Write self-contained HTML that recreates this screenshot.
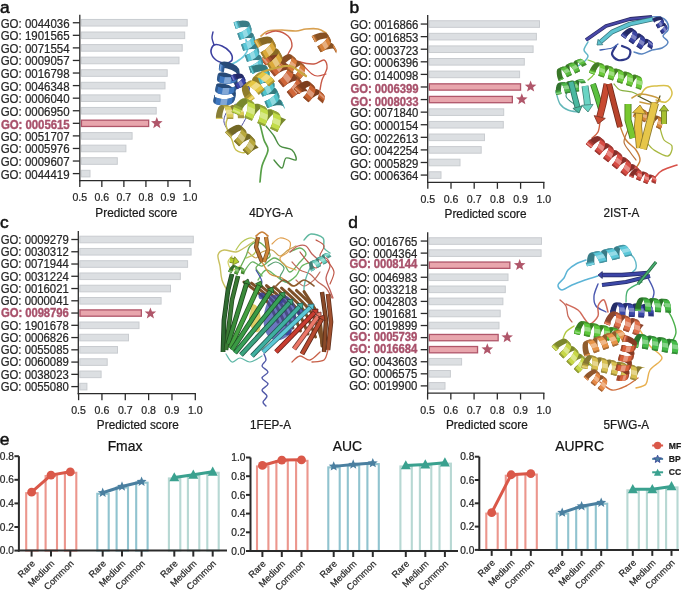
<!DOCTYPE html><html><head><meta charset="utf-8"><style>
html,body{margin:0;padding:0;background:#fff;}
svg{display:block;font-family:'Liberation Sans', Arial, Helvetica, sans-serif;}
text{paint-order:stroke;}
</style></head><body>
<svg width="685" height="590" viewBox="0 0 685 590">
<rect width="685" height="590" fill="#fff"/>
<text transform="translate(0.00,12.80) scale(1,1.0)" font-size="17.4" fill="#111" stroke="#111" stroke-width="0.5">a</text>
<rect x="81.30" y="19.45" width="105.90" height="6.60" fill="#dcdfe2" stroke="#c9ccd0" stroke-width="1.0"/>
<line x1="72.8" y1="22.75" x2="79.8" y2="22.75" stroke="#2b2b2b" stroke-width="1.3"/>
<text transform="translate(69.60,27.75) scale(1,1.11)" font-size="11.5" fill="#262626" text-anchor="end" stroke="#262626" stroke-width="0.22">GO: 0044036</text>
<rect x="81.30" y="32.02" width="103.40" height="6.60" fill="#dcdfe2" stroke="#c9ccd0" stroke-width="1.0"/>
<line x1="72.8" y1="35.32" x2="79.8" y2="35.32" stroke="#2b2b2b" stroke-width="1.3"/>
<text transform="translate(69.60,40.32) scale(1,1.11)" font-size="11.5" fill="#262626" text-anchor="end" stroke="#262626" stroke-width="0.22">GO: 1901565</text>
<rect x="81.30" y="44.59" width="100.90" height="6.60" fill="#dcdfe2" stroke="#c9ccd0" stroke-width="1.0"/>
<line x1="72.8" y1="47.89" x2="79.8" y2="47.89" stroke="#2b2b2b" stroke-width="1.3"/>
<text transform="translate(69.60,52.89) scale(1,1.11)" font-size="11.5" fill="#262626" text-anchor="end" stroke="#262626" stroke-width="0.22">GO: 0071554</text>
<rect x="81.30" y="57.16" width="97.70" height="6.60" fill="#dcdfe2" stroke="#c9ccd0" stroke-width="1.0"/>
<line x1="72.8" y1="60.46" x2="79.8" y2="60.46" stroke="#2b2b2b" stroke-width="1.3"/>
<text transform="translate(69.60,65.46) scale(1,1.11)" font-size="11.5" fill="#262626" text-anchor="end" stroke="#262626" stroke-width="0.22">GO: 0009057</text>
<rect x="81.30" y="69.73" width="85.90" height="6.60" fill="#dcdfe2" stroke="#c9ccd0" stroke-width="1.0"/>
<line x1="72.8" y1="73.03" x2="79.8" y2="73.03" stroke="#2b2b2b" stroke-width="1.3"/>
<text transform="translate(69.60,78.03) scale(1,1.11)" font-size="11.5" fill="#262626" text-anchor="end" stroke="#262626" stroke-width="0.22">GO: 0016798</text>
<rect x="81.30" y="82.30" width="83.70" height="6.60" fill="#dcdfe2" stroke="#c9ccd0" stroke-width="1.0"/>
<line x1="72.8" y1="85.60" x2="79.8" y2="85.60" stroke="#2b2b2b" stroke-width="1.3"/>
<text transform="translate(69.60,90.60) scale(1,1.11)" font-size="11.5" fill="#262626" text-anchor="end" stroke="#262626" stroke-width="0.22">GO: 0046348</text>
<rect x="81.30" y="94.88" width="78.70" height="6.60" fill="#dcdfe2" stroke="#c9ccd0" stroke-width="1.0"/>
<line x1="72.8" y1="98.18" x2="79.8" y2="98.18" stroke="#2b2b2b" stroke-width="1.3"/>
<text transform="translate(69.60,103.18) scale(1,1.11)" font-size="11.5" fill="#262626" text-anchor="end" stroke="#262626" stroke-width="0.22">GO: 0006040</text>
<rect x="81.30" y="107.45" width="74.90" height="6.60" fill="#dcdfe2" stroke="#c9ccd0" stroke-width="1.0"/>
<line x1="72.8" y1="110.75" x2="79.8" y2="110.75" stroke="#2b2b2b" stroke-width="1.3"/>
<text transform="translate(69.60,115.75) scale(1,1.11)" font-size="11.5" fill="#262626" text-anchor="end" stroke="#262626" stroke-width="0.22">GO: 0006950</text>
<rect x="81.45" y="120.17" width="67.20" height="6.30" fill="#e8a6ad" stroke="#b0566a" stroke-width="1.3"/>
<line x1="72.8" y1="123.32" x2="79.8" y2="123.32" stroke="#2b2b2b" stroke-width="1.3"/>
<text transform="translate(69.60,129.42) scale(1,1.11)" font-size="11.5" fill="#a8506a" text-anchor="end" font-weight="bold" letter-spacing="-0.08" stroke-width="0.32" stroke="#a8506a">GO: 0005615</text>
<rect x="81.30" y="132.59" width="50.80" height="6.60" fill="#dcdfe2" stroke="#c9ccd0" stroke-width="1.0"/>
<line x1="72.8" y1="135.89" x2="79.8" y2="135.89" stroke="#2b2b2b" stroke-width="1.3"/>
<text transform="translate(69.60,140.89) scale(1,1.11)" font-size="11.5" fill="#262626" text-anchor="end" stroke="#262626" stroke-width="0.22">GO: 0051707</text>
<rect x="81.30" y="145.16" width="44.60" height="6.60" fill="#dcdfe2" stroke="#c9ccd0" stroke-width="1.0"/>
<line x1="72.8" y1="148.46" x2="79.8" y2="148.46" stroke="#2b2b2b" stroke-width="1.3"/>
<text transform="translate(69.60,153.46) scale(1,1.11)" font-size="11.5" fill="#262626" text-anchor="end" stroke="#262626" stroke-width="0.22">GO: 0005976</text>
<rect x="81.30" y="157.73" width="36.00" height="6.60" fill="#dcdfe2" stroke="#c9ccd0" stroke-width="1.0"/>
<line x1="72.8" y1="161.03" x2="79.8" y2="161.03" stroke="#2b2b2b" stroke-width="1.3"/>
<text transform="translate(69.60,166.03) scale(1,1.11)" font-size="11.5" fill="#262626" text-anchor="end" stroke="#262626" stroke-width="0.22">GO: 0009607</text>
<rect x="81.30" y="170.30" width="8.70" height="6.60" fill="#dcdfe2" stroke="#c9ccd0" stroke-width="1.0"/>
<line x1="72.8" y1="173.60" x2="79.8" y2="173.60" stroke="#2b2b2b" stroke-width="1.3"/>
<text transform="translate(69.60,178.60) scale(1,1.11)" font-size="11.5" fill="#262626" text-anchor="end" stroke="#262626" stroke-width="0.22">GO: 0044419</text>
<path d="M156.80,117.10 L158.33,121.10 L162.60,121.31 L159.27,124.00 L160.39,128.14 L156.80,125.80 L153.21,128.14 L154.33,124.00 L151.00,121.31 L155.27,121.10 Z" fill="#b0566a"/>
<line x1="79.8" y1="14.7" x2="79.8" y2="181.25" stroke="#2b2b2b" stroke-width="1.3"/>
<line x1="79.14999999999999" y1="180.6" x2="190.65" y2="180.6" stroke="#2b2b2b" stroke-width="1.3"/>
<line x1="79.80" y1="180.6" x2="79.80" y2="187.1" stroke="#2b2b2b" stroke-width="1.3"/>
<text transform="translate(79.80,201.10) scale(1,1.11)" font-size="10.6" fill="#262626" text-anchor="middle" stroke="#262626" stroke-width="0.22">0.5</text>
<line x1="101.84" y1="180.6" x2="101.84" y2="187.1" stroke="#2b2b2b" stroke-width="1.3"/>
<text transform="translate(101.84,201.10) scale(1,1.11)" font-size="10.6" fill="#262626" text-anchor="middle" stroke="#262626" stroke-width="0.22">0.6</text>
<line x1="123.88" y1="180.6" x2="123.88" y2="187.1" stroke="#2b2b2b" stroke-width="1.3"/>
<text transform="translate(123.88,201.10) scale(1,1.11)" font-size="10.6" fill="#262626" text-anchor="middle" stroke="#262626" stroke-width="0.22">0.7</text>
<line x1="145.92" y1="180.6" x2="145.92" y2="187.1" stroke="#2b2b2b" stroke-width="1.3"/>
<text transform="translate(145.92,201.10) scale(1,1.11)" font-size="10.6" fill="#262626" text-anchor="middle" stroke="#262626" stroke-width="0.22">0.8</text>
<line x1="167.96" y1="180.6" x2="167.96" y2="187.1" stroke="#2b2b2b" stroke-width="1.3"/>
<text transform="translate(167.96,201.10) scale(1,1.11)" font-size="10.6" fill="#262626" text-anchor="middle" stroke="#262626" stroke-width="0.22">0.9</text>
<line x1="190.00" y1="180.6" x2="190.00" y2="187.1" stroke="#2b2b2b" stroke-width="1.3"/>
<text transform="translate(190.00,201.10) scale(1,1.11)" font-size="10.6" fill="#262626" text-anchor="middle" stroke="#262626" stroke-width="0.22">1.0</text>
<text transform="translate(136.30,216.60) scale(1,1.11)" font-size="11.8" fill="#1a1a1a" text-anchor="middle" stroke="#1a1a1a" stroke-width="0.22">Predicted score</text>
<text transform="translate(349.50,12.50) scale(1,1.0)" font-size="17.4" fill="#111" stroke="#111" stroke-width="0.5">b</text>
<rect x="429.20" y="20.75" width="110.30" height="6.60" fill="#dcdfe2" stroke="#c9ccd0" stroke-width="1.0"/>
<line x1="420.7" y1="24.05" x2="427.7" y2="24.05" stroke="#2b2b2b" stroke-width="1.3"/>
<text transform="translate(418.40,29.35) scale(1,1.11)" font-size="11.35" fill="#262626" text-anchor="end" stroke="#262626" stroke-width="0.22">GO: 0016866</text>
<rect x="429.20" y="33.34" width="107.20" height="6.60" fill="#dcdfe2" stroke="#c9ccd0" stroke-width="1.0"/>
<line x1="420.7" y1="36.64" x2="427.7" y2="36.64" stroke="#2b2b2b" stroke-width="1.3"/>
<text transform="translate(418.40,41.94) scale(1,1.11)" font-size="11.35" fill="#262626" text-anchor="end" stroke="#262626" stroke-width="0.22">GO: 0016853</text>
<rect x="429.20" y="45.92" width="103.90" height="6.60" fill="#dcdfe2" stroke="#c9ccd0" stroke-width="1.0"/>
<line x1="420.7" y1="49.22" x2="427.7" y2="49.22" stroke="#2b2b2b" stroke-width="1.3"/>
<text transform="translate(418.40,54.52) scale(1,1.11)" font-size="11.35" fill="#262626" text-anchor="end" stroke="#262626" stroke-width="0.22">GO: 0003723</text>
<rect x="429.20" y="58.51" width="95.10" height="6.60" fill="#dcdfe2" stroke="#c9ccd0" stroke-width="1.0"/>
<line x1="420.7" y1="61.81" x2="427.7" y2="61.81" stroke="#2b2b2b" stroke-width="1.3"/>
<text transform="translate(418.40,67.11) scale(1,1.11)" font-size="11.35" fill="#262626" text-anchor="end" stroke="#262626" stroke-width="0.22">GO: 0006396</text>
<rect x="429.20" y="71.09" width="90.40" height="6.60" fill="#dcdfe2" stroke="#c9ccd0" stroke-width="1.0"/>
<line x1="420.7" y1="74.39" x2="427.7" y2="74.39" stroke="#2b2b2b" stroke-width="1.3"/>
<text transform="translate(418.40,79.69) scale(1,1.11)" font-size="11.35" fill="#262626" text-anchor="end" stroke="#262626" stroke-width="0.22">GO: 0140098</text>
<rect x="429.35" y="83.83" width="91.20" height="6.30" fill="#e8a6ad" stroke="#b0566a" stroke-width="1.3"/>
<line x1="420.7" y1="86.98" x2="427.7" y2="86.98" stroke="#2b2b2b" stroke-width="1.3"/>
<text transform="translate(418.40,93.38) scale(1,1.11)" font-size="11.35" fill="#a8506a" text-anchor="end" font-weight="bold" letter-spacing="-0.08" stroke-width="0.32" stroke="#a8506a">GO: 0006399</text>
<rect x="429.35" y="96.41" width="83.00" height="6.30" fill="#e8a6ad" stroke="#b0566a" stroke-width="1.3"/>
<line x1="420.7" y1="99.56" x2="427.7" y2="99.56" stroke="#2b2b2b" stroke-width="1.3"/>
<text transform="translate(418.40,105.96) scale(1,1.11)" font-size="11.35" fill="#a8506a" text-anchor="end" font-weight="bold" letter-spacing="-0.08" stroke-width="0.32" stroke="#a8506a">GO: 0008033</text>
<rect x="429.20" y="108.84" width="74.50" height="6.60" fill="#dcdfe2" stroke="#c9ccd0" stroke-width="1.0"/>
<line x1="420.7" y1="112.14" x2="427.7" y2="112.14" stroke="#2b2b2b" stroke-width="1.3"/>
<text transform="translate(418.40,117.44) scale(1,1.11)" font-size="11.35" fill="#262626" text-anchor="end" stroke="#262626" stroke-width="0.22">GO: 0071840</text>
<rect x="429.20" y="121.43" width="74.10" height="6.60" fill="#dcdfe2" stroke="#c9ccd0" stroke-width="1.0"/>
<line x1="420.7" y1="124.73" x2="427.7" y2="124.73" stroke="#2b2b2b" stroke-width="1.3"/>
<text transform="translate(418.40,130.03) scale(1,1.11)" font-size="11.35" fill="#262626" text-anchor="end" stroke="#262626" stroke-width="0.22">GO: 0000154</text>
<rect x="429.20" y="134.02" width="55.30" height="6.60" fill="#dcdfe2" stroke="#c9ccd0" stroke-width="1.0"/>
<line x1="420.7" y1="137.32" x2="427.7" y2="137.32" stroke="#2b2b2b" stroke-width="1.3"/>
<text transform="translate(418.40,142.62) scale(1,1.11)" font-size="11.35" fill="#262626" text-anchor="end" stroke="#262626" stroke-width="0.22">GO: 0022613</text>
<rect x="429.20" y="146.60" width="52.00" height="6.60" fill="#dcdfe2" stroke="#c9ccd0" stroke-width="1.0"/>
<line x1="420.7" y1="149.90" x2="427.7" y2="149.90" stroke="#2b2b2b" stroke-width="1.3"/>
<text transform="translate(418.40,155.20) scale(1,1.11)" font-size="11.35" fill="#262626" text-anchor="end" stroke="#262626" stroke-width="0.22">GO: 0042254</text>
<rect x="429.20" y="159.19" width="30.80" height="6.60" fill="#dcdfe2" stroke="#c9ccd0" stroke-width="1.0"/>
<line x1="420.7" y1="162.49" x2="427.7" y2="162.49" stroke="#2b2b2b" stroke-width="1.3"/>
<text transform="translate(418.40,167.78) scale(1,1.11)" font-size="11.35" fill="#262626" text-anchor="end" stroke="#262626" stroke-width="0.22">GO: 0005829</text>
<rect x="429.20" y="171.77" width="11.80" height="6.60" fill="#dcdfe2" stroke="#c9ccd0" stroke-width="1.0"/>
<line x1="420.7" y1="175.07" x2="427.7" y2="175.07" stroke="#2b2b2b" stroke-width="1.3"/>
<text transform="translate(418.40,180.37) scale(1,1.11)" font-size="11.35" fill="#262626" text-anchor="end" stroke="#262626" stroke-width="0.22">GO: 0006364</text>
<path d="M530.60,80.50 L532.13,84.50 L536.40,84.71 L533.07,87.40 L534.19,91.54 L530.60,89.20 L527.01,91.54 L528.13,87.40 L524.80,84.71 L529.07,84.50 Z" fill="#b0566a"/>
<path d="M521.80,93.30 L523.33,97.30 L527.60,97.51 L524.27,100.20 L525.39,104.34 L521.80,102.00 L518.21,104.34 L519.33,100.20 L516.00,97.51 L520.27,97.30 Z" fill="#b0566a"/>
<line x1="427.7" y1="14.9" x2="427.7" y2="182.95000000000002" stroke="#2b2b2b" stroke-width="1.3"/>
<line x1="427.05" y1="182.3" x2="544.4499999999999" y2="182.3" stroke="#2b2b2b" stroke-width="1.3"/>
<line x1="427.80" y1="182.3" x2="427.80" y2="188.8" stroke="#2b2b2b" stroke-width="1.3"/>
<text transform="translate(427.80,202.80) scale(1,1.11)" font-size="10.6" fill="#262626" text-anchor="middle" stroke="#262626" stroke-width="0.22">0.5</text>
<line x1="451.00" y1="182.3" x2="451.00" y2="188.8" stroke="#2b2b2b" stroke-width="1.3"/>
<text transform="translate(451.00,202.80) scale(1,1.11)" font-size="10.6" fill="#262626" text-anchor="middle" stroke="#262626" stroke-width="0.22">0.6</text>
<line x1="474.20" y1="182.3" x2="474.20" y2="188.8" stroke="#2b2b2b" stroke-width="1.3"/>
<text transform="translate(474.20,202.80) scale(1,1.11)" font-size="10.6" fill="#262626" text-anchor="middle" stroke="#262626" stroke-width="0.22">0.7</text>
<line x1="497.40" y1="182.3" x2="497.40" y2="188.8" stroke="#2b2b2b" stroke-width="1.3"/>
<text transform="translate(497.40,202.80) scale(1,1.11)" font-size="10.6" fill="#262626" text-anchor="middle" stroke="#262626" stroke-width="0.22">0.8</text>
<line x1="520.60" y1="182.3" x2="520.60" y2="188.8" stroke="#2b2b2b" stroke-width="1.3"/>
<text transform="translate(520.60,202.80) scale(1,1.11)" font-size="10.6" fill="#262626" text-anchor="middle" stroke="#262626" stroke-width="0.22">0.9</text>
<line x1="543.80" y1="182.3" x2="543.80" y2="188.8" stroke="#2b2b2b" stroke-width="1.3"/>
<text transform="translate(543.80,202.80) scale(1,1.11)" font-size="10.6" fill="#262626" text-anchor="middle" stroke="#262626" stroke-width="0.22">1.0</text>
<text transform="translate(485.50,217.50) scale(1,1.11)" font-size="11.8" fill="#1a1a1a" text-anchor="middle" stroke="#1a1a1a" stroke-width="0.22">Predicted score</text>
<text transform="translate(0.00,227.60) scale(1,1.0)" font-size="17.4" fill="#111" stroke="#111" stroke-width="0.5">c</text>
<rect x="79.80" y="236.20" width="113.50" height="6.60" fill="#dcdfe2" stroke="#c9ccd0" stroke-width="1.0"/>
<line x1="71.3" y1="239.50" x2="78.3" y2="239.50" stroke="#2b2b2b" stroke-width="1.3"/>
<text transform="translate(68.80,243.90) scale(1,1.11)" font-size="11.35" fill="#262626" text-anchor="end" stroke="#262626" stroke-width="0.22">GO: 0009279</text>
<rect x="79.80" y="248.46" width="111.30" height="6.60" fill="#dcdfe2" stroke="#c9ccd0" stroke-width="1.0"/>
<line x1="71.3" y1="251.76" x2="78.3" y2="251.76" stroke="#2b2b2b" stroke-width="1.3"/>
<text transform="translate(68.80,256.16) scale(1,1.11)" font-size="11.35" fill="#262626" text-anchor="end" stroke="#262626" stroke-width="0.22">GO: 0030312</text>
<rect x="79.80" y="260.72" width="107.80" height="6.60" fill="#dcdfe2" stroke="#c9ccd0" stroke-width="1.0"/>
<line x1="71.3" y1="264.02" x2="78.3" y2="264.02" stroke="#2b2b2b" stroke-width="1.3"/>
<text transform="translate(68.80,268.42) scale(1,1.11)" font-size="11.35" fill="#262626" text-anchor="end" stroke="#262626" stroke-width="0.22">GO: 0071944</text>
<rect x="79.80" y="272.97" width="100.50" height="6.60" fill="#dcdfe2" stroke="#c9ccd0" stroke-width="1.0"/>
<line x1="71.3" y1="276.27" x2="78.3" y2="276.27" stroke="#2b2b2b" stroke-width="1.3"/>
<text transform="translate(68.80,280.67) scale(1,1.11)" font-size="11.35" fill="#262626" text-anchor="end" stroke="#262626" stroke-width="0.22">GO: 0031224</text>
<rect x="79.80" y="285.23" width="90.70" height="6.60" fill="#dcdfe2" stroke="#c9ccd0" stroke-width="1.0"/>
<line x1="71.3" y1="288.53" x2="78.3" y2="288.53" stroke="#2b2b2b" stroke-width="1.3"/>
<text transform="translate(68.80,292.93) scale(1,1.11)" font-size="11.35" fill="#262626" text-anchor="end" stroke="#262626" stroke-width="0.22">GO: 0016021</text>
<rect x="79.80" y="297.49" width="81.30" height="6.60" fill="#dcdfe2" stroke="#c9ccd0" stroke-width="1.0"/>
<line x1="71.3" y1="300.79" x2="78.3" y2="300.79" stroke="#2b2b2b" stroke-width="1.3"/>
<text transform="translate(68.80,305.19) scale(1,1.11)" font-size="11.35" fill="#262626" text-anchor="end" stroke="#262626" stroke-width="0.22">GO: 0000041</text>
<rect x="79.95" y="309.90" width="61.40" height="6.30" fill="#e8a6ad" stroke="#b0566a" stroke-width="1.3"/>
<line x1="71.3" y1="313.05" x2="78.3" y2="313.05" stroke="#2b2b2b" stroke-width="1.3"/>
<text transform="translate(68.80,316.65) scale(1,1.11)" font-size="11.35" fill="#a8506a" text-anchor="end" font-weight="bold" letter-spacing="-0.08" stroke-width="0.32" stroke="#a8506a">GO: 0098796</text>
<rect x="79.80" y="322.01" width="59.20" height="6.60" fill="#dcdfe2" stroke="#c9ccd0" stroke-width="1.0"/>
<line x1="71.3" y1="325.31" x2="78.3" y2="325.31" stroke="#2b2b2b" stroke-width="1.3"/>
<text transform="translate(68.80,329.71) scale(1,1.11)" font-size="11.35" fill="#262626" text-anchor="end" stroke="#262626" stroke-width="0.22">GO: 1901678</text>
<rect x="79.80" y="334.26" width="48.70" height="6.60" fill="#dcdfe2" stroke="#c9ccd0" stroke-width="1.0"/>
<line x1="71.3" y1="337.56" x2="78.3" y2="337.56" stroke="#2b2b2b" stroke-width="1.3"/>
<text transform="translate(68.80,341.96) scale(1,1.11)" font-size="11.35" fill="#262626" text-anchor="end" stroke="#262626" stroke-width="0.22">GO: 0006826</text>
<rect x="79.80" y="346.52" width="37.70" height="6.60" fill="#dcdfe2" stroke="#c9ccd0" stroke-width="1.0"/>
<line x1="71.3" y1="349.82" x2="78.3" y2="349.82" stroke="#2b2b2b" stroke-width="1.3"/>
<text transform="translate(68.80,354.22) scale(1,1.11)" font-size="11.35" fill="#262626" text-anchor="end" stroke="#262626" stroke-width="0.22">GO: 0055085</text>
<rect x="79.80" y="358.78" width="27.40" height="6.60" fill="#dcdfe2" stroke="#c9ccd0" stroke-width="1.0"/>
<line x1="71.3" y1="362.08" x2="78.3" y2="362.08" stroke="#2b2b2b" stroke-width="1.3"/>
<text transform="translate(68.80,366.48) scale(1,1.11)" font-size="11.35" fill="#262626" text-anchor="end" stroke="#262626" stroke-width="0.22">GO: 0060089</text>
<rect x="79.80" y="371.04" width="21.30" height="6.60" fill="#dcdfe2" stroke="#c9ccd0" stroke-width="1.0"/>
<line x1="71.3" y1="374.34" x2="78.3" y2="374.34" stroke="#2b2b2b" stroke-width="1.3"/>
<text transform="translate(68.80,378.74) scale(1,1.11)" font-size="11.35" fill="#262626" text-anchor="end" stroke="#262626" stroke-width="0.22">GO: 0038023</text>
<rect x="79.80" y="383.30" width="7.10" height="6.60" fill="#dcdfe2" stroke="#c9ccd0" stroke-width="1.0"/>
<line x1="71.3" y1="386.60" x2="78.3" y2="386.60" stroke="#2b2b2b" stroke-width="1.3"/>
<text transform="translate(68.80,391.00) scale(1,1.11)" font-size="11.35" fill="#262626" text-anchor="end" stroke="#262626" stroke-width="0.22">GO: 0055080</text>
<path d="M150.40,307.40 L151.93,311.40 L156.20,311.61 L152.87,314.30 L153.99,318.44 L150.40,316.10 L146.81,318.44 L147.93,314.30 L144.60,311.61 L148.87,311.40 Z" fill="#b0566a"/>
<line x1="78.3" y1="231.1" x2="78.3" y2="394.34999999999997" stroke="#2b2b2b" stroke-width="1.3"/>
<line x1="77.64999999999999" y1="393.7" x2="195.95000000000002" y2="393.7" stroke="#2b2b2b" stroke-width="1.3"/>
<line x1="78.60" y1="393.7" x2="78.60" y2="400.2" stroke="#2b2b2b" stroke-width="1.3"/>
<text transform="translate(78.60,414.20) scale(1,1.11)" font-size="10.6" fill="#262626" text-anchor="middle" stroke="#262626" stroke-width="0.22">0.5</text>
<line x1="101.94" y1="393.7" x2="101.94" y2="400.2" stroke="#2b2b2b" stroke-width="1.3"/>
<text transform="translate(101.94,414.20) scale(1,1.11)" font-size="10.6" fill="#262626" text-anchor="middle" stroke="#262626" stroke-width="0.22">0.6</text>
<line x1="125.28" y1="393.7" x2="125.28" y2="400.2" stroke="#2b2b2b" stroke-width="1.3"/>
<text transform="translate(125.28,414.20) scale(1,1.11)" font-size="10.6" fill="#262626" text-anchor="middle" stroke="#262626" stroke-width="0.22">0.7</text>
<line x1="148.62" y1="393.7" x2="148.62" y2="400.2" stroke="#2b2b2b" stroke-width="1.3"/>
<text transform="translate(148.62,414.20) scale(1,1.11)" font-size="10.6" fill="#262626" text-anchor="middle" stroke="#262626" stroke-width="0.22">0.8</text>
<line x1="171.96" y1="393.7" x2="171.96" y2="400.2" stroke="#2b2b2b" stroke-width="1.3"/>
<text transform="translate(171.96,414.20) scale(1,1.11)" font-size="10.6" fill="#262626" text-anchor="middle" stroke="#262626" stroke-width="0.22">0.9</text>
<line x1="195.30" y1="393.7" x2="195.30" y2="400.2" stroke="#2b2b2b" stroke-width="1.3"/>
<text transform="translate(195.30,414.20) scale(1,1.11)" font-size="10.6" fill="#262626" text-anchor="middle" stroke="#262626" stroke-width="0.22">1.0</text>
<text transform="translate(137.80,429.10) scale(1,1.11)" font-size="11.8" fill="#1a1a1a" text-anchor="middle" stroke="#1a1a1a" stroke-width="0.22">Predicted score</text>
<text transform="translate(348.20,227.50) scale(1,1.0)" font-size="17.4" fill="#111" stroke="#111" stroke-width="0.5">d</text>
<rect x="429.20" y="237.75" width="112.30" height="6.60" fill="#dcdfe2" stroke="#c9ccd0" stroke-width="1.0"/>
<line x1="420.7" y1="241.05" x2="427.7" y2="241.05" stroke="#2b2b2b" stroke-width="1.3"/>
<text transform="translate(417.30,245.55) scale(1,1.11)" font-size="11.35" fill="#262626" text-anchor="end" stroke="#262626" stroke-width="0.22">GO: 0016765</text>
<rect x="429.20" y="249.82" width="111.90" height="6.60" fill="#dcdfe2" stroke="#c9ccd0" stroke-width="1.0"/>
<line x1="420.7" y1="253.12" x2="427.7" y2="253.12" stroke="#2b2b2b" stroke-width="1.3"/>
<text transform="translate(417.30,257.62) scale(1,1.11)" font-size="11.35" fill="#262626" text-anchor="end" stroke="#262626" stroke-width="0.22">GO: 0004364</text>
<rect x="429.35" y="262.04" width="80.50" height="6.30" fill="#e8a6ad" stroke="#b0566a" stroke-width="1.3"/>
<line x1="420.7" y1="265.19" x2="427.7" y2="265.19" stroke="#2b2b2b" stroke-width="1.3"/>
<text transform="translate(417.30,268.19) scale(1,1.11)" font-size="11.35" fill="#a8506a" text-anchor="end" font-weight="bold" letter-spacing="-0.08" stroke-width="0.32" stroke="#a8506a">GO: 0008144</text>
<rect x="429.20" y="273.96" width="78.80" height="6.60" fill="#dcdfe2" stroke="#c9ccd0" stroke-width="1.0"/>
<line x1="420.7" y1="277.26" x2="427.7" y2="277.26" stroke="#2b2b2b" stroke-width="1.3"/>
<text transform="translate(417.30,281.76) scale(1,1.11)" font-size="11.35" fill="#262626" text-anchor="end" stroke="#262626" stroke-width="0.22">GO: 0046983</text>
<rect x="429.20" y="286.03" width="76.10" height="6.60" fill="#dcdfe2" stroke="#c9ccd0" stroke-width="1.0"/>
<line x1="420.7" y1="289.33" x2="427.7" y2="289.33" stroke="#2b2b2b" stroke-width="1.3"/>
<text transform="translate(417.30,293.83) scale(1,1.11)" font-size="11.35" fill="#262626" text-anchor="end" stroke="#262626" stroke-width="0.22">GO: 0033218</text>
<rect x="429.20" y="298.10" width="73.70" height="6.60" fill="#dcdfe2" stroke="#c9ccd0" stroke-width="1.0"/>
<line x1="420.7" y1="301.40" x2="427.7" y2="301.40" stroke="#2b2b2b" stroke-width="1.3"/>
<text transform="translate(417.30,305.90) scale(1,1.11)" font-size="11.35" fill="#262626" text-anchor="end" stroke="#262626" stroke-width="0.22">GO: 0042803</text>
<rect x="429.20" y="310.16" width="71.00" height="6.60" fill="#dcdfe2" stroke="#c9ccd0" stroke-width="1.0"/>
<line x1="420.7" y1="313.46" x2="427.7" y2="313.46" stroke="#2b2b2b" stroke-width="1.3"/>
<text transform="translate(417.30,317.96) scale(1,1.11)" font-size="11.35" fill="#262626" text-anchor="end" stroke="#262626" stroke-width="0.22">GO: 1901681</text>
<rect x="429.20" y="322.23" width="69.80" height="6.60" fill="#dcdfe2" stroke="#c9ccd0" stroke-width="1.0"/>
<line x1="420.7" y1="325.53" x2="427.7" y2="325.53" stroke="#2b2b2b" stroke-width="1.3"/>
<text transform="translate(417.30,330.03) scale(1,1.11)" font-size="11.35" fill="#262626" text-anchor="end" stroke="#262626" stroke-width="0.22">GO: 0019899</text>
<rect x="429.35" y="334.45" width="68.80" height="6.30" fill="#e8a6ad" stroke="#b0566a" stroke-width="1.3"/>
<line x1="420.7" y1="337.60" x2="427.7" y2="337.60" stroke="#2b2b2b" stroke-width="1.3"/>
<text transform="translate(417.30,340.60) scale(1,1.11)" font-size="11.35" fill="#a8506a" text-anchor="end" font-weight="bold" letter-spacing="-0.08" stroke-width="0.32" stroke="#a8506a">GO: 0005739</text>
<rect x="429.35" y="346.52" width="48.20" height="6.30" fill="#e8a6ad" stroke="#b0566a" stroke-width="1.3"/>
<line x1="420.7" y1="349.67" x2="427.7" y2="349.67" stroke="#2b2b2b" stroke-width="1.3"/>
<text transform="translate(417.30,352.67) scale(1,1.11)" font-size="11.35" fill="#a8506a" text-anchor="end" font-weight="bold" letter-spacing="-0.08" stroke-width="0.32" stroke="#a8506a">GO: 0016684</text>
<rect x="429.20" y="358.44" width="32.40" height="6.60" fill="#dcdfe2" stroke="#c9ccd0" stroke-width="1.0"/>
<line x1="420.7" y1="361.74" x2="427.7" y2="361.74" stroke="#2b2b2b" stroke-width="1.3"/>
<text transform="translate(417.30,366.24) scale(1,1.11)" font-size="11.35" fill="#262626" text-anchor="end" stroke="#262626" stroke-width="0.22">GO: 0043603</text>
<rect x="429.20" y="370.51" width="21.20" height="6.60" fill="#dcdfe2" stroke="#c9ccd0" stroke-width="1.0"/>
<line x1="420.7" y1="373.81" x2="427.7" y2="373.81" stroke="#2b2b2b" stroke-width="1.3"/>
<text transform="translate(417.30,378.31) scale(1,1.11)" font-size="11.35" fill="#262626" text-anchor="end" stroke="#262626" stroke-width="0.22">GO: 0006575</text>
<rect x="429.20" y="382.58" width="15.80" height="6.60" fill="#dcdfe2" stroke="#c9ccd0" stroke-width="1.0"/>
<line x1="420.7" y1="385.88" x2="427.7" y2="385.88" stroke="#2b2b2b" stroke-width="1.3"/>
<text transform="translate(417.30,390.38) scale(1,1.11)" font-size="11.35" fill="#262626" text-anchor="end" stroke="#262626" stroke-width="0.22">GO: 0019900</text>
<path d="M519.70,259.00 L521.23,263.00 L525.50,263.21 L522.17,265.90 L523.29,270.04 L519.70,267.70 L516.11,270.04 L517.23,265.90 L513.90,263.21 L518.17,263.00 Z" fill="#b0566a"/>
<path d="M507.20,331.20 L508.73,335.20 L513.00,335.41 L509.67,338.10 L510.79,342.24 L507.20,339.90 L503.61,342.24 L504.73,338.10 L501.40,335.41 L505.67,335.20 Z" fill="#b0566a"/>
<path d="M487.30,343.30 L488.83,347.30 L493.10,347.51 L489.77,350.20 L490.89,354.34 L487.30,352.00 L483.71,354.34 L484.83,350.20 L481.50,347.51 L485.77,347.30 Z" fill="#b0566a"/>
<line x1="427.7" y1="232.3" x2="427.7" y2="393.75" stroke="#2b2b2b" stroke-width="1.3"/>
<line x1="427.05" y1="393.1" x2="544.4499999999999" y2="393.1" stroke="#2b2b2b" stroke-width="1.3"/>
<line x1="427.60" y1="393.1" x2="427.60" y2="399.6" stroke="#2b2b2b" stroke-width="1.3"/>
<text transform="translate(427.60,413.60) scale(1,1.11)" font-size="10.6" fill="#262626" text-anchor="middle" stroke="#262626" stroke-width="0.22">0.5</text>
<line x1="450.84" y1="393.1" x2="450.84" y2="399.6" stroke="#2b2b2b" stroke-width="1.3"/>
<text transform="translate(450.84,413.60) scale(1,1.11)" font-size="10.6" fill="#262626" text-anchor="middle" stroke="#262626" stroke-width="0.22">0.6</text>
<line x1="474.08" y1="393.1" x2="474.08" y2="399.6" stroke="#2b2b2b" stroke-width="1.3"/>
<text transform="translate(474.08,413.60) scale(1,1.11)" font-size="10.6" fill="#262626" text-anchor="middle" stroke="#262626" stroke-width="0.22">0.7</text>
<line x1="497.32" y1="393.1" x2="497.32" y2="399.6" stroke="#2b2b2b" stroke-width="1.3"/>
<text transform="translate(497.32,413.60) scale(1,1.11)" font-size="10.6" fill="#262626" text-anchor="middle" stroke="#262626" stroke-width="0.22">0.8</text>
<line x1="520.56" y1="393.1" x2="520.56" y2="399.6" stroke="#2b2b2b" stroke-width="1.3"/>
<text transform="translate(520.56,413.60) scale(1,1.11)" font-size="10.6" fill="#262626" text-anchor="middle" stroke="#262626" stroke-width="0.22">0.9</text>
<line x1="543.80" y1="393.1" x2="543.80" y2="399.6" stroke="#2b2b2b" stroke-width="1.3"/>
<text transform="translate(543.80,413.60) scale(1,1.11)" font-size="10.6" fill="#262626" text-anchor="middle" stroke="#262626" stroke-width="0.22">1.0</text>
<text transform="translate(486.85,429.40) scale(1,1.11)" font-size="11.8" fill="#1a1a1a" text-anchor="middle" stroke="#1a1a1a" stroke-width="0.22">Predicted score</text>
<text transform="translate(249.20,216.60) scale(1,1.11)" font-size="11.7" fill="#1a1a1a" stroke="#1a1a1a" stroke-width="0.22">4DYG-A</text>
<text transform="translate(603.50,216.80) scale(1,1.11)" font-size="11.7" fill="#1a1a1a" stroke="#1a1a1a" stroke-width="0.22">2IST-A</text>
<text transform="translate(250.10,428.80) scale(1,1.11)" font-size="11.7" fill="#1a1a1a" stroke="#1a1a1a" stroke-width="0.22">1FEP-A</text>
<text transform="translate(603.60,428.80) scale(1,1.11)" font-size="11.7" fill="#1a1a1a" stroke="#1a1a1a" stroke-width="0.22">5FWG-A</text>
<text transform="translate(-0.30,445.40) scale(1,1.0)" font-size="17.4" fill="#111" stroke="#111" stroke-width="0.5">e</text>
<text transform="translate(125.00,450.70) scale(1,1.11)" font-size="13.9" fill="#111" text-anchor="middle" stroke="#111" stroke-width="0.22">Fmax</text>
<rect x="26.20" y="493.19" width="11.4" height="57.41" fill="none" stroke="#ec968d" stroke-width="2.1"/>
<rect x="45.60" y="476.08" width="11.4" height="74.52" fill="none" stroke="#ec968d" stroke-width="2.1"/>
<rect x="64.90" y="472.78" width="11.4" height="77.82" fill="none" stroke="#ec968d" stroke-width="2.1"/>
<rect x="97.30" y="493.78" width="11.4" height="56.82" fill="none" stroke="#90c3cf" stroke-width="2.1"/>
<rect x="116.60" y="487.53" width="11.4" height="63.07" fill="none" stroke="#90c3cf" stroke-width="2.1"/>
<rect x="136.20" y="482.69" width="11.4" height="67.91" fill="none" stroke="#90c3cf" stroke-width="2.1"/>
<rect x="168.90" y="478.44" width="11.4" height="72.16" fill="none" stroke="#b7d8d3" stroke-width="2.1"/>
<rect x="187.90" y="475.73" width="11.4" height="74.87" fill="none" stroke="#b7d8d3" stroke-width="2.1"/>
<rect x="207.30" y="472.78" width="11.4" height="77.82" fill="none" stroke="#b7d8d3" stroke-width="2.1"/>
<polyline points="31.60,492.19 51.00,475.08 70.30,471.78" fill="none" stroke="#da5849" stroke-width="3"/>
<circle cx="31.60" cy="492.19" r="4.4" fill="#da5849"/>
<circle cx="51.00" cy="475.08" r="4.4" fill="#da5849"/>
<circle cx="70.30" cy="471.78" r="4.4" fill="#da5849"/>
<polyline points="102.70,492.78 122.00,486.53 141.60,481.69" fill="none" stroke="#4a7fa0" stroke-width="3"/>
<path d="M102.70,487.58 L104.05,490.92 L107.65,491.17 L104.89,493.49 L105.76,496.99 L102.70,495.08 L99.64,496.99 L100.51,493.49 L97.75,491.17 L101.35,490.92 Z" fill="#4a7fa0"/>
<path d="M122.00,481.33 L123.35,484.67 L126.95,484.92 L124.19,487.24 L125.06,490.73 L122.00,488.83 L118.94,490.73 L119.81,487.24 L117.05,484.92 L120.65,484.67 Z" fill="#4a7fa0"/>
<path d="M141.60,476.49 L142.95,479.83 L146.55,480.08 L143.79,482.40 L144.66,485.89 L141.60,483.99 L138.54,485.89 L139.41,482.40 L136.65,480.08 L140.25,479.83 Z" fill="#4a7fa0"/>
<polyline points="174.30,477.44 193.30,474.73 212.70,471.78" fill="none" stroke="#3aa18f" stroke-width="3"/>
<path d="M174.30,472.14 L179.30,481.34 L169.30,481.34 Z" fill="#3aa18f"/>
<path d="M193.30,469.43 L198.30,478.63 L188.30,478.63 Z" fill="#3aa18f"/>
<path d="M212.70,466.48 L217.70,475.68 L207.70,475.68 Z" fill="#3aa18f"/>
<line x1="18.9" y1="456.2" x2="18.9" y2="551.6" stroke="#2b2b2b" stroke-width="2"/>
<line x1="17.9" y1="550.6" x2="227" y2="550.6" stroke="#2b2b2b" stroke-width="2"/>
<line x1="14.399999999999999" y1="550.60" x2="18.9" y2="550.60" stroke="#2b2b2b" stroke-width="2"/>
<text transform="translate(13.90,554.20) scale(1,1.11)" font-size="10.2" fill="#262626" text-anchor="end" stroke="#262626" stroke-width="0.22">0.0</text>
<line x1="14.399999999999999" y1="527.00" x2="18.9" y2="527.00" stroke="#2b2b2b" stroke-width="2"/>
<text transform="translate(13.90,530.60) scale(1,1.11)" font-size="10.2" fill="#262626" text-anchor="end" stroke="#262626" stroke-width="0.22">0.2</text>
<line x1="14.399999999999999" y1="503.40" x2="18.9" y2="503.40" stroke="#2b2b2b" stroke-width="2"/>
<text transform="translate(13.90,507.00) scale(1,1.11)" font-size="10.2" fill="#262626" text-anchor="end" stroke="#262626" stroke-width="0.22">0.4</text>
<line x1="14.399999999999999" y1="479.80" x2="18.9" y2="479.80" stroke="#2b2b2b" stroke-width="2"/>
<text transform="translate(13.90,483.40) scale(1,1.11)" font-size="10.2" fill="#262626" text-anchor="end" stroke="#262626" stroke-width="0.22">0.6</text>
<line x1="14.399999999999999" y1="456.20" x2="18.9" y2="456.20" stroke="#2b2b2b" stroke-width="2"/>
<text transform="translate(13.90,459.80) scale(1,1.11)" font-size="10.2" fill="#262626" text-anchor="end" stroke="#262626" stroke-width="0.22">0.8</text>
<line x1="31.60" y1="550.6" x2="31.60" y2="556.6" stroke="#2b2b2b" stroke-width="2"/>
<text transform="translate(35.60,564.0) rotate(-45)" font-size="9.25" text-anchor="end" fill="#262626" stroke="#262626" stroke-width="0.22">Rare</text>
<line x1="51.00" y1="550.6" x2="51.00" y2="556.6" stroke="#2b2b2b" stroke-width="2"/>
<text transform="translate(55.00,564.0) rotate(-45)" font-size="9.25" text-anchor="end" fill="#262626" stroke="#262626" stroke-width="0.22">Medium</text>
<line x1="70.30" y1="550.6" x2="70.30" y2="556.6" stroke="#2b2b2b" stroke-width="2"/>
<text transform="translate(74.30,564.0) rotate(-45)" font-size="9.25" text-anchor="end" fill="#262626" stroke="#262626" stroke-width="0.22">Common</text>
<line x1="102.70" y1="550.6" x2="102.70" y2="556.6" stroke="#2b2b2b" stroke-width="2"/>
<text transform="translate(106.70,564.0) rotate(-45)" font-size="9.25" text-anchor="end" fill="#262626" stroke="#262626" stroke-width="0.22">Rare</text>
<line x1="122.00" y1="550.6" x2="122.00" y2="556.6" stroke="#2b2b2b" stroke-width="2"/>
<text transform="translate(126.00,564.0) rotate(-45)" font-size="9.25" text-anchor="end" fill="#262626" stroke="#262626" stroke-width="0.22">Medium</text>
<line x1="141.60" y1="550.6" x2="141.60" y2="556.6" stroke="#2b2b2b" stroke-width="2"/>
<text transform="translate(145.60,564.0) rotate(-45)" font-size="9.25" text-anchor="end" fill="#262626" stroke="#262626" stroke-width="0.22">Common</text>
<line x1="174.30" y1="550.6" x2="174.30" y2="556.6" stroke="#2b2b2b" stroke-width="2"/>
<text transform="translate(178.30,564.0) rotate(-45)" font-size="9.25" text-anchor="end" fill="#262626" stroke="#262626" stroke-width="0.22">Rare</text>
<line x1="193.30" y1="550.6" x2="193.30" y2="556.6" stroke="#2b2b2b" stroke-width="2"/>
<text transform="translate(197.30,564.0) rotate(-45)" font-size="9.25" text-anchor="end" fill="#262626" stroke="#262626" stroke-width="0.22">Medium</text>
<line x1="212.70" y1="550.6" x2="212.70" y2="556.6" stroke="#2b2b2b" stroke-width="2"/>
<text transform="translate(216.70,564.0) rotate(-45)" font-size="9.25" text-anchor="end" fill="#262626" stroke="#262626" stroke-width="0.22">Common</text>
<text transform="translate(347.30,450.70) scale(1,1.11)" font-size="13.9" fill="#111" text-anchor="middle" stroke="#111" stroke-width="0.22">AUC</text>
<rect x="257.00" y="466.45" width="11.4" height="84.55" fill="none" stroke="#ec968d" stroke-width="2.1"/>
<rect x="276.40" y="461.12" width="11.4" height="89.88" fill="none" stroke="#ec968d" stroke-width="2.1"/>
<rect x="296.10" y="460.84" width="11.4" height="90.16" fill="none" stroke="#ec968d" stroke-width="2.1"/>
<rect x="328.30" y="467.38" width="11.4" height="83.62" fill="none" stroke="#90c3cf" stroke-width="2.1"/>
<rect x="347.80" y="465.51" width="11.4" height="85.49" fill="none" stroke="#90c3cf" stroke-width="2.1"/>
<rect x="367.40" y="464.11" width="11.4" height="86.89" fill="none" stroke="#90c3cf" stroke-width="2.1"/>
<rect x="400.40" y="466.45" width="11.4" height="84.55" fill="none" stroke="#b7d8d3" stroke-width="2.1"/>
<rect x="419.90" y="465.51" width="11.4" height="85.49" fill="none" stroke="#b7d8d3" stroke-width="2.1"/>
<rect x="439.50" y="463.64" width="11.4" height="87.36" fill="none" stroke="#b7d8d3" stroke-width="2.1"/>
<polyline points="262.40,465.45 281.80,460.12 301.50,459.84" fill="none" stroke="#da5849" stroke-width="3"/>
<circle cx="262.40" cy="465.45" r="4.4" fill="#da5849"/>
<circle cx="281.80" cy="460.12" r="4.4" fill="#da5849"/>
<circle cx="301.50" cy="459.84" r="4.4" fill="#da5849"/>
<polyline points="333.70,466.38 353.20,464.51 372.80,463.11" fill="none" stroke="#4a7fa0" stroke-width="3"/>
<path d="M333.70,461.18 L335.05,464.52 L338.65,464.78 L335.89,467.09 L336.76,470.59 L333.70,468.68 L330.64,470.59 L331.51,467.09 L328.75,464.78 L332.35,464.52 Z" fill="#4a7fa0"/>
<path d="M353.20,459.31 L354.55,462.65 L358.15,462.91 L355.39,465.22 L356.26,468.72 L353.20,466.81 L350.14,468.72 L351.01,465.22 L348.25,462.91 L351.85,462.65 Z" fill="#4a7fa0"/>
<path d="M372.80,457.91 L374.15,461.25 L377.75,461.50 L374.99,463.82 L375.86,467.32 L372.80,465.41 L369.74,467.32 L370.61,463.82 L367.85,461.50 L371.45,461.25 Z" fill="#4a7fa0"/>
<polyline points="405.80,465.45 425.30,464.51 444.90,462.64" fill="none" stroke="#3aa18f" stroke-width="3"/>
<path d="M405.80,460.15 L410.80,469.35 L400.80,469.35 Z" fill="#3aa18f"/>
<path d="M425.30,459.21 L430.30,468.41 L420.30,468.41 Z" fill="#3aa18f"/>
<path d="M444.90,457.34 L449.90,466.54 L439.90,466.54 Z" fill="#3aa18f"/>
<line x1="250.5" y1="457.5" x2="250.5" y2="552" stroke="#2b2b2b" stroke-width="2"/>
<line x1="249.5" y1="551" x2="458" y2="551" stroke="#2b2b2b" stroke-width="2"/>
<line x1="246.0" y1="551.00" x2="250.5" y2="551.00" stroke="#2b2b2b" stroke-width="2"/>
<text transform="translate(245.50,554.60) scale(1,1.11)" font-size="10.2" fill="#262626" text-anchor="end" stroke="#262626" stroke-width="0.22">0.0</text>
<line x1="246.0" y1="532.30" x2="250.5" y2="532.30" stroke="#2b2b2b" stroke-width="2"/>
<text transform="translate(245.50,535.90) scale(1,1.11)" font-size="10.2" fill="#262626" text-anchor="end" stroke="#262626" stroke-width="0.22">0.2</text>
<line x1="246.0" y1="513.60" x2="250.5" y2="513.60" stroke="#2b2b2b" stroke-width="2"/>
<text transform="translate(245.50,517.20) scale(1,1.11)" font-size="10.2" fill="#262626" text-anchor="end" stroke="#262626" stroke-width="0.22">0.4</text>
<line x1="246.0" y1="494.90" x2="250.5" y2="494.90" stroke="#2b2b2b" stroke-width="2"/>
<text transform="translate(245.50,498.50) scale(1,1.11)" font-size="10.2" fill="#262626" text-anchor="end" stroke="#262626" stroke-width="0.22">0.6</text>
<line x1="246.0" y1="476.20" x2="250.5" y2="476.20" stroke="#2b2b2b" stroke-width="2"/>
<text transform="translate(245.50,479.80) scale(1,1.11)" font-size="10.2" fill="#262626" text-anchor="end" stroke="#262626" stroke-width="0.22">0.8</text>
<line x1="246.0" y1="457.50" x2="250.5" y2="457.50" stroke="#2b2b2b" stroke-width="2"/>
<text transform="translate(245.50,461.10) scale(1,1.11)" font-size="10.2" fill="#262626" text-anchor="end" stroke="#262626" stroke-width="0.22">1.0</text>
<line x1="262.40" y1="551" x2="262.40" y2="557" stroke="#2b2b2b" stroke-width="2"/>
<text transform="translate(266.40,564.4) rotate(-45)" font-size="9.25" text-anchor="end" fill="#262626" stroke="#262626" stroke-width="0.22">Rare</text>
<line x1="281.80" y1="551" x2="281.80" y2="557" stroke="#2b2b2b" stroke-width="2"/>
<text transform="translate(285.80,564.4) rotate(-45)" font-size="9.25" text-anchor="end" fill="#262626" stroke="#262626" stroke-width="0.22">Medium</text>
<line x1="301.50" y1="551" x2="301.50" y2="557" stroke="#2b2b2b" stroke-width="2"/>
<text transform="translate(305.50,564.4) rotate(-45)" font-size="9.25" text-anchor="end" fill="#262626" stroke="#262626" stroke-width="0.22">Common</text>
<line x1="333.70" y1="551" x2="333.70" y2="557" stroke="#2b2b2b" stroke-width="2"/>
<text transform="translate(337.70,564.4) rotate(-45)" font-size="9.25" text-anchor="end" fill="#262626" stroke="#262626" stroke-width="0.22">Rare</text>
<line x1="353.20" y1="551" x2="353.20" y2="557" stroke="#2b2b2b" stroke-width="2"/>
<text transform="translate(357.20,564.4) rotate(-45)" font-size="9.25" text-anchor="end" fill="#262626" stroke="#262626" stroke-width="0.22">Medium</text>
<line x1="372.80" y1="551" x2="372.80" y2="557" stroke="#2b2b2b" stroke-width="2"/>
<text transform="translate(376.80,564.4) rotate(-45)" font-size="9.25" text-anchor="end" fill="#262626" stroke="#262626" stroke-width="0.22">Common</text>
<line x1="405.80" y1="551" x2="405.80" y2="557" stroke="#2b2b2b" stroke-width="2"/>
<text transform="translate(409.80,564.4) rotate(-45)" font-size="9.25" text-anchor="end" fill="#262626" stroke="#262626" stroke-width="0.22">Rare</text>
<line x1="425.30" y1="551" x2="425.30" y2="557" stroke="#2b2b2b" stroke-width="2"/>
<text transform="translate(429.30,564.4) rotate(-45)" font-size="9.25" text-anchor="end" fill="#262626" stroke="#262626" stroke-width="0.22">Medium</text>
<line x1="444.90" y1="551" x2="444.90" y2="557" stroke="#2b2b2b" stroke-width="2"/>
<text transform="translate(448.90,564.4) rotate(-45)" font-size="9.25" text-anchor="end" fill="#262626" stroke="#262626" stroke-width="0.22">Common</text>
<text transform="translate(579.60,450.70) scale(1,1.11)" font-size="13.9" fill="#111" text-anchor="middle" stroke="#111" stroke-width="0.22">AUPRC</text>
<rect x="486.30" y="513.62" width="11.4" height="36.28" fill="none" stroke="#ec968d" stroke-width="2.1"/>
<rect x="505.80" y="475.76" width="11.4" height="74.14" fill="none" stroke="#ec968d" stroke-width="2.1"/>
<rect x="525.40" y="474.59" width="11.4" height="75.31" fill="none" stroke="#ec968d" stroke-width="2.1"/>
<rect x="556.80" y="513.62" width="11.4" height="36.28" fill="none" stroke="#90c3cf" stroke-width="2.1"/>
<rect x="576.20" y="507.21" width="11.4" height="42.69" fill="none" stroke="#90c3cf" stroke-width="2.1"/>
<rect x="595.80" y="503.72" width="11.4" height="46.18" fill="none" stroke="#90c3cf" stroke-width="2.1"/>
<rect x="627.40" y="490.32" width="11.4" height="59.58" fill="none" stroke="#b7d8d3" stroke-width="2.1"/>
<rect x="646.90" y="490.32" width="11.4" height="59.58" fill="none" stroke="#b7d8d3" stroke-width="2.1"/>
<rect x="666.10" y="487.41" width="11.4" height="62.49" fill="none" stroke="#b7d8d3" stroke-width="2.1"/>
<polyline points="491.70,512.62 511.20,474.76 530.80,473.59" fill="none" stroke="#da5849" stroke-width="3"/>
<circle cx="491.70" cy="512.62" r="4.4" fill="#da5849"/>
<circle cx="511.20" cy="474.76" r="4.4" fill="#da5849"/>
<circle cx="530.80" cy="473.59" r="4.4" fill="#da5849"/>
<polyline points="562.20,512.62 581.60,506.21 601.20,502.72" fill="none" stroke="#4a7fa0" stroke-width="3"/>
<path d="M562.20,507.42 L563.55,510.76 L567.15,511.01 L564.39,513.33 L565.26,516.83 L562.20,514.92 L559.14,516.83 L560.01,513.33 L557.25,511.01 L560.85,510.76 Z" fill="#4a7fa0"/>
<path d="M581.60,501.01 L582.95,504.35 L586.55,504.61 L583.79,506.92 L584.66,510.42 L581.60,508.51 L578.54,510.42 L579.41,506.92 L576.65,504.61 L580.25,504.35 Z" fill="#4a7fa0"/>
<path d="M601.20,497.52 L602.55,500.86 L606.15,501.11 L603.39,503.43 L604.26,506.92 L601.20,505.02 L598.14,506.92 L599.01,503.43 L596.25,501.11 L599.85,500.86 Z" fill="#4a7fa0"/>
<polyline points="632.80,489.32 652.30,489.32 671.50,486.41" fill="none" stroke="#3aa18f" stroke-width="3"/>
<path d="M632.80,484.02 L637.80,493.22 L627.80,493.22 Z" fill="#3aa18f"/>
<path d="M652.30,484.02 L657.30,493.22 L647.30,493.22 Z" fill="#3aa18f"/>
<path d="M671.50,481.11 L676.50,490.31 L666.50,490.31 Z" fill="#3aa18f"/>
<line x1="479.3" y1="456.7" x2="479.3" y2="550.9" stroke="#2b2b2b" stroke-width="2"/>
<line x1="478.3" y1="549.9" x2="679" y2="549.9" stroke="#2b2b2b" stroke-width="2"/>
<line x1="474.8" y1="549.90" x2="479.3" y2="549.90" stroke="#2b2b2b" stroke-width="2"/>
<text transform="translate(474.30,553.50) scale(1,1.11)" font-size="10.2" fill="#262626" text-anchor="end" stroke="#262626" stroke-width="0.22">0.0</text>
<line x1="474.8" y1="526.60" x2="479.3" y2="526.60" stroke="#2b2b2b" stroke-width="2"/>
<text transform="translate(474.30,530.20) scale(1,1.11)" font-size="10.2" fill="#262626" text-anchor="end" stroke="#262626" stroke-width="0.22">0.2</text>
<line x1="474.8" y1="503.30" x2="479.3" y2="503.30" stroke="#2b2b2b" stroke-width="2"/>
<text transform="translate(474.30,506.90) scale(1,1.11)" font-size="10.2" fill="#262626" text-anchor="end" stroke="#262626" stroke-width="0.22">0.4</text>
<line x1="474.8" y1="480.00" x2="479.3" y2="480.00" stroke="#2b2b2b" stroke-width="2"/>
<text transform="translate(474.30,483.60) scale(1,1.11)" font-size="10.2" fill="#262626" text-anchor="end" stroke="#262626" stroke-width="0.22">0.6</text>
<line x1="474.8" y1="456.70" x2="479.3" y2="456.70" stroke="#2b2b2b" stroke-width="2"/>
<text transform="translate(474.30,460.30) scale(1,1.11)" font-size="10.2" fill="#262626" text-anchor="end" stroke="#262626" stroke-width="0.22">0.8</text>
<line x1="491.70" y1="549.9" x2="491.70" y2="555.9" stroke="#2b2b2b" stroke-width="2"/>
<text transform="translate(495.70,563.3) rotate(-45)" font-size="9.25" text-anchor="end" fill="#262626" stroke="#262626" stroke-width="0.22">Rare</text>
<line x1="511.20" y1="549.9" x2="511.20" y2="555.9" stroke="#2b2b2b" stroke-width="2"/>
<text transform="translate(515.20,563.3) rotate(-45)" font-size="9.25" text-anchor="end" fill="#262626" stroke="#262626" stroke-width="0.22">Medium</text>
<line x1="530.80" y1="549.9" x2="530.80" y2="555.9" stroke="#2b2b2b" stroke-width="2"/>
<text transform="translate(534.80,563.3) rotate(-45)" font-size="9.25" text-anchor="end" fill="#262626" stroke="#262626" stroke-width="0.22">Common</text>
<line x1="562.20" y1="549.9" x2="562.20" y2="555.9" stroke="#2b2b2b" stroke-width="2"/>
<text transform="translate(566.20,563.3) rotate(-45)" font-size="9.25" text-anchor="end" fill="#262626" stroke="#262626" stroke-width="0.22">Rare</text>
<line x1="581.60" y1="549.9" x2="581.60" y2="555.9" stroke="#2b2b2b" stroke-width="2"/>
<text transform="translate(585.60,563.3) rotate(-45)" font-size="9.25" text-anchor="end" fill="#262626" stroke="#262626" stroke-width="0.22">Medium</text>
<line x1="601.20" y1="549.9" x2="601.20" y2="555.9" stroke="#2b2b2b" stroke-width="2"/>
<text transform="translate(605.20,563.3) rotate(-45)" font-size="9.25" text-anchor="end" fill="#262626" stroke="#262626" stroke-width="0.22">Common</text>
<line x1="632.80" y1="549.9" x2="632.80" y2="555.9" stroke="#2b2b2b" stroke-width="2"/>
<text transform="translate(636.80,563.3) rotate(-45)" font-size="9.25" text-anchor="end" fill="#262626" stroke="#262626" stroke-width="0.22">Rare</text>
<line x1="652.30" y1="549.9" x2="652.30" y2="555.9" stroke="#2b2b2b" stroke-width="2"/>
<text transform="translate(656.30,563.3) rotate(-45)" font-size="9.25" text-anchor="end" fill="#262626" stroke="#262626" stroke-width="0.22">Medium</text>
<line x1="671.50" y1="549.9" x2="671.50" y2="555.9" stroke="#2b2b2b" stroke-width="2"/>
<text transform="translate(675.50,563.3) rotate(-45)" font-size="9.25" text-anchor="end" fill="#262626" stroke="#262626" stroke-width="0.22">Common</text>
<line x1="652.2" y1="445.5" x2="663.1" y2="445.5" stroke="#da5849" stroke-width="2"/>
<circle cx="657.6" cy="445.5" r="3.7" fill="#da5849"/>
<text transform="translate(668.80,448.50) scale(1,1.11)" font-size="8.6" fill="#1a1a1a" font-weight="bold" stroke="#1a1a1a" stroke-width="0.22">MF</text>
<line x1="652.2" y1="458.9" x2="663.1" y2="458.9" stroke="#4a7fa0" stroke-width="2"/>
<path d="M657.60,455.20 L658.66,457.74 L661.40,457.96 L659.31,459.76 L659.95,462.44 L657.60,461.00 L655.25,462.44 L655.89,459.76 L653.80,457.96 L656.54,457.74 Z" fill="#4a7fa0" stroke="#3a4a98" stroke-width="0.9" stroke-linejoin="round"/>
<text transform="translate(668.80,461.90) scale(1,1.11)" font-size="8.6" fill="#1a1a1a" font-weight="bold" stroke="#1a1a1a" stroke-width="0.22">BP</text>
<line x1="652.2" y1="472.3" x2="663.1" y2="472.3" stroke="#3aa18f" stroke-width="2"/>
<path d="M657.6,468.7 L661.3,475.7 L653.9,475.7 Z" fill="#3aa18f"/>
<text transform="translate(668.80,475.30) scale(1,1.11)" font-size="8.6" fill="#1a1a1a" font-weight="bold" stroke="#1a1a1a" stroke-width="0.22">CC</text>
<g>
<path d="M261.0,36.0 C262.2,35.2 264.5,32.0 268.0,31.0 C271.5,30.0 277.3,30.0 282.0,30.0 C286.7,30.0 292.0,31.2 296.0,31.0 C300.0,30.8 302.3,29.3 306.0,29.0 C309.7,28.7 314.7,28.3 318.0,29.0 C321.3,29.7 324.7,32.3 326.0,33.0" fill="none" stroke="#d8a050" stroke-width="1.7" stroke-linecap="round" stroke-linejoin="round"/>
<path d="M266.0,34.0 C267.7,33.5 272.3,30.7 276.0,31.0 C279.7,31.3 285.3,33.5 288.0,36.0 C290.7,38.5 292.0,42.7 292.0,46.0 C292.0,49.3 286.7,53.3 288.0,56.0 C289.3,58.7 295.7,60.7 300.0,62.0 C304.3,63.3 310.0,64.3 314.0,64.0 C318.0,63.7 321.8,59.3 324.0,60.0 C326.2,60.7 327.3,64.7 327.0,68.0 C326.7,71.3 323.2,76.3 322.0,80.0 C320.8,83.7 320.3,88.3 320.0,90.0" fill="none" stroke="#c85a48" stroke-width="1.4" stroke-linecap="round" stroke-linejoin="round"/>
<path d="M300.0,62.0 C302.0,64.0 309.0,71.7 312.0,74.0 C315.0,76.3 315.7,76.0 318.0,76.0 C320.3,76.0 324.7,74.3 326.0,74.0" fill="none" stroke="#c85040" stroke-width="1.2" stroke-linecap="round" stroke-linejoin="round"/>
<path d="M226.0,64.0 C224.3,63.3 218.5,62.0 216.0,60.0 C213.5,58.0 211.3,54.5 211.0,52.0 C210.7,49.5 212.2,46.0 214.0,45.0 C215.8,44.0 219.3,44.8 222.0,46.0 C224.7,47.2 228.3,49.7 230.0,52.0 C231.7,54.3 232.7,58.0 232.0,60.0 C231.3,62.0 227.0,63.3 226.0,64.0" fill="none" stroke="#3c40a0" stroke-width="1.6" stroke-linecap="round" stroke-linejoin="round"/>
<path d="M214.0,45.0 C213.7,43.8 212.2,40.2 212.0,38.0 C211.8,35.8 212.8,33.0 213.0,32.0" fill="none" stroke="#3c40a0" stroke-width="1.4" stroke-linecap="round" stroke-linejoin="round"/>
<path d="M228.0,66.0 C229.3,65.3 233.3,63.7 236.0,62.0 C238.7,60.3 242.0,58.3 244.0,56.0 C246.0,53.7 247.7,50.7 248.0,48.0 C248.3,45.3 246.3,41.3 246.0,40.0" fill="none" stroke="#6cc8dc" stroke-width="1.8" stroke-linecap="round" stroke-linejoin="round"/>
<path d="M260.0,124.0 C260.7,126.7 262.7,135.7 264.0,140.0 C265.3,144.3 268.3,145.7 268.0,150.0 C267.7,154.3 263.3,160.7 262.0,166.0 C260.7,171.3 260.3,179.3 260.0,182.0" fill="none" stroke="#58a048" stroke-width="1.7" stroke-linecap="round" stroke-linejoin="round"/>
<path d="M266.0,126.0 C267.3,127.7 271.7,132.7 274.0,136.0 C276.3,139.3 277.0,143.7 280.0,146.0 C283.0,148.3 289.3,147.7 292.0,150.0 C294.7,152.3 297.0,158.7 296.0,160.0 C295.0,161.3 288.3,156.7 286.0,158.0 C283.7,159.3 284.0,167.7 282.0,168.0 C280.0,168.3 275.3,161.3 274.0,160.0" fill="none" stroke="#4a8e42" stroke-width="1.4" stroke-linecap="round" stroke-linejoin="round"/>
<path d="M236.0,104.0 C234.7,105.0 230.0,107.0 228.0,110.0 C226.0,113.0 223.3,118.0 224.0,122.0 C224.7,126.0 229.3,133.0 232.0,134.0 C234.7,135.0 237.7,130.7 240.0,128.0 C242.3,125.3 245.0,119.7 246.0,118.0" fill="none" stroke="#5050a0" stroke-width="1.0" stroke-linecap="round" stroke-linejoin="round"/>
<path d="M232.0,110.0 C231.0,112.3 226.0,119.0 226.0,124.0 C226.0,129.0 230.3,135.7 232.0,140.0 C233.7,144.3 233.7,148.0 236.0,150.0 C238.3,152.0 243.0,153.7 246.0,152.0 C249.0,150.3 252.7,142.0 254.0,140.0" fill="none" stroke="#c8c050" stroke-width="1.5" stroke-linecap="round" stroke-linejoin="round"/>
<path d="M315.0,42.2 L315.5,41.7 L317.4,40.7 L320.2,39.6 L323.5,38.7 L326.8,38.3 L329.4,38.7 L330.9,40.0 L327.6,34.1 L326.1,32.8 L323.5,32.4 L320.2,32.8 L316.9,33.7 L314.1,34.8 L312.3,35.8 L311.7,36.3Z" fill="#865124"/>
<path d="M320.6,52.3 L321.2,51.8 L323.0,50.9 L325.8,49.7 L329.2,48.9 L332.4,48.5 L335.0,48.9 L336.5,50.1 L333.3,44.2 L331.7,43.0 L329.1,42.6 L325.9,43.0 L322.6,43.9 L319.7,45.0 L317.9,45.9 L317.3,46.4Z" fill="#865124"/>
<path d="M317.8,40.6 L315.8,41.9 L315.0,42.2 L311.7,36.3 L312.5,36.0 L314.6,34.7Z" fill="#a2622c"/>
<path d="M316.8,41.3 L315.1,42.1 L311.9,36.3 L313.5,35.4Z" fill="#d8823a"/>
<path d="M316.1,41.7 L315.5,42.0 L312.2,36.1 L312.8,35.8Z" fill="#e6ae7f"/>
<path d="M330.9,40.0 L331.1,41.9 L330.1,44.3 L328.1,46.9 L325.6,49.2 L323.1,51.0 L321.3,52.1 L320.6,52.3 L317.3,46.4 L318.0,46.2 L319.8,45.1 L322.3,43.3 L324.8,41.0 L326.8,38.4 L327.8,36.0 L327.6,34.1Z" fill="#a2622c"/>
<path d="M330.7,43.2 L329.1,45.7 L326.8,48.1 L324.3,50.2 L322.2,51.6 L318.9,45.7 L321.1,44.3 L323.6,42.2 L325.9,39.8 L327.4,37.3Z" fill="#d8823a"/>
<path d="M328.5,46.4 L325.0,49.6 L321.8,43.7 L325.3,40.5Z" fill="#e6ae7f"/>
<path d="M336.5,50.1 L336.2,53.6 L333.0,47.7 L333.3,44.2Z" fill="#a2622c"/>
<path d="M336.8,50.7 L336.6,52.7 L333.3,46.8 L333.5,44.8Z" fill="#d8823a"/>
<path d="M336.8,51.3 L336.8,52.0 L333.5,46.1 L333.6,45.4Z" fill="#e6ae7f"/>
<path d="M265.7,65.5 L266.3,64.8 L268.3,63.3 L271.4,61.4 L275.1,59.7 L278.9,58.6 L282.0,58.6 L284.1,59.7 L279.0,53.4 L277.0,52.3 L273.8,52.3 L270.1,53.4 L266.3,55.1 L263.2,57.0 L261.2,58.5 L260.6,59.2Z" fill="#814024"/>
<path d="M274.4,76.4 L275.0,75.7 L277.0,74.2 L280.1,72.3 L283.8,70.6 L287.6,69.5 L290.8,69.5 L292.8,70.6 L287.8,64.3 L285.7,63.1 L282.5,63.2 L278.8,64.3 L275.0,66.0 L271.9,67.9 L269.9,69.4 L269.3,70.1Z" fill="#814024"/>
<path d="M283.1,87.3 L283.7,86.6 L285.7,85.1 L288.8,83.2 L292.5,81.5 L296.3,80.4 L299.5,80.4 L301.5,81.5 L296.5,75.2 L294.4,74.0 L291.3,74.1 L287.5,75.2 L283.7,76.9 L280.6,78.8 L278.6,80.3 L278.1,81.0Z" fill="#814024"/>
<path d="M291.8,98.2 L292.4,97.5 L294.3,96.0 L297.3,94.2 L301.0,92.5 L304.8,91.3 L307.9,91.2 L302.9,84.9 L299.7,85.0 L296.0,86.1 L292.3,87.9 L289.3,89.7 L287.3,91.2 L286.8,91.9Z" fill="#814024"/>
<path d="M272.2,59.3 L269.2,62.7 L266.7,64.9 L265.7,65.5 L260.6,59.2 L261.7,58.6 L264.1,56.4 L267.2,52.9Z" fill="#9c4d2c"/>
<path d="M270.2,61.6 L267.8,64.0 L266.2,65.3 L261.1,59.0 L262.8,57.7 L265.2,55.3Z" fill="#d0673a"/>
<path d="M268.6,63.3 L267.1,64.6 L262.1,58.3 L263.6,56.9Z" fill="#e09c7f"/>
<path d="M284.1,59.7 L284.7,62.0 L284.0,65.0 L282.1,68.5 L279.6,71.7 L277.1,74.4 L275.2,76.0 L274.4,76.4 L269.3,70.1 L270.1,69.7 L272.1,68.1 L274.6,65.4 L277.1,62.1 L279.0,58.7 L279.7,55.6 L279.0,53.4Z" fill="#9c4d2c"/>
<path d="M284.5,63.5 L283.2,66.8 L280.9,70.2 L278.4,73.1 L276.1,75.3 L271.1,68.9 L273.3,66.8 L275.9,63.8 L278.1,60.5 L279.5,57.2Z" fill="#d0673a"/>
<path d="M282.6,67.8 L279.1,72.3 L274.1,66.0 L277.5,61.5Z" fill="#e09c7f"/>
<path d="M292.8,70.6 L293.5,72.8 L292.7,75.9 L290.9,79.4 L288.3,82.6 L285.8,85.3 L283.9,86.9 L283.1,87.3 L278.1,81.0 L278.9,80.6 L280.8,78.9 L283.3,76.3 L285.8,73.0 L287.7,69.6 L288.4,66.5 L287.8,64.3Z" fill="#9c4d2c"/>
<path d="M293.2,74.4 L291.9,77.7 L289.6,81.1 L287.1,84.0 L284.8,86.1 L279.8,79.8 L282.0,77.7 L284.6,74.7 L286.8,71.4 L288.2,68.1Z" fill="#d0673a"/>
<path d="M291.3,78.7 L287.8,83.2 L282.8,76.9 L286.2,72.4Z" fill="#e09c7f"/>
<path d="M301.5,81.5 L302.2,83.7 L301.4,86.8 L299.6,90.3 L297.1,93.5 L294.5,96.2 L292.6,97.8 L291.8,98.2 L286.8,91.9 L287.6,91.4 L289.5,89.8 L292.0,87.2 L294.5,83.9 L296.4,80.5 L297.1,77.4 L296.5,75.2Z" fill="#9c4d2c"/>
<path d="M301.9,85.3 L300.6,88.6 L298.4,91.9 L295.8,94.9 L293.6,97.0 L288.5,90.7 L290.8,88.6 L293.3,85.6 L295.5,82.3 L296.9,79.0Z" fill="#d0673a"/>
<path d="M300.0,89.6 L296.5,94.1 L291.5,87.8 L295.0,83.2Z" fill="#e09c7f"/>
<path d="M282.9,66.0 L283.2,65.4 L284.4,63.9 L286.5,62.0 L289.0,60.0 L291.7,58.6 L294.1,58.0 L295.8,58.5 L290.9,54.6 L289.2,54.1 L286.8,54.6 L284.1,56.1 L281.6,58.0 L279.5,60.0 L278.3,61.5 L277.9,62.1Z" fill="#864c24"/>
<path d="M291.3,72.8 L291.7,72.2 L292.9,70.7 L294.9,68.7 L297.5,66.8 L300.2,65.3 L302.6,64.8 L304.3,65.3 L299.4,61.4 L297.6,60.8 L295.3,61.4 L292.6,62.9 L290.0,64.8 L288.0,66.8 L286.7,68.3 L286.4,68.9Z" fill="#864c24"/>
<path d="M299.8,79.6 L300.1,79.0 L301.2,77.7 L303.0,75.9 L305.4,74.0 L300.5,70.1 L298.1,71.9 L296.3,73.8 L295.2,75.1 L294.9,75.7Z" fill="#864c24"/>
<path d="M283.7,65.3 L282.9,66.0 L277.9,62.1 L278.7,61.3Z" fill="#a25c2c"/>
<path d="M283.4,65.6 L282.9,66.0 L278.0,62.1 L278.5,61.7Z" fill="#d87a3a"/>
<path d="M283.2,65.8 L283.0,66.0 L278.1,62.0 L278.3,61.9Z" fill="#e6a97f"/>
<path d="M295.8,58.5 L296.7,60.1 L296.7,62.6 L295.9,65.5 L294.5,68.4 L293.0,70.8 L291.9,72.4 L291.3,72.8 L286.4,68.9 L287.0,68.4 L288.1,66.9 L289.6,64.5 L290.9,61.6 L291.8,58.6 L291.8,56.2 L290.9,54.6Z" fill="#a25c2c"/>
<path d="M296.8,61.3 L296.3,64.1 L295.2,67.0 L293.8,69.7 L292.4,71.7 L287.5,67.7 L288.9,65.7 L290.3,63.0 L291.4,60.1 L291.9,57.4Z" fill="#d87a3a"/>
<path d="M296.1,64.9 L294.2,68.9 L289.3,65.0 L291.2,61.0Z" fill="#e6a97f"/>
<path d="M304.3,65.3 L305.2,66.9 L305.2,69.3 L304.3,72.3 L303.0,75.2 L301.5,77.6 L300.3,79.1 L299.8,79.6 L294.9,75.7 L295.4,75.2 L296.6,73.7 L298.1,71.2 L299.4,68.3 L300.2,65.4 L300.3,62.9 L299.4,61.4Z" fill="#a25c2c"/>
<path d="M305.3,68.1 L304.8,70.8 L303.7,73.8 L302.3,76.4 L300.9,78.4 L296.0,74.5 L297.4,72.5 L298.8,69.8 L299.9,66.9 L300.4,64.2Z" fill="#d87a3a"/>
<path d="M304.5,71.7 L302.7,75.7 L297.8,71.8 L299.6,67.7Z" fill="#e6a97f"/>
<path d="M299.2,94.0 L299.7,93.3 L301.2,91.7 L303.6,89.6 L306.6,87.5 L309.8,86.0 L312.5,85.5 L314.5,86.2 L309.1,81.4 L307.2,80.7 L304.4,81.2 L301.3,82.7 L298.2,84.8 L295.8,86.9 L294.3,88.6 L293.9,89.3Z" fill="#7d3d1d"/>
<path d="M308.5,102.3 L308.9,101.6 L310.4,100.0 L312.9,97.8 L315.9,95.8 L319.1,94.3 L321.8,93.7 L323.8,94.4 L318.4,89.7 L316.4,89.0 L313.7,89.5 L310.5,91.0 L307.5,93.1 L305.1,95.2 L303.5,96.8 L303.1,97.5Z" fill="#7d3d1d"/>
<path d="M302.8,89.7 L301.1,92.1 L299.8,93.6 L299.2,94.0 L293.9,89.3 L294.5,88.8 L295.8,87.3 L297.5,84.9Z" fill="#974a23"/>
<path d="M301.7,91.4 L299.5,93.9 L294.2,89.1 L296.3,86.6Z" fill="#c9622f"/>
<path d="M300.8,92.5 L300.0,93.4 L294.7,88.6 L295.5,87.7Z" fill="#dc9978"/>
<path d="M314.5,86.2 L315.4,88.1 L315.2,90.9 L314.1,94.2 L312.4,97.4 L310.6,100.1 L309.2,101.8 L308.5,102.3 L303.1,97.5 L303.8,97.0 L305.2,95.3 L307.0,92.6 L308.7,89.4 L309.9,86.1 L310.0,83.3 L309.1,81.4Z" fill="#974a23"/>
<path d="M315.5,89.5 L314.8,92.6 L313.3,95.8 L311.5,98.8 L309.9,101.0 L304.5,96.2 L306.1,94.0 L307.9,91.1 L309.4,87.8 L310.1,84.7Z" fill="#c9622f"/>
<path d="M314.4,93.5 L312.0,98.0 L306.7,93.2 L309.0,88.7Z" fill="#dc9978"/>
<path d="M323.8,94.4 L324.7,96.6 L324.3,99.9 L322.8,103.6 L317.4,98.8 L318.9,95.1 L319.4,91.8 L318.4,89.7Z" fill="#974a23"/>
<path d="M324.6,95.7 L324.7,98.1 L323.9,101.1 L318.5,96.3 L319.3,93.4 L319.2,90.9Z" fill="#c9622f"/>
<path d="M324.7,97.2 L324.5,99.2 L319.1,94.4 L319.4,92.4Z" fill="#dc9978"/>
<path d="M235.7,28.8 L236.4,28.5 L238.4,27.8 L241.4,27.2 L244.8,26.9 L248.0,27.2 L250.5,28.0 L251.8,29.5 L249.6,23.1 L248.4,21.6 L245.9,20.8 L242.6,20.6 L239.2,20.9 L236.2,21.4 L234.2,22.1 L233.6,22.5Z" fill="#397c86"/>
<path d="M239.5,39.8 L240.1,39.5 L242.1,38.8 L245.1,38.2 L248.5,38.0 L251.8,38.2 L254.3,39.0 L255.6,40.5 L253.4,34.1 L252.1,32.7 L249.6,31.8 L246.4,31.6 L242.9,31.9 L240.0,32.5 L238.0,33.1 L237.3,33.5Z" fill="#397c86"/>
<path d="M243.2,50.8 L243.9,50.5 L245.9,49.8 L248.9,49.2 L252.3,49.0 L255.5,49.2 L258.0,50.0 L259.3,51.5 L257.1,45.1 L255.9,43.7 L253.4,42.8 L250.1,42.6 L246.7,42.9 L243.7,43.5 L241.7,44.1 L241.1,44.5Z" fill="#397c86"/>
<path d="M247.0,61.8 L247.6,61.5 L249.6,60.8 L252.6,60.3 L256.0,60.0 L259.3,60.2 L261.8,61.0 L263.1,62.5 L260.9,56.1 L259.6,54.7 L257.1,53.8 L253.9,53.6 L250.4,53.9 L247.5,54.5 L245.5,55.1 L244.8,55.5Z" fill="#397c86"/>
<path d="M250.7,72.9 L251.3,72.5 L249.2,66.1 L248.6,66.5Z" fill="#397c86"/>
<path d="M240.7,26.9 L238.2,28.1 L236.4,28.8 L235.7,28.8 L233.6,22.5 L234.2,22.4 L236.0,21.7 L238.5,20.6Z" fill="#4596a2"/>
<path d="M239.0,27.8 L236.1,28.8 L233.9,22.5 L236.8,21.4Z" fill="#5cc8d8"/>
<path d="M237.8,28.3 L236.7,28.7 L234.5,22.3 L235.6,21.9Z" fill="#95dbe6"/>
<path d="M251.8,29.5 L251.7,31.5 L250.2,33.6 L247.8,35.8 L244.9,37.7 L242.2,39.0 L240.2,39.7 L239.5,39.8 L237.3,33.5 L238.1,33.4 L240.0,32.6 L242.7,31.3 L245.6,29.4 L248.1,27.3 L249.5,25.1 L249.6,23.1Z" fill="#4596a2"/>
<path d="M251.1,32.6 L249.1,34.8 L246.4,36.8 L243.5,38.4 L241.2,39.4 L239.0,33.0 L241.4,32.0 L244.2,30.4 L246.9,28.4 L248.9,26.2Z" fill="#5cc8d8"/>
<path d="M248.4,35.4 L244.3,38.0 L242.2,31.6 L246.2,29.0Z" fill="#95dbe6"/>
<path d="M255.6,40.5 L255.4,42.5 L254.0,44.7 L251.6,46.8 L248.7,48.7 L245.9,50.0 L244.0,50.7 L243.2,50.8 L241.1,44.5 L241.8,44.4 L243.8,43.6 L246.5,42.3 L249.4,40.4 L251.8,38.3 L253.3,36.1 L253.4,34.1Z" fill="#4596a2"/>
<path d="M254.8,43.6 L252.8,45.8 L250.1,47.8 L247.3,49.4 L244.9,50.4 L242.7,44.1 L245.1,43.0 L248.0,41.4 L250.6,39.4 L252.6,37.2Z" fill="#5cc8d8"/>
<path d="M252.1,46.4 L248.1,49.0 L245.9,42.6 L249.9,40.0Z" fill="#95dbe6"/>
<path d="M259.3,51.5 L259.2,53.5 L257.7,55.7 L255.3,57.8 L252.4,59.7 L249.7,61.0 L247.7,61.7 L247.0,61.8 L244.8,55.5 L245.6,55.4 L247.5,54.6 L250.2,53.3 L253.1,51.4 L255.6,49.3 L257.0,47.1 L257.1,45.1Z" fill="#4596a2"/>
<path d="M258.6,54.6 L256.6,56.8 L253.9,58.8 L251.0,60.4 L248.7,61.4 L246.5,55.1 L248.9,54.0 L251.7,52.4 L254.4,50.4 L256.4,48.3Z" fill="#5cc8d8"/>
<path d="M255.8,57.4 L251.8,60.0 L249.7,53.6 L253.7,51.0Z" fill="#95dbe6"/>
<path d="M263.1,62.5 L262.9,64.5 L261.5,66.7 L259.0,68.8 L256.2,70.7 L253.4,72.0 L251.5,72.8 L250.7,72.9 L248.6,66.5 L249.3,66.4 L251.3,65.7 L254.0,64.3 L256.9,62.4 L259.3,60.3 L260.8,58.1 L260.9,56.1Z" fill="#4596a2"/>
<path d="M262.3,65.6 L260.3,67.8 L257.6,69.8 L254.8,71.4 L252.4,72.4 L250.2,66.1 L252.6,65.0 L255.4,63.4 L258.1,61.4 L260.1,59.3Z" fill="#5cc8d8"/>
<path d="M259.6,68.4 L255.6,71.0 L253.4,64.6 L257.4,62.0Z" fill="#95dbe6"/>
<path d="M252.7,73.9 L253.3,73.4 L255.4,72.6 L258.5,71.7 L262.1,71.1 L265.6,71.1 L268.3,71.8 L269.8,73.3 L267.0,66.6 L265.5,65.2 L262.8,64.5 L259.3,64.5 L255.7,65.1 L252.6,66.0 L250.5,66.8 L249.8,67.2Z" fill="#337a7e"/>
<path d="M257.5,85.3 L258.2,84.8 L260.3,84.0 L263.4,83.1 L267.0,82.5 L270.5,82.5 L273.2,83.2 L274.7,84.6 L271.9,78.0 L270.4,76.6 L267.7,75.9 L264.2,75.9 L260.6,76.5 L257.4,77.4 L255.4,78.2 L254.7,78.6Z" fill="#337a7e"/>
<path d="M262.4,96.6 L263.1,96.2 L265.2,95.4 L268.3,94.5 L271.9,93.9 L275.4,93.9 L278.1,94.6 L279.6,96.0 L276.7,89.4 L275.3,88.0 L272.5,87.3 L269.1,87.3 L265.4,87.9 L262.3,88.8 L260.3,89.6 L259.6,90.0Z" fill="#337a7e"/>
<path d="M267.3,108.0 L268.0,107.6 L270.0,106.8 L273.2,105.9 L276.8,105.3 L280.3,105.3 L283.0,106.0 L284.5,107.4 L281.6,100.8 L280.1,99.4 L277.4,98.7 L273.9,98.7 L270.3,99.3 L267.2,100.2 L265.2,101.0 L264.5,101.4Z" fill="#337a7e"/>
<path d="M254.8,73.1 L252.7,73.9 L249.8,67.2 L252.0,66.5Z" fill="#3e9399"/>
<path d="M254.0,73.5 L252.8,73.9 L250.0,67.3 L251.2,66.8Z" fill="#52c4cc"/>
<path d="M253.5,73.7 L253.1,73.8 L250.2,67.2 L250.7,67.1Z" fill="#8fd9de"/>
<path d="M269.8,73.3 L269.8,75.3 L268.5,77.8 L266.1,80.3 L263.1,82.5 L260.4,84.2 L258.3,85.1 L257.5,85.3 L254.7,78.6 L255.5,78.5 L257.5,77.6 L260.3,75.9 L263.2,73.7 L265.6,71.2 L267.0,68.7 L267.0,66.6Z" fill="#3e9399"/>
<path d="M269.3,76.6 L267.3,79.1 L264.6,81.5 L261.7,83.4 L259.3,84.7 L256.5,78.1 L258.9,76.8 L261.8,74.8 L264.5,72.5 L266.4,70.0Z" fill="#52c4cc"/>
<path d="M266.6,79.8 L262.6,82.9 L259.7,76.3 L263.8,73.2Z" fill="#8fd9de"/>
<path d="M274.7,84.6 L274.7,86.7 L273.4,89.2 L270.9,91.7 L268.0,93.9 L265.2,95.6 L263.2,96.5 L262.4,96.6 L259.6,90.0 L260.4,89.9 L262.4,88.9 L265.2,87.3 L268.1,85.1 L270.5,82.6 L271.9,80.1 L271.9,78.0Z" fill="#3e9399"/>
<path d="M274.1,88.0 L272.2,90.5 L269.5,92.9 L266.6,94.8 L264.2,96.1 L261.4,89.5 L263.8,88.2 L266.7,86.2 L269.4,83.9 L271.3,81.4Z" fill="#52c4cc"/>
<path d="M271.5,91.2 L267.4,94.3 L264.6,87.7 L268.7,84.6Z" fill="#8fd9de"/>
<path d="M279.6,96.0 L279.6,98.1 L278.2,100.6 L275.8,103.1 L272.9,105.3 L270.1,107.0 L268.1,107.9 L267.3,108.0 L264.5,101.4 L265.3,101.3 L267.3,100.3 L270.1,98.7 L273.0,96.5 L275.4,94.0 L276.8,91.5 L276.7,89.4Z" fill="#3e9399"/>
<path d="M279.0,99.4 L277.1,101.9 L274.4,104.3 L271.5,106.2 L269.1,107.5 L266.2,100.9 L268.7,99.6 L271.6,97.6 L274.3,95.3 L276.2,92.8Z" fill="#52c4cc"/>
<path d="M276.4,102.6 L272.3,105.7 L269.5,99.1 L273.5,96.0Z" fill="#8fd9de"/>
<path d="M284.5,107.4 L284.6,109.2 L281.7,102.6 L281.6,100.8Z" fill="#3e9399"/>
<path d="M284.6,107.8 L284.6,108.8 L281.8,102.2 L281.8,101.2Z" fill="#52c4cc"/>
<path d="M284.6,108.1 L284.7,108.5 L281.8,101.9 L281.8,101.5Z" fill="#8fd9de"/>
<path d="M257.7,47.7 L258.4,47.1 L260.5,46.0 L263.6,44.7 L267.4,43.6 L271.1,43.2 L274.0,43.6 L275.8,45.0 L272.0,38.3 L270.2,37.0 L267.3,36.5 L263.6,37.0 L259.8,38.0 L256.7,39.3 L254.6,40.5 L253.9,41.0Z" fill="#886924"/>
<path d="M264.3,59.1 L264.9,58.5 L267.0,57.4 L270.2,56.1 L273.9,55.1 L277.6,54.6 L280.6,55.0 L282.3,56.4 L278.5,49.8 L276.8,48.4 L273.8,48.0 L270.1,48.4 L266.4,49.5 L263.2,50.8 L261.1,51.9 L260.5,52.5Z" fill="#886924"/>
<path d="M270.8,70.5 L271.3,70.1 L273.1,69.1 L275.8,67.9 L279.2,66.8 L275.4,60.2 L272.0,61.2 L269.3,62.4 L267.6,63.4 L267.0,63.9Z" fill="#886924"/>
<path d="M262.2,45.0 L259.1,47.1 L257.7,47.7 L253.9,41.0 L255.3,40.5 L258.4,38.4Z" fill="#a5802c"/>
<path d="M260.7,46.1 L258.0,47.6 L254.2,41.0 L256.9,39.5Z" fill="#dcaa3a"/>
<path d="M259.6,46.8 L258.6,47.4 L254.8,40.7 L255.8,40.2Z" fill="#e8c87f"/>
<path d="M275.8,45.0 L276.0,47.1 L274.9,49.9 L272.7,52.8 L269.8,55.5 L267.1,57.6 L265.1,58.8 L264.3,59.1 L260.5,52.5 L261.3,52.2 L263.3,51.0 L266.0,48.9 L268.9,46.2 L271.1,43.3 L272.3,40.5 L272.0,38.3Z" fill="#a5802c"/>
<path d="M275.6,48.6 L273.8,51.4 L271.3,54.2 L268.5,56.6 L266.1,58.3 L262.3,51.7 L264.7,50.0 L267.5,47.6 L270.1,44.8 L271.8,42.0Z" fill="#dcaa3a"/>
<path d="M273.2,52.3 L269.3,56.0 L265.5,49.4 L269.4,45.6Z" fill="#e8c87f"/>
<path d="M282.3,56.4 L282.6,58.6 L281.4,61.3 L279.2,64.3 L276.4,67.0 L273.6,69.1 L271.6,70.3 L270.8,70.5 L267.0,63.9 L267.8,63.6 L269.8,62.4 L272.6,60.3 L275.4,57.6 L277.7,54.7 L278.8,52.0 L278.5,49.8Z" fill="#a5802c"/>
<path d="M282.1,60.0 L280.4,62.9 L277.8,65.7 L275.0,68.1 L272.6,69.7 L268.8,63.1 L271.2,61.4 L274.0,59.0 L276.6,56.2 L278.3,53.4Z" fill="#dcaa3a"/>
<path d="M279.7,63.7 L275.8,67.4 L272.0,60.8 L275.9,57.1Z" fill="#e8c87f"/>
<path d="M262.0,72.0 C264.3,71.3 271.3,69.0 276.0,68.0 C280.7,67.0 286.0,65.3 290.0,66.0 C294.0,66.7 297.3,70.3 300.0,72.0 C302.7,73.7 305.0,75.3 306.0,76.0" fill="none" stroke="#c9a640" stroke-width="2.2" stroke-linecap="round" stroke-linejoin="round"/>
<path d="M218.8,69.2 L220.0,68.1 L223.1,67.8 L227.2,68.4 L231.7,69.9 L235.6,72.3 L238.0,75.2 L238.6,78.2 L239.6,71.9 L239.1,68.9 L236.6,66.0 L232.8,63.7 L228.3,62.1 L224.1,61.5 L221.1,61.9 L219.9,62.9Z" fill="#274a77"/>
<path d="M216.9,80.1 L218.2,79.0 L221.2,78.6 L225.4,79.2 L229.8,80.8 L233.7,83.2 L236.2,86.1 L236.7,89.0 L237.8,82.7 L237.2,79.8 L234.8,76.9 L230.9,74.5 L226.4,72.9 L222.3,72.3 L219.3,72.7 L218.0,73.8Z" fill="#274a77"/>
<path d="M215.1,90.9 L216.3,89.8 L219.3,89.5 L223.5,90.1 L228.0,91.6 L231.8,94.0 L234.3,96.9 L234.8,99.9 L235.9,93.6 L235.4,90.6 L232.9,87.7 L229.1,85.3 L224.6,83.8 L220.4,83.2 L217.4,83.5 L216.2,84.6Z" fill="#274a77"/>
<path d="M213.2,101.7 L214.1,100.8 L215.1,94.5 L214.3,95.5Z" fill="#274a77"/>
<path d="M223.8,72.4 L220.0,70.9 L218.8,69.2 L219.9,62.9 L221.1,64.6 L224.9,66.1Z" fill="#2f5a90"/>
<path d="M221.9,71.8 L219.0,69.9 L220.0,63.7 L222.9,65.5Z" fill="#3f78c0"/>
<path d="M220.6,71.3 L219.5,70.6 L220.6,64.3 L221.6,65.0Z" fill="#82a7d6"/>
<path d="M238.6,78.2 L237.1,80.8 L233.8,82.7 L229.3,83.7 L224.6,83.7 L220.5,82.8 L217.7,81.5 L216.9,80.1 L218.0,73.8 L218.8,75.2 L221.6,76.5 L225.7,77.4 L230.4,77.4 L234.9,76.4 L238.1,74.5 L239.6,71.9Z" fill="#2f5a90"/>
<path d="M235.5,81.9 L231.6,83.3 L227.0,83.8 L222.5,83.3 L219.0,82.2 L220.1,76.0 L223.6,77.1 L228.0,77.5 L232.6,77.0 L236.6,75.7Z" fill="#3f78c0"/>
<path d="M230.3,83.6 L223.7,83.5 L224.8,77.3 L231.4,77.3Z" fill="#82a7d6"/>
<path d="M236.7,89.0 L235.2,91.6 L231.9,93.6 L227.5,94.5 L222.7,94.5 L218.6,93.7 L215.9,92.3 L215.1,90.9 L216.2,84.6 L217.0,86.0 L219.7,87.4 L223.8,88.2 L228.6,88.2 L233.0,87.3 L236.3,85.4 L237.8,82.7Z" fill="#2f5a90"/>
<path d="M233.6,92.8 L229.7,94.2 L225.1,94.6 L220.6,94.2 L217.1,93.1 L218.2,86.8 L221.7,87.9 L226.2,88.3 L230.8,87.9 L234.7,86.5Z" fill="#3f78c0"/>
<path d="M228.4,94.4 L221.8,94.4 L222.9,88.1 L229.5,88.1Z" fill="#82a7d6"/>
<path d="M234.8,99.9 L233.3,102.5 L230.1,104.4 L225.6,105.4 L220.9,105.3 L216.8,104.5 L214.0,103.2 L213.2,101.7 L214.3,95.5 L215.1,96.9 L217.8,98.2 L222.0,99.1 L226.7,99.1 L231.1,98.1 L234.4,96.2 L235.9,93.6Z" fill="#2f5a90"/>
<path d="M231.8,103.6 L227.8,105.0 L223.2,105.5 L218.8,105.0 L215.3,103.9 L216.4,97.6 L219.9,98.7 L224.3,99.2 L228.9,98.7 L232.8,97.3Z" fill="#3f78c0"/>
<path d="M226.6,105.2 L220.0,105.2 L221.1,98.9 L227.6,99.0Z" fill="#82a7d6"/>
<path d="M232.7,80.9 L233.2,80.5 L234.7,79.8 L237.0,79.0 L239.7,78.4 L242.3,78.3 L244.4,78.7 L245.6,79.7 L243.1,74.9 L242.0,73.9 L239.9,73.4 L237.3,73.6 L234.6,74.2 L232.3,75.0 L230.8,75.7 L230.3,76.1Z" fill="#242a68"/>
<path d="M236.9,89.2 L237.4,88.9 L238.9,88.1 L241.2,87.4 L243.9,86.8 L246.5,86.6 L248.5,87.0 L249.7,88.0 L247.3,83.2 L246.1,82.2 L244.1,81.8 L241.5,81.9 L238.8,82.5 L236.5,83.3 L235.0,84.0 L234.5,84.4Z" fill="#242a68"/>
<path d="M236.9,78.5 L234.9,79.9 L233.4,80.7 L232.7,80.9 L230.3,76.1 L230.9,75.9 L232.5,75.1 L234.5,73.7Z" fill="#2c337e"/>
<path d="M235.5,79.5 L233.0,80.9 L230.6,76.0 L233.1,74.7Z" fill="#3a44a8"/>
<path d="M234.5,80.1 L233.6,80.6 L231.2,75.8 L232.1,75.3Z" fill="#7f85c6"/>
<path d="M245.6,79.7 L245.7,81.3 L244.8,83.2 L243.1,85.1 L241.0,86.9 L239.0,88.3 L237.5,89.1 L236.9,89.2 L234.5,84.4 L235.1,84.2 L236.5,83.5 L238.6,82.1 L240.7,80.3 L242.4,78.3 L243.3,76.4 L243.1,74.9Z" fill="#2c337e"/>
<path d="M245.3,82.3 L244.0,84.2 L242.0,86.1 L240.0,87.6 L238.2,88.7 L235.8,83.9 L237.6,82.8 L239.6,81.3 L241.5,79.4 L242.9,77.4Z" fill="#3a44a8"/>
<path d="M243.4,84.8 L240.5,87.2 L238.1,82.4 L241.0,79.9Z" fill="#7f85c6"/>
<path d="M249.7,88.0 L249.9,89.5 L249.0,91.3 L247.5,93.2 L245.1,88.4 L246.6,86.5 L247.4,84.7 L247.3,83.2Z" fill="#2c337e"/>
<path d="M249.9,89.0 L248.6,92.0 L246.2,87.1 L247.5,84.1Z" fill="#3a44a8"/>
<path d="M249.8,89.8 L249.3,90.9 L246.9,86.1 L247.3,85.0Z" fill="#7f85c6"/>
<path d="M254.6,98.2 L253.9,97.7 L252.5,95.9 L250.6,93.0 L248.9,89.4 L247.8,85.9 L247.7,82.9 L248.8,81.0 L242.9,85.9 L241.9,87.8 L242.0,90.8 L243.0,94.3 L244.7,97.8 L246.6,100.7 L248.0,102.6 L248.7,103.1Z" fill="#8f7c2a"/>
<path d="M264.7,89.8 L264.0,89.3 L262.6,87.4 L260.7,84.5 L259.0,81.0 L258.0,77.5 L257.8,74.5 L258.9,72.5 L253.0,77.4 L252.0,79.4 L252.1,82.4 L253.2,85.9 L254.9,89.4 L256.7,92.3 L258.2,94.2 L258.8,94.7Z" fill="#8f7c2a"/>
<path d="M274.8,81.4 L274.1,80.7 L272.4,78.6 L266.6,83.5 L268.2,85.6 L269.0,86.3Z" fill="#8f7c2a"/>
<path d="M249.9,93.3 L252.5,95.6 L254.2,97.5 L254.6,98.2 L248.7,103.1 L248.3,102.4 L246.7,100.5 L244.1,98.1Z" fill="#ac9633"/>
<path d="M251.8,94.9 L254.4,97.9 L248.6,102.8 L245.9,99.7Z" fill="#e6c844"/>
<path d="M253.0,96.1 L253.9,97.2 L248.1,102.1 L247.1,101.0Z" fill="#efdb85"/>
<path d="M248.8,81.0 L250.9,80.3 L253.8,80.9 L257.1,82.6 L260.2,84.9 L262.7,87.3 L264.3,89.1 L264.7,89.8 L258.8,94.7 L258.4,93.9 L256.9,92.2 L254.3,89.8 L251.2,87.5 L247.9,85.8 L245.0,85.2 L242.9,85.9Z" fill="#ac9633"/>
<path d="M252.4,80.5 L255.5,81.7 L258.7,83.8 L261.5,86.1 L263.6,88.2 L257.7,93.1 L255.7,91.0 L252.8,88.6 L249.6,86.6 L246.5,85.4Z" fill="#e6c844"/>
<path d="M256.4,82.2 L260.8,85.4 L254.9,90.3 L250.5,87.1Z" fill="#efdb85"/>
<path d="M258.9,72.5 L261.0,71.9 L263.9,72.5 L267.2,74.2 L270.3,76.5 L272.9,78.8 L274.4,80.6 L274.8,81.4 L269.0,86.3 L268.5,85.5 L267.0,83.7 L264.5,81.4 L261.3,79.1 L258.0,77.4 L255.1,76.8 L253.0,77.4Z" fill="#ac9633"/>
<path d="M262.5,72.1 L265.6,73.3 L268.8,75.3 L271.7,77.7 L273.7,79.8 L267.8,84.7 L265.8,82.6 L262.9,80.2 L259.7,78.2 L256.6,77.0Z" fill="#e6c844"/>
<path d="M266.5,73.8 L270.9,77.0 L265.0,81.9 L260.7,78.7Z" fill="#efdb85"/>
<path d="M222.3,119.0 L222.2,118.3 L222.2,116.4 L222.6,113.6 L223.4,110.4 L224.5,107.6 L226.0,105.7 L227.7,105.0 L221.4,105.0 L219.8,105.7 L218.2,107.6 L217.1,110.4 L216.3,113.6 L215.9,116.4 L215.9,118.3 L216.0,119.0Z" fill="#887e37"/>
<path d="M233.2,119.0 L233.0,118.3 L233.1,116.4 L233.4,113.6 L234.2,110.4 L235.4,107.6 L236.9,105.7 L238.6,105.0 L232.3,105.0 L230.6,105.7 L229.1,107.6 L227.9,110.4 L227.1,113.6 L226.8,116.4 L226.7,118.3 L226.9,119.0Z" fill="#887e37"/>
<path d="M222.5,117.5 L222.3,119.0 L216.0,119.0 L216.2,117.5Z" fill="#a59942"/>
<path d="M222.5,118.1 L222.4,118.9 L216.1,118.9 L216.2,118.1Z" fill="#dccc58"/>
<path d="M222.4,118.4 L222.4,118.7 L216.1,118.7 L216.1,118.4Z" fill="#e8de92"/>
<path d="M227.7,105.0 L229.4,105.7 L230.9,107.6 L232.1,110.4 L232.9,113.6 L233.2,116.4 L233.3,118.3 L233.2,119.0 L226.9,119.0 L227.0,118.3 L227.0,116.4 L226.6,113.6 L225.8,110.4 L224.6,107.6 L223.1,105.7 L221.4,105.0Z" fill="#a59942"/>
<path d="M230.3,106.6 L231.6,109.0 L232.5,112.0 L233.1,115.0 L233.3,117.4 L227.0,117.4 L226.8,115.0 L226.2,112.0 L225.3,109.0 L224.0,106.6Z" fill="#dccc58"/>
<path d="M231.9,109.8 L233.0,114.2 L226.7,114.2 L225.6,109.8Z" fill="#e8de92"/>
<path d="M238.6,105.0 L240.2,105.7 L241.7,107.5 L242.9,110.3 L243.7,113.3 L244.1,116.1 L244.1,118.2 L237.9,118.2 L237.8,116.1 L237.4,113.3 L236.6,110.3 L235.4,107.5 L233.9,105.7 L232.3,105.0Z" fill="#a59942"/>
<path d="M240.7,106.2 L242.3,108.7 L243.4,112.0 L244.0,115.3 L237.7,115.3 L237.1,112.0 L236.0,108.7 L234.4,106.2Z" fill="#dccc58"/>
<path d="M242.2,108.6 L243.4,112.1 L237.1,112.1 L235.9,108.6Z" fill="#e8de92"/>
<path d="M239.1,115.2 L239.3,114.3 L240.4,112.0 L242.2,108.9 L244.7,105.6 L247.6,102.9 L250.3,101.4 L252.7,101.4 L245.3,98.2 L242.9,98.2 L240.2,99.7 L237.3,102.4 L234.8,105.7 L232.9,108.8 L231.9,111.1 L231.7,111.9Z" fill="#78882d"/>
<path d="M251.9,120.7 L252.1,119.8 L253.2,117.6 L255.0,114.5 L257.5,111.2 L260.4,108.5 L263.1,107.0 L265.5,107.0 L258.1,103.8 L255.7,103.7 L252.9,105.2 L250.1,108.0 L247.6,111.2 L245.7,114.4 L244.7,116.6 L244.5,117.5Z" fill="#78882d"/>
<path d="M264.7,126.3 L264.9,125.4 L265.9,123.1 L267.8,120.0 L270.3,116.7 L273.2,114.0 L275.9,112.5 L278.3,112.6 L270.9,109.3 L268.5,109.3 L265.7,110.8 L262.9,113.5 L260.4,116.8 L258.5,119.9 L257.5,122.2 L257.3,123.1Z" fill="#78882d"/>
<path d="M277.5,131.9 L277.7,130.9 L278.8,128.6 L280.7,125.5 L283.3,122.2 L286.1,119.5 L278.7,116.2 L275.8,118.9 L273.3,122.2 L271.4,125.4 L270.3,127.7 L270.1,128.6Z" fill="#78882d"/>
<path d="M241.8,107.5 L240.8,111.5 L239.7,114.3 L239.1,115.2 L231.7,111.9 L232.3,111.0 L233.3,108.3 L234.4,104.3Z" fill="#92a536"/>
<path d="M241.2,110.3 L240.2,113.1 L239.4,114.8 L232.0,111.6 L232.8,109.9 L233.7,107.0Z" fill="#c2dc48"/>
<path d="M240.5,112.2 L239.9,113.9 L232.5,110.6 L233.1,109.0Z" fill="#d7e888"/>
<path d="M252.7,101.4 L254.3,103.1 L255.1,106.2 L255.1,110.1 L254.4,114.2 L253.4,117.7 L252.4,120.0 L251.9,120.7 L244.5,117.5 L245.0,116.8 L245.9,114.4 L247.0,110.9 L247.6,106.9 L247.7,103.0 L246.9,99.9 L245.3,98.2Z" fill="#92a536"/>
<path d="M254.9,104.6 L255.2,108.2 L254.8,112.2 L253.9,116.0 L252.9,118.9 L245.5,115.7 L246.5,112.7 L247.4,108.9 L247.8,104.9 L247.4,101.4Z" fill="#c2dc48"/>
<path d="M255.1,109.3 L254.2,114.9 L246.8,111.7 L247.7,106.1Z" fill="#d7e888"/>
<path d="M265.5,107.0 L267.1,108.7 L267.9,111.7 L267.8,115.7 L267.2,119.7 L266.2,123.2 L265.2,125.5 L264.7,126.3 L257.3,123.1 L257.8,122.3 L258.7,120.0 L259.7,116.5 L260.4,112.4 L260.5,108.5 L259.7,105.5 L258.1,103.8Z" fill="#92a536"/>
<path d="M267.6,110.2 L268.0,113.7 L267.6,117.7 L266.7,121.5 L265.7,124.5 L258.3,121.2 L259.3,118.3 L260.1,114.5 L260.5,110.5 L260.2,107.0Z" fill="#c2dc48"/>
<path d="M267.9,114.8 L267.0,120.5 L259.6,117.3 L260.5,111.6Z" fill="#d7e888"/>
<path d="M278.3,112.6 L279.9,114.2 L280.7,117.3 L280.6,121.2 L280.0,125.3 L279.0,128.8 L278.0,131.1 L277.5,131.9 L270.1,128.6 L270.6,127.9 L271.5,125.6 L272.5,122.1 L273.2,118.0 L273.3,114.1 L272.5,111.0 L270.9,109.3Z" fill="#92a536"/>
<path d="M280.4,115.8 L280.8,119.3 L280.4,123.3 L279.5,127.1 L278.5,130.0 L271.1,126.8 L272.1,123.9 L272.9,120.1 L273.3,116.1 L273.0,112.5Z" fill="#c2dc48"/>
<path d="M280.7,120.4 L279.8,126.1 L272.4,122.8 L273.3,117.2Z" fill="#d7e888"/>
<path d="M230.2,137.6 L230.7,136.9 L232.3,135.4 L234.9,133.4 L238.0,131.5 L241.2,130.2 L244.0,129.8 L245.9,130.6 L240.9,125.5 L238.9,124.7 L236.1,125.1 L232.9,126.4 L229.8,128.3 L227.2,130.3 L225.6,131.8 L225.2,132.5Z" fill="#726825"/>
<path d="M239.0,146.3 L239.5,145.7 L241.1,144.1 L243.6,142.1 L246.8,140.3 L250.0,138.9 L252.8,138.6 L254.7,139.4 L249.6,134.3 L247.7,133.5 L244.9,133.9 L241.7,135.2 L238.5,137.1 L236.0,139.0 L234.4,140.6 L233.9,141.2Z" fill="#726825"/>
<path d="M247.8,155.1 L248.2,154.4 L249.8,152.9 L252.3,151.0 L255.4,149.1 L258.7,147.7 L253.6,142.7 L250.4,144.0 L247.3,145.9 L244.7,147.8 L243.1,149.3 L242.7,150.0Z" fill="#726825"/>
<path d="M232.7,135.1 L231.0,137.0 L230.2,137.6 L225.2,132.5 L225.9,131.9 L227.7,130.1Z" fill="#8a7e2d"/>
<path d="M231.9,136.1 L230.4,137.5 L225.3,132.4 L226.8,131.0Z" fill="#b8a83c"/>
<path d="M231.3,136.7 L230.8,137.2 L225.7,132.1 L226.2,131.7Z" fill="#d1c680"/>
<path d="M245.9,130.6 L246.7,132.5 L246.4,135.3 L245.1,138.6 L243.2,141.7 L241.2,144.3 L239.7,145.9 L239.0,146.3 L233.9,141.2 L234.6,140.8 L236.1,139.2 L238.1,136.6 L240.0,133.5 L241.3,130.2 L241.7,127.5 L240.9,125.5Z" fill="#8a7e2d"/>
<path d="M246.7,134.0 L245.8,137.0 L244.2,140.2 L242.2,143.0 L240.4,145.1 L235.3,140.1 L237.1,137.9 L239.1,135.1 L240.7,131.9 L241.6,128.9Z" fill="#b8a83c"/>
<path d="M245.4,137.9 L242.8,142.3 L237.7,137.2 L240.3,132.8Z" fill="#d1c680"/>
<path d="M254.7,139.4 L255.5,141.3 L255.2,144.1 L253.8,147.3 L252.0,150.5 L250.0,153.0 L248.4,154.6 L247.8,155.1 L242.7,150.0 L243.4,149.6 L244.9,147.9 L246.9,145.4 L248.8,142.2 L250.1,139.0 L250.4,136.2 L249.6,134.3Z" fill="#8a7e2d"/>
<path d="M255.5,142.7 L254.6,145.8 L252.9,148.9 L251.0,151.8 L249.2,153.9 L244.1,148.8 L245.9,146.7 L247.9,143.9 L249.5,140.7 L250.4,137.7Z" fill="#b8a83c"/>
<path d="M254.2,146.7 L251.5,151.0 L246.5,146.0 L249.1,141.6Z" fill="#d1c680"/>
</g>
<g>
<path d="M588.0,42.0 C587.3,43.3 584.0,47.7 584.0,50.0 C584.0,52.3 588.0,54.0 588.0,56.0 C588.0,58.0 585.7,60.3 584.0,62.0 C582.3,63.7 579.0,65.3 578.0,66.0" fill="none" stroke="#62b7c8" stroke-width="1.5" stroke-linecap="round" stroke-linejoin="round"/>
<path d="M650.0,17.0 C651.7,17.0 657.2,16.2 660.0,17.0 C662.8,17.8 665.7,19.8 667.0,22.0 C668.3,24.2 668.7,27.7 668.0,30.0 C667.3,32.3 663.0,34.0 663.0,36.0 C663.0,38.0 668.2,40.0 668.0,42.0 C667.8,44.0 664.7,46.7 662.0,48.0 C659.3,49.3 655.3,49.0 652.0,50.0 C648.7,51.0 645.0,53.7 642.0,54.0 C639.0,54.3 635.3,52.3 634.0,52.0" fill="none" stroke="#5a86c0" stroke-width="1.5" stroke-linecap="round" stroke-linejoin="round"/>
<path d="M616.0,46.0 C615.3,47.3 611.7,51.7 612.0,54.0 C612.3,56.3 615.3,59.3 618.0,60.0 C620.7,60.7 626.0,59.7 628.0,58.0 C630.0,56.3 631.0,52.0 630.0,50.0 C629.0,48.0 623.3,46.7 622.0,46.0" fill="none" stroke="#2e3888" stroke-width="2.2" stroke-linecap="round" stroke-linejoin="round"/>
<path d="M600.0,50.0 C602.0,49.7 609.0,49.0 612.0,48.0 C615.0,47.0 617.0,44.7 618.0,44.0" fill="none" stroke="#4060b0" stroke-width="1.3" stroke-linecap="round" stroke-linejoin="round"/>
<path d="M556.0,92.0 C556.7,94.0 558.0,101.0 560.0,104.0 C562.0,107.0 565.0,108.7 568.0,110.0 C571.0,111.3 576.3,111.7 578.0,112.0" fill="none" stroke="#62b7b8" stroke-width="1.4" stroke-linecap="round" stroke-linejoin="round"/>
<path d="M572.0,84.0 C571.0,86.0 565.7,92.7 566.0,96.0 C566.3,99.3 572.7,102.7 574.0,104.0" fill="none" stroke="#3f8f80" stroke-width="1.1" stroke-linecap="round" stroke-linejoin="round"/>
<path d="M588.0,60.0 C589.3,60.7 595.0,61.7 596.0,64.0 C597.0,66.3 595.3,71.3 594.0,74.0 C592.7,76.7 589.0,79.0 588.0,80.0" fill="none" stroke="#88c840" stroke-width="1.3" stroke-linecap="round" stroke-linejoin="round"/>
<path d="M640.0,96.0 C641.0,94.7 643.3,89.7 646.0,88.0 C648.7,86.3 652.3,86.3 656.0,86.0 C659.7,85.7 665.3,84.7 668.0,86.0 C670.7,87.3 672.3,91.3 672.0,94.0 C671.7,96.7 668.7,101.0 666.0,102.0 C663.3,103.0 657.7,100.3 656.0,100.0" fill="none" stroke="#d8c04a" stroke-width="1.5" stroke-linecap="round" stroke-linejoin="round"/>
<path d="M638.0,96.0 C639.3,96.7 643.0,98.7 646.0,100.0 C649.0,101.3 653.7,104.7 656.0,104.0 C658.3,103.3 659.3,97.3 660.0,96.0" fill="none" stroke="#505020" stroke-width="1.3" stroke-linecap="round" stroke-linejoin="round"/>
<path d="M620.0,126.0 C621.0,128.3 623.3,136.0 626.0,140.0 C628.7,144.0 633.7,146.7 636.0,150.0 C638.3,153.3 640.0,157.0 640.0,160.0 C640.0,163.0 636.7,166.7 636.0,168.0" fill="none" stroke="#c9803a" stroke-width="1.4" stroke-linecap="round" stroke-linejoin="round"/>
<path d="M628.0,130.0 C627.3,132.0 623.7,138.3 624.0,142.0 C624.3,145.7 628.0,149.0 630.0,152.0 C632.0,155.0 635.0,158.7 636.0,160.0" fill="none" stroke="#b87038" stroke-width="1.2" stroke-linecap="round" stroke-linejoin="round"/>
<path d="M660.0,128.0 C660.7,130.0 662.0,137.0 664.0,140.0 C666.0,143.0 671.3,143.3 672.0,146.0 C672.7,148.7 671.0,155.3 668.0,156.0 C665.0,156.7 657.3,152.0 654.0,150.0 C650.7,148.0 649.0,145.0 648.0,144.0" fill="none" stroke="#a8b840" stroke-width="1.3" stroke-linecap="round" stroke-linejoin="round"/>
<path d="M652.0,181.0 C653.3,179.5 657.3,174.2 660.0,172.0 C662.7,169.8 665.2,169.2 668.0,168.0 C670.8,166.8 675.5,165.5 677.0,165.0" fill="none" stroke="#d8524a" stroke-width="1.6" stroke-linecap="round" stroke-linejoin="round"/>
<path d="M600.0,122.0 C599.7,123.7 599.3,129.3 598.0,132.0 C596.7,134.7 593.0,137.0 592.0,138.0" fill="none" stroke="#d06040" stroke-width="1.4" stroke-linecap="round" stroke-linejoin="round"/>
<path d="M614.0,84.0 C615.0,85.0 617.0,88.7 620.0,90.0 C623.0,91.3 628.7,91.0 632.0,92.0 C635.3,93.0 638.7,95.3 640.0,96.0" fill="none" stroke="#88b040" stroke-width="1.2" stroke-linecap="round" stroke-linejoin="round"/>
<path d="M652.0,17.0 L630.0,19.0 L606.0,26.0 L586.0,40.0" fill="none" stroke="#2b2b65" stroke-width="3.8" stroke-linejoin="round"/>
<path d="M652.0,17.0 L630.0,19.0 L606.0,26.0 L586.0,40.0" fill="none" stroke="#4848a8" stroke-width="2.2" stroke-linejoin="round"/>
<path d="M653.0,19.0 L630.0,24.0 L612.0,32.0 L600.4,42.0" fill="none" stroke="#38767d" stroke-width="4.8" stroke-linejoin="round"/>
<path d="M653.0,19.0 L630.0,24.0 L612.0,32.0 L600.4,42.0" fill="none" stroke="#5ec4d0" stroke-width="3.2" stroke-linejoin="round"/>
<path d="M598.1,39.3 L597.0,45.0 L602.8,44.7 Z" fill="#5ec4d0" stroke="#38767d" stroke-width="0.8"/>
<path d="M625.3,38.8 L625.5,38.2 L626.6,36.8 L628.2,34.9 L630.4,33.1 L632.6,31.6 L634.7,30.9 L636.3,31.3 L631.8,28.1 L630.2,27.8 L628.1,28.5 L625.8,29.9 L623.7,31.8 L622.0,33.6 L621.0,35.0 L620.8,35.6Z" fill="#242a64"/>
<path d="M633.1,44.2 L633.3,43.6 L634.4,42.2 L636.0,40.4 L638.2,38.5 L640.4,37.0 L642.5,36.4 L644.1,36.7 L639.6,33.6 L638.0,33.2 L635.9,33.9 L633.6,35.3 L631.5,37.2 L629.8,39.1 L628.8,40.5 L628.6,41.0Z" fill="#242a64"/>
<path d="M640.9,49.6 L641.1,49.0 L642.1,47.6 L643.8,45.8 L646.0,43.9 L648.2,42.5 L650.3,41.8 L651.9,42.1 L647.4,39.0 L645.8,38.7 L643.7,39.3 L641.4,40.8 L639.3,42.6 L637.6,44.5 L636.6,45.9 L636.4,46.5Z" fill="#242a64"/>
<path d="M627.7,35.1 L626.6,37.1 L625.7,38.4 L625.3,38.8 L620.8,35.6 L621.2,35.2 L622.1,34.0 L623.2,31.9Z" fill="#2c337a"/>
<path d="M626.9,36.5 L625.5,38.6 L621.0,35.5 L622.4,33.3Z" fill="#3a44a2"/>
<path d="M626.4,37.4 L625.9,38.2 L621.3,35.0 L621.9,34.3Z" fill="#7f85c3"/>
<path d="M636.3,31.3 L637.1,32.6 L637.3,34.8 L636.7,37.4 L635.7,40.1 L634.5,42.3 L633.6,43.8 L633.1,44.2 L628.6,41.0 L629.0,40.6 L630.0,39.2 L631.1,37.0 L632.2,34.3 L632.7,31.7 L632.6,29.5 L631.8,28.1Z" fill="#2c337a"/>
<path d="M637.3,33.7 L637.0,36.2 L636.2,38.8 L635.1,41.2 L634.0,43.1 L629.5,40.0 L630.6,38.1 L631.7,35.7 L632.5,33.0 L632.8,30.6Z" fill="#3a44a2"/>
<path d="M636.8,36.9 L635.4,40.6 L630.9,37.4 L632.3,33.8Z" fill="#7f85c3"/>
<path d="M644.1,36.7 L644.9,38.1 L645.1,40.2 L644.5,42.9 L643.5,45.5 L642.3,47.7 L641.4,49.2 L640.9,49.6 L636.4,46.5 L636.8,46.0 L637.8,44.6 L638.9,42.4 L640.0,39.7 L640.5,37.1 L640.4,34.9 L639.6,33.6Z" fill="#2c337a"/>
<path d="M645.1,39.2 L644.8,41.6 L644.0,44.2 L642.9,46.7 L641.8,48.5 L637.3,45.4 L638.4,43.5 L639.5,41.1 L640.3,38.4 L640.6,36.0Z" fill="#3a44a2"/>
<path d="M644.6,42.3 L643.2,46.0 L638.7,42.9 L640.1,39.2Z" fill="#7f85c3"/>
<path d="M651.9,42.1 L652.8,43.8 L652.7,46.4 L651.9,49.5 L647.3,46.4 L648.2,43.3 L648.3,40.6 L647.4,39.0Z" fill="#2c337a"/>
<path d="M652.6,43.1 L652.9,45.0 L652.5,47.5 L648.0,44.3 L648.4,41.9 L648.1,39.9Z" fill="#3a44a2"/>
<path d="M652.9,44.2 L652.8,45.9 L648.3,42.7 L648.4,41.1Z" fill="#7f85c3"/>
<path d="M654.3,22.4 L654.7,22.1 L655.8,21.5 L657.5,20.8 L659.4,20.2 L661.4,19.9 L662.9,20.1 L663.9,20.8 L661.8,17.4 L660.9,16.6 L659.3,16.4 L657.4,16.7 L655.4,17.3 L653.7,18.0 L652.6,18.6 L652.3,18.9Z" fill="#242a64"/>
<path d="M657.9,28.4 L658.2,28.1 L659.3,27.5 L661.0,26.8 L662.9,26.2 L664.9,26.0 L666.5,26.2 L667.4,26.9 L665.3,23.4 L664.4,22.7 L662.8,22.5 L660.9,22.7 L658.9,23.3 L657.2,24.0 L656.2,24.6 L655.8,24.9Z" fill="#242a64"/>
<path d="M654.6,22.3 L654.3,22.4 L652.3,18.9 L652.6,18.8Z" fill="#2c337a"/>
<path d="M654.5,22.3 L654.4,22.4 L652.3,18.9 L652.5,18.8Z" fill="#3a44a2"/>
<path d="M654.5,22.4 L654.4,22.4 L652.4,18.9 L652.4,18.9Z" fill="#7f85c3"/>
<path d="M663.9,20.8 L664.0,22.0 L663.4,23.5 L662.3,25.0 L660.8,26.5 L659.3,27.6 L658.3,28.2 L657.9,28.4 L655.8,24.9 L656.2,24.8 L657.3,24.1 L658.7,23.0 L660.2,21.5 L661.4,20.0 L662.0,18.5 L661.8,17.4Z" fill="#2c337a"/>
<path d="M663.8,22.8 L662.9,24.3 L661.5,25.8 L660.1,27.1 L658.8,28.0 L656.8,24.5 L658.0,23.6 L659.5,22.3 L660.8,20.8 L661.8,19.3Z" fill="#3a44a2"/>
<path d="M662.5,24.7 L660.5,26.7 L658.4,23.2 L660.5,21.2Z" fill="#7f85c3"/>
<path d="M667.4,26.9 L667.5,28.0 L666.9,29.5 L665.7,31.1 L664.2,32.6 L662.8,33.7 L661.8,34.3 L659.7,30.8 L660.8,30.2 L662.2,29.1 L663.7,27.6 L664.9,26.0 L665.5,24.6 L665.3,23.4Z" fill="#2c337a"/>
<path d="M667.4,28.5 L666.5,30.2 L664.9,31.9 L663.2,33.4 L661.2,29.9 L662.9,28.5 L664.4,26.7 L665.4,25.0Z" fill="#3a44a2"/>
<path d="M666.5,30.2 L664.9,32.0 L662.8,28.5 L664.5,26.7Z" fill="#7f85c3"/>
<path d="M594.4,74.4 L594.5,73.8 L595.1,72.2 L596.2,69.9 L597.8,67.4 L599.6,65.4 L601.4,64.2 L603.0,64.0 L597.7,62.2 L596.0,62.4 L594.2,63.6 L592.4,65.6 L590.8,68.1 L589.7,70.4 L589.1,72.0 L589.0,72.7Z" fill="#437e24"/>
<path d="M603.7,77.5 L603.8,76.9 L604.4,75.3 L605.5,73.0 L607.0,70.5 L608.8,68.5 L610.7,67.2 L612.3,67.1 L606.9,65.3 L605.3,65.4 L603.5,66.7 L601.6,68.7 L600.1,71.2 L599.0,73.5 L598.4,75.1 L598.3,75.7Z" fill="#437e24"/>
<path d="M612.9,80.6 L613.0,80.0 L613.6,78.3 L614.7,76.1 L616.3,73.6 L618.1,71.6 L619.9,70.3 L621.6,70.2 L616.2,68.4 L614.6,68.5 L612.7,69.8 L610.9,71.8 L609.4,74.3 L608.2,76.6 L607.7,78.2 L607.6,78.8Z" fill="#437e24"/>
<path d="M622.2,83.7 L622.3,83.1 L622.9,81.4 L624.0,79.1 L625.5,76.7 L627.4,74.6 L629.2,73.4 L630.8,73.3 L625.5,71.5 L623.8,71.6 L622.0,72.9 L620.2,74.9 L618.6,77.4 L617.5,79.6 L616.9,81.3 L616.8,81.9Z" fill="#437e24"/>
<path d="M631.5,86.8 L631.6,86.2 L632.1,84.5 L633.3,82.2 L634.8,79.8 L636.6,77.7 L638.5,76.5 L640.1,76.4 L634.7,74.6 L633.1,74.7 L631.2,75.9 L629.4,78.0 L627.9,80.4 L626.8,82.7 L626.2,84.4 L626.1,85.0Z" fill="#437e24"/>
<path d="M595.6,70.8 L594.9,73.5 L594.4,74.4 L589.0,72.7 L589.5,71.7 L590.2,69.0Z" fill="#51992c"/>
<path d="M595.3,72.1 L594.6,74.3 L589.2,72.5 L589.9,70.4Z" fill="#6ccc3a"/>
<path d="M595.0,73.1 L594.8,73.8 L589.4,72.1 L589.6,71.3Z" fill="#9fde7f"/>
<path d="M603.0,64.0 L604.3,65.1 L605.0,67.2 L605.2,69.9 L605.0,72.8 L604.5,75.3 L604.0,77.0 L603.7,77.5 L598.3,75.7 L598.6,75.2 L599.1,73.5 L599.6,71.0 L599.8,68.1 L599.6,65.4 L598.9,63.3 L597.7,62.2Z" fill="#51992c"/>
<path d="M604.7,66.1 L605.2,68.6 L605.2,71.4 L604.8,74.1 L604.3,76.2 L598.9,74.4 L599.4,72.3 L599.8,69.6 L599.8,66.8 L599.4,64.3Z" fill="#6ccc3a"/>
<path d="M605.2,69.4 L604.9,73.4 L599.5,71.6 L599.8,67.6Z" fill="#9fde7f"/>
<path d="M612.3,67.1 L613.5,68.2 L614.3,70.3 L614.5,73.0 L614.3,75.9 L613.8,78.4 L613.3,80.1 L612.9,80.6 L607.6,78.8 L607.9,78.3 L608.4,76.6 L608.9,74.1 L609.1,71.2 L608.9,68.5 L608.2,66.4 L606.9,65.3Z" fill="#51992c"/>
<path d="M614.0,69.2 L614.4,71.7 L614.4,74.5 L614.0,77.2 L613.5,79.3 L608.2,77.5 L608.7,75.4 L609.0,72.7 L609.1,69.9 L608.6,67.4Z" fill="#6ccc3a"/>
<path d="M614.5,72.4 L614.2,76.4 L608.8,74.7 L609.1,70.7Z" fill="#9fde7f"/>
<path d="M621.6,70.2 L622.8,71.3 L623.5,73.4 L623.7,76.1 L623.5,79.0 L623.0,81.5 L622.5,83.2 L622.2,83.7 L616.8,81.9 L617.2,81.4 L617.7,79.7 L618.2,77.2 L618.4,74.3 L618.2,71.6 L617.4,69.5 L616.2,68.4Z" fill="#51992c"/>
<path d="M623.3,72.3 L623.7,74.7 L623.7,77.6 L623.3,80.3 L622.8,82.4 L617.4,80.6 L617.9,78.5 L618.3,75.8 L618.3,73.0 L617.9,70.5Z" fill="#6ccc3a"/>
<path d="M623.7,75.5 L623.4,79.5 L618.1,77.7 L618.4,73.7Z" fill="#9fde7f"/>
<path d="M630.8,73.3 L632.1,74.4 L632.8,76.5 L633.0,79.2 L632.8,82.1 L632.3,84.6 L631.8,86.2 L631.5,86.8 L626.1,85.0 L626.4,84.5 L626.9,82.8 L627.4,80.3 L627.6,77.4 L627.4,74.7 L626.7,72.6 L625.5,71.5Z" fill="#51992c"/>
<path d="M632.5,75.4 L633.0,77.8 L632.9,80.6 L632.6,83.4 L632.1,85.5 L626.7,83.7 L627.2,81.6 L627.6,78.9 L627.6,76.0 L627.2,73.6Z" fill="#6ccc3a"/>
<path d="M633.0,78.6 L632.7,82.6 L627.3,80.8 L627.6,76.8Z" fill="#9fde7f"/>
<path d="M640.1,76.4 L641.3,77.4 L642.1,79.5 L642.3,82.2 L642.1,85.1 L641.6,87.6 L641.1,89.3 L640.8,89.9 L635.4,88.1 L635.7,87.5 L636.2,85.8 L636.7,83.3 L636.9,80.4 L636.7,77.7 L636.0,75.7 L634.7,74.6Z" fill="#51992c"/>
<path d="M641.8,78.4 L642.2,80.9 L642.2,83.6 L641.9,86.3 L641.3,88.5 L636.0,86.7 L636.5,84.5 L636.8,81.8 L636.9,79.1 L636.4,76.7Z" fill="#6ccc3a"/>
<path d="M642.3,81.6 L642.0,85.6 L636.6,83.8 L636.9,79.8Z" fill="#9fde7f"/>
<path d="M563.7,78.8 L563.3,78.3 L562.7,76.8 L562.0,74.6 L561.5,72.0 L561.4,69.5 L561.9,67.5 L562.9,66.4 L558.2,68.5 L557.1,69.6 L556.7,71.6 L556.8,74.1 L557.2,76.8 L557.9,79.0 L558.6,80.5 L558.9,81.0Z" fill="#397728"/>
<path d="M571.8,75.0 L571.5,74.6 L570.9,73.1 L570.2,70.8 L569.7,68.2 L569.6,65.7 L570.1,63.7 L571.1,62.6 L566.3,64.8 L565.3,65.9 L564.9,67.9 L564.9,70.4 L565.4,73.0 L566.1,75.3 L566.7,76.7 L567.1,77.2Z" fill="#397728"/>
<path d="M580.0,71.3 L579.7,70.8 L579.0,69.3 L578.3,67.1 L577.8,64.5 L577.8,62.0 L578.2,60.0 L579.3,58.9 L574.5,61.0 L573.5,62.2 L573.0,64.1 L573.1,66.7 L573.6,69.3 L574.3,71.5 L574.9,73.0 L575.3,73.5Z" fill="#397728"/>
<path d="M563.2,77.6 L563.7,78.8 L558.9,81.0 L558.5,79.8Z" fill="#459030"/>
<path d="M563.4,78.0 L563.7,78.7 L558.9,80.9 L558.7,80.2Z" fill="#5cc040"/>
<path d="M563.6,78.3 L563.6,78.6 L558.9,80.7 L558.8,80.5Z" fill="#95d683"/>
<path d="M562.9,66.4 L564.4,66.3 L566.2,67.3 L568.1,69.0 L569.7,71.0 L571.0,73.0 L571.7,74.5 L571.8,75.0 L567.1,77.2 L567.0,76.6 L566.3,75.2 L565.0,73.2 L563.3,71.1 L561.5,69.4 L559.7,68.5 L558.2,68.5Z" fill="#459030"/>
<path d="M565.4,66.7 L567.2,68.1 L569.0,70.0 L570.4,72.0 L571.4,73.8 L566.6,76.0 L565.7,74.2 L564.2,72.2 L562.5,70.2 L560.6,68.9Z" fill="#5cc040"/>
<path d="M567.7,68.6 L570.0,71.5 L565.3,73.6 L563.0,70.7Z" fill="#95d683"/>
<path d="M571.1,62.6 L572.6,62.6 L574.4,63.5 L576.3,65.2 L577.9,67.3 L579.2,69.3 L579.9,70.7 L580.0,71.3 L575.3,73.5 L575.1,72.9 L574.4,71.5 L573.2,69.5 L571.5,67.4 L569.7,65.7 L567.9,64.7 L566.3,64.8Z" fill="#459030"/>
<path d="M573.5,63.0 L575.4,64.3 L577.1,66.2 L578.6,68.3 L579.6,70.0 L574.8,72.2 L573.8,70.5 L572.4,68.4 L570.6,66.5 L568.8,65.1Z" fill="#5cc040"/>
<path d="M575.9,64.8 L578.2,67.7 L573.5,69.9 L571.2,67.0Z" fill="#95d683"/>
<path d="M579.3,58.9 L580.6,58.8 L582.3,59.6 L584.0,61.0 L585.6,62.9 L586.9,64.8 L582.2,67.0 L580.9,65.1 L579.3,63.2 L577.5,61.7 L575.9,61.0 L574.5,61.0Z" fill="#459030"/>
<path d="M580.8,58.8 L583.2,60.2 L585.5,62.7 L580.7,64.9 L578.4,62.4 L576.1,61.0Z" fill="#5cc040"/>
<path d="M582.3,59.6 L584.0,61.0 L579.3,63.2 L577.5,61.7Z" fill="#95d683"/>
<path d="M561.4,94.0 L561.2,93.5 L561.0,91.9 L560.9,89.5 L561.2,86.9 L561.8,84.4 L562.8,82.7 L564.1,81.9 L558.9,82.7 L557.6,83.5 L556.6,85.2 L556.0,87.7 L555.8,90.3 L555.8,92.7 L556.0,94.3 L556.2,94.8Z" fill="#31722e"/>
<path d="M570.3,92.7 L570.1,92.1 L569.9,90.5 L569.8,88.2 L570.1,85.5 L570.7,83.1 L571.7,81.3 L573.0,80.5 L567.8,81.3 L566.5,82.1 L565.5,83.9 L564.9,86.3 L564.7,89.0 L564.7,91.3 L564.9,92.9 L565.1,93.5Z" fill="#31722e"/>
<path d="M579.2,91.3 L579.0,90.8 L578.8,89.2 L578.7,86.8 L579.0,84.2 L579.6,81.7 L580.6,79.9 L581.8,79.2 L576.7,79.9 L575.4,80.7 L574.4,82.5 L573.8,85.0 L573.6,87.6 L573.6,89.9 L573.8,91.5 L574.0,92.1Z" fill="#31722e"/>
<path d="M560.4,89.5 L561.1,91.8 L561.4,93.4 L561.4,94.0 L556.2,94.8 L556.3,94.2 L556.0,92.6 L555.3,90.3Z" fill="#3b8a38"/>
<path d="M560.9,91.1 L561.4,93.8 L556.3,94.6 L555.8,91.9Z" fill="#4fb84a"/>
<path d="M561.2,92.2 L561.4,93.2 L556.2,94.0 L556.1,93.0Z" fill="#8dd189"/>
<path d="M564.1,81.9 L565.5,82.2 L567.0,83.6 L568.3,85.8 L569.4,88.2 L570.0,90.5 L570.3,92.1 L570.3,92.7 L565.1,93.5 L565.2,92.9 L564.9,91.3 L564.2,89.0 L563.2,86.6 L561.9,84.4 L560.4,83.0 L558.9,82.7Z" fill="#3b8a38"/>
<path d="M566.4,82.9 L567.7,84.7 L568.9,87.0 L569.7,89.4 L570.2,91.3 L565.0,92.1 L564.6,90.2 L563.7,87.8 L562.6,85.5 L561.2,83.7Z" fill="#4fb84a"/>
<path d="M568.1,85.3 L569.5,88.7 L564.4,89.5 L562.9,86.1Z" fill="#8dd189"/>
<path d="M573.0,80.5 L574.4,80.9 L575.9,82.3 L577.2,84.4 L578.3,86.9 L578.9,89.1 L579.2,90.7 L579.2,91.3 L574.0,92.1 L574.0,91.5 L573.8,89.9 L573.1,87.7 L572.1,85.2 L570.8,83.1 L569.3,81.7 L567.8,81.3Z" fill="#3b8a38"/>
<path d="M575.2,81.5 L576.6,83.3 L577.8,85.6 L578.6,88.0 L579.1,90.0 L573.9,90.8 L573.5,88.8 L572.6,86.4 L571.5,84.1 L570.1,82.3Z" fill="#4fb84a"/>
<path d="M577.0,84.0 L578.4,87.4 L573.3,88.2 L571.8,84.8Z" fill="#8dd189"/>
<path d="M581.8,79.2 L583.3,79.5 L584.7,80.8 L586.0,82.9 L580.9,83.6 L579.6,81.6 L578.1,80.3 L576.7,79.9Z" fill="#3b8a38"/>
<path d="M582.8,79.3 L585.2,81.4 L580.0,82.2 L577.6,80.0Z" fill="#4fb84a"/>
<path d="M583.6,79.7 L584.4,80.5 L579.3,81.3 L578.4,80.5Z" fill="#8dd189"/>
<path d="M571.0,82.0 L575.0,98.0 L577.5,107.2" fill="none" stroke="#2c6e60" stroke-width="6.0" stroke-linejoin="round"/>
<path d="M571.0,82.0 L575.0,98.0 L577.5,107.2" fill="none" stroke="#4ab8a0" stroke-width="4.4" stroke-linejoin="round"/>
<path d="M572.9,108.4 L579.0,113.0 L582.0,106.0 Z" fill="#4ab8a0" stroke="#2c6e60" stroke-width="0.8"/>
<path d="M585.0,86.0 L587.0,100.0 L587.4,104.8" fill="none" stroke="#407f76" stroke-width="7.0" stroke-linejoin="round"/>
<path d="M585.0,86.0 L587.0,100.0 L587.4,104.8" fill="none" stroke="#6ad4c4" stroke-width="5.4" stroke-linejoin="round"/>
<path d="M581.7,105.3 L588.0,112.0 L593.1,104.4 Z" fill="#6ad4c4" stroke="#407f76" stroke-width="0.8"/>
<path d="M593.0,84.0 L597.0,96.0 L601.0,109.0" fill="none" stroke="#377326" stroke-width="6.0" stroke-linejoin="round"/>
<path d="M593.0,84.0 L597.0,96.0 L601.0,109.0" fill="none" stroke="#5cc040" stroke-width="4.4" stroke-linejoin="round"/>
<path d="M607.0,84.0 L603.0,104.0 L599.7,117.0" fill="none" stroke="#782c1e" stroke-width="7.0" stroke-linejoin="round"/>
<path d="M607.0,84.0 L603.0,104.0 L599.7,117.0" fill="none" stroke="#c84a32" stroke-width="5.4" stroke-linejoin="round"/>
<path d="M594.2,115.6 L598.0,124.0 L605.3,118.4 Z" fill="#c84a32" stroke="#782c1e" stroke-width="0.8"/>
<path d="M609.0,84.0 L614.0,104.0 L620.0,127.0" fill="none" stroke="#6e291a" stroke-width="6.0" stroke-linejoin="round"/>
<path d="M609.0,84.0 L614.0,104.0 L620.0,127.0" fill="none" stroke="#b8442c" stroke-width="4.4" stroke-linejoin="round"/>
<path d="M637.3,118.6 L637.4,118.1 L638.1,116.7 L639.2,114.8 L640.8,112.9 L642.6,111.3 L644.3,110.4 L645.7,110.4 L641.2,108.4 L639.8,108.3 L638.1,109.2 L636.3,110.8 L634.8,112.8 L633.6,114.7 L632.9,116.0 L632.8,116.6Z" fill="#865324"/>
<path d="M645.0,122.2 L645.1,121.7 L645.8,120.3 L647.0,118.4 L648.6,116.5 L650.3,114.8 L652.0,113.9 L653.5,114.0 L649.0,111.9 L647.6,111.9 L645.8,112.8 L644.1,114.4 L642.5,116.3 L641.3,118.2 L640.6,119.6 L640.5,120.1Z" fill="#865324"/>
<path d="M652.7,125.8 L652.9,125.2 L653.5,123.9 L654.7,122.0 L656.3,120.0 L658.1,118.4 L659.8,117.5 L661.2,117.6 L656.7,115.5 L655.3,115.4 L653.6,116.3 L651.8,118.0 L650.2,119.9 L649.1,121.8 L648.4,123.2 L648.3,123.7Z" fill="#865324"/>
<path d="M660.5,129.4 L660.8,128.5 L662.0,126.3 L657.5,124.2 L656.3,126.4 L656.0,127.3Z" fill="#865324"/>
<path d="M638.5,116.0 L637.7,118.0 L637.3,118.6 L632.8,116.6 L633.2,115.9 L634.0,114.0Z" fill="#a2642c"/>
<path d="M638.1,117.0 L637.4,118.5 L632.9,116.5 L633.6,115.0Z" fill="#d8863a"/>
<path d="M637.8,117.7 L637.6,118.2 L633.1,116.2 L633.3,115.6Z" fill="#e6b07f"/>
<path d="M645.7,110.4 L646.7,111.5 L647.1,113.4 L647.1,115.8 L646.6,118.2 L645.9,120.4 L645.3,121.8 L645.0,122.2 L640.5,120.1 L640.8,119.7 L641.4,118.3 L642.1,116.2 L642.6,113.7 L642.7,111.3 L642.2,109.4 L641.2,108.4Z" fill="#a2642c"/>
<path d="M647.0,112.4 L647.2,114.6 L646.9,117.0 L646.3,119.3 L645.6,121.1 L641.1,119.0 L641.8,117.3 L642.4,114.9 L642.7,112.5 L642.5,110.3Z" fill="#d8863a"/>
<path d="M647.1,115.3 L646.5,118.7 L642.0,116.6 L642.6,113.2Z" fill="#e6b07f"/>
<path d="M653.5,114.0 L654.5,115.1 L654.9,116.9 L654.8,119.3 L654.3,121.8 L653.7,123.9 L653.1,125.3 L652.7,125.8 L648.3,123.7 L648.6,123.3 L649.2,121.9 L649.8,119.7 L650.3,117.3 L650.4,114.9 L650.0,113.0 L649.0,111.9Z" fill="#a2642c"/>
<path d="M654.8,116.0 L654.9,118.1 L654.6,120.6 L654.0,122.9 L653.4,124.7 L648.9,122.6 L649.5,120.8 L650.1,118.5 L650.4,116.1 L650.3,113.9Z" fill="#d8863a"/>
<path d="M654.9,118.8 L654.2,122.3 L649.7,120.2 L650.4,116.8Z" fill="#e6b07f"/>
<path d="M661.2,117.6 L662.2,118.6 L662.6,120.5 L662.5,122.9 L662.1,125.4 L661.4,127.5 L660.8,128.9 L660.5,129.4 L656.0,127.3 L656.3,126.8 L656.9,125.4 L657.6,123.3 L658.1,120.8 L658.1,118.4 L657.7,116.6 L656.7,115.5Z" fill="#a2642c"/>
<path d="M662.5,119.6 L662.6,121.7 L662.3,124.2 L661.8,126.5 L661.1,128.3 L656.6,126.2 L657.3,124.4 L657.9,122.1 L658.2,119.6 L658.0,117.5Z" fill="#d8863a"/>
<path d="M662.6,122.4 L661.9,125.8 L657.5,123.8 L658.1,120.3Z" fill="#e6b07f"/>
<path d="M632.0,98.0 C633.3,97.3 636.7,94.3 640.0,94.0 C643.3,93.7 648.7,95.0 652.0,96.0 C655.3,97.0 660.3,98.7 660.0,100.0 C659.7,101.3 653.3,103.7 650.0,104.0 C646.7,104.3 641.7,102.3 640.0,102.0" fill="none" stroke="#c89a40" stroke-width="1.6" stroke-linecap="round" stroke-linejoin="round"/>
<path d="M628.0,104.0 L628.0,120.0 L633.0,138.0" fill="none" stroke="#48781d" stroke-width="7.0" stroke-linejoin="round"/>
<path d="M628.0,104.0 L628.0,120.0 L633.0,138.0" fill="none" stroke="#78c830" stroke-width="5.4" stroke-linejoin="round"/>
<path d="M640.0,148.0 L638.0,126.0 L639.2,113.4" fill="none" stroke="#8b7326" stroke-width="8.0" stroke-linejoin="round"/>
<path d="M640.0,148.0 L638.0,126.0 L639.2,113.4" fill="none" stroke="#e8c040" stroke-width="6.4" stroke-linejoin="round"/>
<path d="M645.8,114.0 L640.0,105.0 L632.6,112.7 Z" fill="#e8c040" stroke="#8b7326" stroke-width="0.8"/>
<path d="M655.0,103.0 L649.0,126.0 L643.0,149.0" fill="none" stroke="#8a772c" stroke-width="8.0" stroke-linejoin="round"/>
<path d="M655.0,103.0 L649.0,126.0 L643.0,149.0" fill="none" stroke="#e6c64a" stroke-width="6.4" stroke-linejoin="round"/>
<path d="M664.0,124.0 L664.0,110.8" fill="none" stroke="#64731d" stroke-width="5.8" stroke-linejoin="round"/>
<path d="M664.0,124.0 L664.0,110.8" fill="none" stroke="#a6c030" stroke-width="4.2" stroke-linejoin="round"/>
<path d="M668.6,110.8 L664.0,105.0 L659.4,110.8 Z" fill="#a6c030" stroke="#64731d" stroke-width="0.8"/>
<path d="M590.9,148.2 L591.2,147.5 L592.5,146.0 L594.6,144.0 L597.2,142.0 L600.0,140.5 L602.5,140.0 L604.3,140.5 L599.3,136.4 L597.5,135.9 L595.0,136.5 L592.2,137.9 L589.6,139.9 L587.5,141.9 L586.2,143.4 L585.8,144.1Z" fill="#862f2a"/>
<path d="M599.5,155.2 L599.8,154.6 L601.1,153.0 L603.3,151.0 L605.9,149.1 L608.7,147.6 L611.1,147.0 L612.9,147.6 L607.9,143.5 L606.1,142.9 L603.6,143.5 L600.9,145.0 L598.2,147.0 L596.1,149.0 L594.8,150.5 L594.5,151.1Z" fill="#862f2a"/>
<path d="M608.2,162.3 L608.5,161.6 L609.8,160.1 L611.9,158.1 L614.6,156.1 L617.3,154.6 L619.8,154.1 L621.6,154.6 L616.6,150.5 L614.8,150.0 L612.3,150.6 L609.5,152.0 L606.9,154.0 L604.8,156.0 L603.5,157.5 L603.1,158.2Z" fill="#862f2a"/>
<path d="M616.8,169.3 L617.2,168.7 L618.5,167.1 L620.6,165.1 L623.2,163.2 L626.0,161.7 L628.4,161.1 L630.2,161.7 L625.2,157.6 L623.4,157.0 L621.0,157.6 L618.2,159.1 L615.6,161.1 L613.4,163.1 L612.1,164.6 L611.8,165.2Z" fill="#862f2a"/>
<path d="M625.5,176.3 L625.8,175.7 L627.1,174.2 L629.2,172.2 L631.9,170.2 L634.6,168.7 L637.1,168.2 L638.9,168.7 L633.9,164.6 L632.1,164.1 L629.6,164.6 L626.9,166.1 L624.2,168.1 L622.1,170.1 L620.8,171.6 L620.5,172.3Z" fill="#862f2a"/>
<path d="M594.2,143.5 L592.7,146.0 L591.4,147.7 L590.9,148.2 L585.8,144.1 L586.4,143.6 L587.7,142.0 L589.2,139.4Z" fill="#a23933"/>
<path d="M593.2,145.3 L591.1,148.0 L586.1,143.9 L588.2,141.2Z" fill="#d84c44"/>
<path d="M592.4,146.5 L591.6,147.4 L586.6,143.4 L587.4,142.4Z" fill="#e68b85"/>
<path d="M604.3,140.5 L605.2,142.2 L605.1,144.7 L604.2,147.7 L602.8,150.7 L601.3,153.2 L600.1,154.7 L599.5,155.2 L594.5,151.1 L595.0,150.7 L596.3,149.1 L597.8,146.6 L599.2,143.6 L600.1,140.6 L600.1,138.1 L599.3,136.4Z" fill="#a23933"/>
<path d="M605.2,143.4 L604.7,146.2 L603.6,149.2 L602.1,152.0 L600.7,154.0 L595.6,149.9 L597.1,147.9 L598.5,145.1 L599.7,142.1 L600.2,139.4Z" fill="#d84c44"/>
<path d="M604.5,147.1 L602.5,151.2 L597.5,147.2 L599.4,143.0Z" fill="#e68b85"/>
<path d="M612.9,147.6 L613.8,149.2 L613.8,151.7 L612.9,154.7 L611.5,157.7 L609.9,160.2 L608.7,161.8 L608.2,162.3 L603.1,158.2 L603.7,157.7 L604.9,156.1 L606.5,153.6 L607.9,150.7 L608.7,147.7 L608.8,145.1 L607.9,143.5Z" fill="#a23933"/>
<path d="M613.9,150.5 L613.4,153.3 L612.2,156.3 L610.7,159.0 L609.3,161.1 L604.3,157.0 L605.7,154.9 L607.2,152.2 L608.4,149.2 L608.9,146.4Z" fill="#d84c44"/>
<path d="M613.1,154.1 L611.2,158.3 L606.1,154.2 L608.1,150.0Z" fill="#e68b85"/>
<path d="M621.6,154.6 L622.5,156.3 L622.4,158.8 L621.5,161.8 L620.1,164.8 L618.6,167.3 L617.4,168.8 L616.8,169.3 L611.8,165.2 L612.4,164.7 L613.6,163.2 L615.1,160.7 L616.5,157.7 L617.4,154.7 L617.5,152.2 L616.6,150.5Z" fill="#a23933"/>
<path d="M622.6,157.5 L622.0,160.3 L620.9,163.3 L619.4,166.1 L618.0,168.1 L613.0,164.0 L614.4,162.0 L615.9,159.2 L617.0,156.2 L617.5,153.4Z" fill="#d84c44"/>
<path d="M621.8,161.2 L619.8,165.3 L614.8,161.2 L616.7,157.1Z" fill="#e68b85"/>
<path d="M630.2,161.7 L631.1,163.3 L631.1,165.8 L630.2,168.8 L628.8,171.8 L627.3,174.3 L626.0,175.9 L625.5,176.3 L620.5,172.3 L621.0,171.8 L622.2,170.2 L623.8,167.7 L625.2,164.7 L626.1,161.7 L626.1,159.2 L625.2,157.6Z" fill="#a23933"/>
<path d="M631.2,164.6 L630.7,167.4 L629.5,170.4 L628.0,173.1 L626.6,175.2 L621.6,171.1 L623.0,169.0 L624.5,166.3 L625.7,163.3 L626.2,160.5Z" fill="#d84c44"/>
<path d="M630.4,168.2 L628.5,172.4 L623.5,168.3 L625.4,164.1Z" fill="#e68b85"/>
<path d="M638.9,168.7 L639.8,170.7 L639.5,173.8 L638.2,177.4 L633.2,173.3 L634.5,169.8 L634.8,166.6 L633.9,164.6Z" fill="#a23933"/>
<path d="M639.7,169.9 L639.8,172.2 L639.2,175.0 L634.1,171.0 L634.8,168.1 L634.6,165.8Z" fill="#d84c44"/>
<path d="M639.9,171.3 L639.7,173.2 L634.7,169.1 L634.9,167.2Z" fill="#e68b85"/>
<path d="M633.1,177.9 L633.2,177.4 L633.8,176.1 L634.8,174.4 L636.2,172.6 L637.7,171.1 L639.3,170.2 L640.6,170.2 L636.5,168.5 L635.2,168.4 L633.6,169.3 L632.1,170.8 L630.7,172.6 L629.6,174.4 L629.1,175.6 L629.0,176.1Z" fill="#862f2a"/>
<path d="M640.2,181.0 L640.3,180.5 L640.9,179.2 L641.9,177.5 L643.3,175.6 L644.9,174.1 L646.4,173.3 L647.7,173.3 L643.6,171.5 L642.3,171.5 L640.7,172.4 L639.2,173.9 L637.8,175.7 L636.8,177.4 L636.2,178.7 L636.1,179.2Z" fill="#862f2a"/>
<path d="M647.3,184.0 L647.4,183.5 L648.0,182.3 L649.0,180.5 L650.4,178.7 L652.0,177.2 L653.5,176.3 L654.8,176.3 L650.7,174.6 L649.4,174.6 L647.9,175.4 L646.3,176.9 L644.9,178.7 L643.9,180.5 L643.3,181.7 L643.2,182.2Z" fill="#862f2a"/>
<path d="M633.9,176.3 L633.4,177.5 L633.1,177.9 L629.0,176.1 L629.2,175.7 L629.7,174.5Z" fill="#a23933"/>
<path d="M633.6,176.9 L633.2,177.8 L629.0,176.1 L629.5,175.2Z" fill="#d84c44"/>
<path d="M633.4,177.3 L633.3,177.7 L629.1,175.9 L629.3,175.6Z" fill="#e68b85"/>
<path d="M640.6,170.2 L641.5,171.2 L641.9,172.9 L641.9,175.0 L641.6,177.3 L641.0,179.3 L640.5,180.5 L640.2,181.0 L636.1,179.2 L636.4,178.8 L636.9,177.5 L637.4,175.5 L637.8,173.3 L637.8,171.1 L637.4,169.4 L636.5,168.5Z" fill="#a23933"/>
<path d="M641.8,172.0 L642.0,174.0 L641.8,176.2 L641.3,178.3 L640.8,179.9 L636.6,178.2 L637.2,176.5 L637.6,174.4 L637.9,172.2 L637.7,170.2Z" fill="#d84c44"/>
<path d="M642.0,174.6 L641.5,177.7 L637.3,176.0 L637.8,172.8Z" fill="#e68b85"/>
<path d="M647.7,173.3 L648.6,174.2 L649.1,175.9 L649.0,178.1 L648.7,180.4 L648.1,182.3 L647.6,183.6 L647.3,184.0 L643.2,182.2 L643.5,181.8 L644.0,180.5 L644.5,178.6 L644.9,176.3 L644.9,174.1 L644.5,172.5 L643.6,171.5Z" fill="#a23933"/>
<path d="M648.9,175.1 L649.1,177.0 L648.9,179.2 L648.4,181.4 L647.9,183.0 L643.7,181.2 L644.3,179.6 L644.8,177.5 L645.0,175.2 L644.8,173.3Z" fill="#d84c44"/>
<path d="M649.1,177.6 L648.6,180.8 L644.4,179.0 L645.0,175.9Z" fill="#e68b85"/>
<path d="M654.8,176.3 L655.8,177.4 L656.2,179.3 L656.1,181.7 L655.6,184.1 L651.5,182.3 L652.0,179.9 L652.1,177.5 L651.7,175.6 L650.7,174.6Z" fill="#a23933"/>
<path d="M655.7,177.2 L656.2,179.3 L656.1,182.0 L651.9,180.2 L652.1,177.5 L651.6,175.4Z" fill="#d84c44"/>
<path d="M656.1,178.5 L656.2,180.2 L652.1,178.5 L652.0,176.7Z" fill="#e68b85"/>
</g>
<g>
<path d="M228.0,292.0 C227.0,290.0 223.3,284.3 222.0,280.0 C220.7,275.7 220.7,270.2 220.0,266.0 C219.3,261.8 217.3,257.7 218.0,255.0 C218.7,252.3 221.0,250.5 224.0,250.0 C227.0,249.5 232.7,252.3 236.0,252.0 C239.3,251.7 241.7,249.3 244.0,248.0 C246.3,246.7 248.0,245.3 250.0,244.0 C252.0,242.7 255.0,240.7 256.0,240.0" fill="none" stroke="#c8c060" stroke-width="1.4" stroke-linecap="round" stroke-linejoin="round"/>
<path d="M240.0,268.0 C241.0,266.0 244.3,259.7 246.0,256.0 C247.7,252.3 248.0,248.3 250.0,246.0 C252.0,243.7 255.3,241.7 258.0,242.0 C260.7,242.3 264.0,245.7 266.0,248.0 C268.0,250.3 270.7,253.7 270.0,256.0 C269.3,258.3 264.3,260.0 262.0,262.0 C259.7,264.0 256.0,265.7 256.0,268.0 C256.0,270.3 261.0,274.7 262.0,276.0" fill="none" stroke="#6aae58" stroke-width="1.3" stroke-linecap="round" stroke-linejoin="round"/>
<path d="M244.0,272.0 C245.3,270.3 249.0,263.0 252.0,262.0 C255.0,261.0 258.3,266.7 262.0,266.0 C265.7,265.3 270.3,258.3 274.0,258.0 C277.7,257.7 281.3,261.7 284.0,264.0 C286.7,266.3 287.3,272.3 290.0,272.0 C292.7,271.7 297.3,265.0 300.0,262.0 C302.7,259.0 306.0,256.3 306.0,254.0 C306.0,251.7 302.7,248.3 300.0,248.0 C297.3,247.7 291.7,251.3 290.0,252.0" fill="none" stroke="#68b060" stroke-width="1.3" stroke-linecap="round" stroke-linejoin="round"/>
<path d="M258.0,280.0 C259.3,278.3 263.0,270.7 266.0,270.0 C269.0,269.3 272.7,274.0 276.0,276.0 C279.3,278.0 282.7,282.0 286.0,282.0 C289.3,282.0 293.3,278.7 296.0,276.0 C298.7,273.3 299.3,268.3 302.0,266.0 C304.7,263.7 310.3,262.7 312.0,262.0" fill="none" stroke="#6ab862" stroke-width="1.3" stroke-linecap="round" stroke-linejoin="round"/>
<path d="M248.0,252.0 C249.3,253.0 253.7,258.0 256.0,258.0 C258.3,258.0 259.3,253.3 262.0,252.0 C264.7,250.7 269.0,249.3 272.0,250.0 C275.0,250.7 277.3,256.0 280.0,256.0 C282.7,256.0 285.3,251.7 288.0,250.0 C290.7,248.3 294.7,246.7 296.0,246.0" fill="none" stroke="#c8a050" stroke-width="1.2" stroke-linecap="round" stroke-linejoin="round"/>
<path d="M304.0,240.0 C305.2,239.0 307.8,234.3 311.0,234.0 C314.2,233.7 320.8,235.7 323.0,238.0 C325.2,240.3 322.8,245.5 324.0,248.0 C325.2,250.5 329.0,252.2 330.0,253.0" fill="none" stroke="#60b8a0" stroke-width="1.4" stroke-linecap="round" stroke-linejoin="round"/>
<path d="M290.0,252.0 C291.3,251.0 295.3,247.0 298.0,246.0 C300.7,245.0 303.7,244.7 306.0,246.0 C308.3,247.3 309.7,251.7 312.0,254.0 C314.3,256.3 317.7,259.3 320.0,260.0 C322.3,260.7 324.3,257.0 326.0,258.0 C327.7,259.0 330.0,262.7 330.0,266.0 C330.0,269.3 326.0,274.0 326.0,278.0 C326.0,282.0 328.8,286.7 330.0,290.0 C331.2,293.3 332.5,296.7 333.0,298.0" fill="none" stroke="#c0605a" stroke-width="1.3" stroke-linecap="round" stroke-linejoin="round"/>
<path d="M292.0,262.0 C293.3,263.3 297.0,268.0 300.0,270.0 C303.0,272.0 307.0,272.0 310.0,274.0 C313.0,276.0 315.3,279.7 318.0,282.0 C320.7,284.3 323.7,285.3 326.0,288.0 C328.3,290.7 331.0,296.3 332.0,298.0" fill="none" stroke="#c06a5a" stroke-width="1.2" stroke-linecap="round" stroke-linejoin="round"/>
<path d="M296.0,280.0 C297.3,281.0 301.0,286.0 304.0,286.0 C307.0,286.0 311.3,282.3 314.0,280.0 C316.7,277.7 319.0,273.3 320.0,272.0" fill="none" stroke="#c07060" stroke-width="1.2" stroke-linecap="round" stroke-linejoin="round"/>
<path d="M300.0,252.0 C301.3,253.7 305.3,259.3 308.0,262.0 C310.7,264.7 313.7,268.0 316.0,268.0 C318.3,268.0 321.0,263.0 322.0,262.0" fill="none" stroke="#b85848" stroke-width="1.2" stroke-linecap="round" stroke-linejoin="round"/>
<path d="M310.0,268.0 C309.3,269.7 307.0,274.3 306.0,278.0 C305.0,281.7 303.7,286.7 304.0,290.0 C304.3,293.3 307.3,296.7 308.0,298.0" fill="none" stroke="#60b8a8" stroke-width="1.3" stroke-linecap="round" stroke-linejoin="round"/>
<path d="M262.0,262.0 C263.3,264.0 266.7,271.3 270.0,274.0 C273.3,276.7 278.3,276.0 282.0,278.0 C285.7,280.0 289.0,285.3 292.0,286.0 C295.0,286.7 298.7,282.7 300.0,282.0" fill="none" stroke="#d09040" stroke-width="1.3" stroke-linecap="round" stroke-linejoin="round"/>
<path d="M256.0,270.0 C257.0,272.0 261.7,278.3 262.0,282.0 C262.3,285.7 257.3,289.3 258.0,292.0 C258.7,294.7 264.7,297.0 266.0,298.0" fill="none" stroke="#4050a8" stroke-width="1.1" stroke-linecap="round" stroke-linejoin="round"/>
<path d="M236.0,250.0 C237.0,248.7 239.3,244.0 242.0,242.0 C244.7,240.0 249.3,237.7 252.0,238.0 C254.7,238.3 257.7,241.3 258.0,244.0 C258.3,246.7 256.0,251.7 254.0,254.0 C252.0,256.3 247.3,257.3 246.0,258.0" fill="none" stroke="#b8c858" stroke-width="1.2" stroke-linecap="round" stroke-linejoin="round"/>
<path d="M272.0,244.0 C273.3,243.0 277.0,238.3 280.0,238.0 C283.0,237.7 288.7,239.7 290.0,242.0 C291.3,244.3 289.7,249.3 288.0,252.0 C286.3,254.7 280.3,255.7 280.0,258.0 C279.7,260.3 283.3,264.0 286.0,266.0 C288.7,268.0 294.3,269.3 296.0,270.0" fill="none" stroke="#e0a050" stroke-width="1.2" stroke-linecap="round" stroke-linejoin="round"/>
<path d="M268.0,266.0 C269.3,265.3 273.3,261.7 276.0,262.0 C278.7,262.3 283.3,265.3 284.0,268.0 C284.7,270.7 279.0,275.3 280.0,278.0 C281.0,280.7 288.3,283.0 290.0,284.0" fill="none" stroke="#58a070" stroke-width="1.2" stroke-linecap="round" stroke-linejoin="round"/>
<path d="M316.0,240.0 C317.3,241.0 323.3,243.3 324.0,246.0 C324.7,248.7 319.3,253.3 320.0,256.0 C320.7,258.7 325.7,259.3 328.0,262.0 C330.3,264.7 333.7,268.3 334.0,272.0 C334.3,275.7 330.7,282.0 330.0,284.0" fill="none" stroke="#c05848" stroke-width="1.2" stroke-linecap="round" stroke-linejoin="round"/>
<path d="M276.0,286.0 C277.3,285.0 281.0,280.0 284.0,280.0 C287.0,280.0 290.7,286.0 294.0,286.0 C297.3,286.0 300.7,280.0 304.0,280.0 C307.3,280.0 312.3,285.0 314.0,286.0" fill="none" stroke="#8a5a30" stroke-width="1.6" stroke-linecap="round" stroke-linejoin="round"/>
<path d="M232.0,256.0 C231.3,257.0 228.0,259.7 228.0,262.0 C228.0,264.3 230.0,269.3 232.0,270.0 C234.0,270.7 238.7,266.7 240.0,266.0" fill="none" stroke="#d0d060" stroke-width="1.2" stroke-linecap="round" stroke-linejoin="round"/>
<path d="M314.9,269.4 L314.6,269.1 L314.0,268.0 L313.4,266.3 L312.8,264.3 L312.6,262.3 L312.8,260.8 L313.6,259.9 L310.0,261.8 L309.3,262.7 L309.1,264.3 L309.3,266.3 L309.8,268.2 L310.5,269.9 L311.1,271.0 L311.4,271.4Z" fill="#428177"/>
<path d="M321.0,266.0 L320.7,265.7 L320.1,264.6 L319.4,262.9 L318.9,260.9 L318.7,259.0 L318.9,257.4 L319.7,256.5 L316.1,258.4 L315.4,259.4 L315.2,260.9 L315.4,262.9 L315.9,264.9 L316.6,266.6 L317.2,267.7 L317.5,268.0Z" fill="#428177"/>
<path d="M327.1,262.7 L326.8,262.3 L326.2,261.2 L325.5,259.5 L325.0,257.5 L324.8,255.6 L325.0,254.0 L325.8,253.1 L322.2,255.1 L321.5,256.0 L321.3,257.5 L321.5,259.5 L322.0,261.5 L322.7,263.2 L323.3,264.3 L323.6,264.6Z" fill="#428177"/>
<path d="M314.0,267.7 L314.7,268.9 L314.9,269.4 L311.4,271.4 L311.2,270.9 L310.4,269.7Z" fill="#509c90"/>
<path d="M314.4,268.3 L314.9,269.3 L311.4,271.3 L310.8,270.3Z" fill="#6ad0c0"/>
<path d="M314.6,268.7 L314.8,269.1 L311.3,271.1 L311.1,270.7Z" fill="#9ee0d6"/>
<path d="M313.6,259.9 L314.7,259.7 L316.2,260.4 L317.7,261.6 L319.1,263.1 L320.2,264.5 L320.9,265.6 L321.0,266.0 L317.5,268.0 L317.3,267.6 L316.7,266.5 L315.6,265.0 L314.2,263.5 L312.7,262.3 L311.2,261.7 L310.0,261.8Z" fill="#509c90"/>
<path d="M315.5,260.0 L317.0,260.9 L318.5,262.3 L319.7,263.8 L320.6,265.1 L317.0,267.1 L316.2,265.8 L314.9,264.3 L313.5,262.9 L312.0,261.9Z" fill="#6ad0c0"/>
<path d="M317.4,261.3 L319.4,263.4 L315.8,265.3 L313.9,263.2Z" fill="#9ee0d6"/>
<path d="M319.7,256.5 L320.8,256.3 L322.3,257.0 L323.8,258.2 L325.2,259.7 L326.3,261.1 L327.0,262.2 L327.1,262.7 L323.6,264.6 L323.4,264.2 L322.8,263.1 L321.7,261.6 L320.3,260.1 L318.8,258.9 L317.3,258.3 L316.1,258.4Z" fill="#509c90"/>
<path d="M321.6,256.6 L323.1,257.5 L324.6,258.9 L325.8,260.4 L326.7,261.7 L323.1,263.7 L322.3,262.4 L321.0,260.9 L319.6,259.5 L318.1,258.6Z" fill="#6ad0c0"/>
<path d="M323.5,257.9 L325.5,260.0 L321.9,262.0 L320.0,259.9Z" fill="#9ee0d6"/>
<path d="M325.8,253.1 L327.0,253.0 L328.5,253.7 L330.1,255.0 L331.5,256.6 L328.0,258.5 L326.6,256.9 L325.0,255.6 L323.5,254.9 L322.2,255.1Z" fill="#509c90"/>
<path d="M326.8,252.9 L328.5,253.7 L330.3,255.1 L326.8,257.1 L325.0,255.6 L323.3,254.9Z" fill="#6ad0c0"/>
<path d="M327.9,253.3 L329.2,254.1 L325.6,256.1 L324.3,255.3Z" fill="#9ee0d6"/>
<path d="M258.0,237.0 L256.0,247.0 L262.0,262.0" fill="none" stroke="#6e431d" stroke-width="4.2" stroke-linejoin="round"/>
<path d="M258.0,237.0 L256.0,247.0 L262.0,262.0" fill="none" stroke="#b87030" stroke-width="2.6" stroke-linejoin="round"/>
<path d="M266.0,237.0 L268.0,250.0 L264.0,262.0" fill="none" stroke="#7d5222" stroke-width="4.2" stroke-linejoin="round"/>
<path d="M266.0,237.0 L268.0,250.0 L264.0,262.0" fill="none" stroke="#d08838" stroke-width="2.6" stroke-linejoin="round"/>
<path d="M256.0,236.0 C257.0,235.3 260.0,232.0 262.0,232.0 C264.0,232.0 267.0,235.3 268.0,236.0" fill="none" stroke="#c88038" stroke-width="1.6" stroke-linecap="round" stroke-linejoin="round"/>
<path d="M230.0,260.0 L233.7,260.8" fill="none" stroke="#6e7d1d" stroke-width="5.5" stroke-linejoin="round"/>
<path d="M230.0,260.0 L233.7,260.8" fill="none" stroke="#b8d030" stroke-width="3.9" stroke-linejoin="round"/>
<path d="M232.8,265.0 L239.0,262.0 L234.7,256.7 Z" fill="#b8d030" stroke="#6e7d1d" stroke-width="0.8"/>
<path d="M231.7,272.8 L231.8,272.4 L232.2,271.3 L232.9,269.9 L233.8,268.3 L235.0,267.0 L236.2,266.3 L237.2,266.2 L233.8,265.0 L232.7,265.1 L231.6,265.9 L230.4,267.2 L229.4,268.8 L228.7,270.2 L228.4,271.3 L228.3,271.7Z" fill="#376828"/>
<path d="M237.6,274.8 L237.7,274.4 L238.0,273.3 L238.7,271.9 L239.7,270.3 L240.9,269.0 L242.0,268.2 L243.1,268.1 L239.7,267.0 L238.6,267.1 L237.5,267.9 L236.3,269.2 L235.3,270.7 L234.6,272.2 L234.2,273.2 L234.2,273.6Z" fill="#376828"/>
<path d="M232.6,269.7 L232.3,271.3 L231.9,272.4 L231.7,272.8 L228.3,271.7 L228.5,271.3 L228.9,270.2 L229.2,268.6Z" fill="#427e30"/>
<path d="M232.4,270.8 L231.8,272.6 L228.4,271.5 L229.0,269.7Z" fill="#58a840"/>
<path d="M232.2,271.6 L232.0,272.3 L228.6,271.1 L228.8,270.5Z" fill="#92c683"/>
<path d="M237.2,266.2 L238.0,266.9 L238.4,268.2 L238.6,269.9 L238.4,271.8 L238.1,273.3 L237.8,274.4 L237.6,274.8 L234.2,273.6 L234.4,273.3 L234.7,272.2 L235.0,270.6 L235.2,268.8 L235.0,267.1 L234.6,265.7 L233.8,265.0Z" fill="#427e30"/>
<path d="M238.3,267.5 L238.6,269.1 L238.5,270.8 L238.3,272.6 L238.0,273.9 L234.6,272.8 L234.9,271.4 L235.1,269.7 L235.1,267.9 L234.9,266.4Z" fill="#58a840"/>
<path d="M238.6,269.6 L238.4,272.1 L235.0,271.0 L235.2,268.4Z" fill="#92c683"/>
<path d="M243.1,268.1 L243.8,268.7 L244.3,269.8 L244.5,271.3 L244.4,273.0 L244.2,274.6 L240.8,273.4 L241.0,271.9 L241.0,270.2 L240.9,268.7 L240.4,267.6 L239.7,267.0Z" fill="#427e30"/>
<path d="M243.9,268.8 L244.4,270.6 L244.4,272.8 L241.0,271.7 L241.0,269.4 L240.4,267.7Z" fill="#58a840"/>
<path d="M244.3,269.8 L244.5,271.3 L241.0,270.2 L240.9,268.7Z" fill="#92c683"/>
<path d="M244.0,282.0 C247.7,285.0 260.3,293.3 266.0,300.0 C271.7,306.7 276.0,318.3 278.0,322.0" fill="none" stroke="#7e5028" stroke-width="3.0" stroke-linecap="round" stroke-linejoin="round"/>
<path d="M251.5,283.2 C255.2,286.3 267.8,295.0 273.5,302.0 C279.2,309.0 283.5,321.2 285.5,325.0" fill="none" stroke="#7e5028" stroke-width="3.0" stroke-linecap="round" stroke-linejoin="round"/>
<path d="M259.0,284.4 C262.7,287.7 275.3,296.7 281.0,304.0 C286.7,311.3 291.0,324.0 293.0,328.0" fill="none" stroke="#7e5028" stroke-width="3.0" stroke-linecap="round" stroke-linejoin="round"/>
<path d="M266.5,285.6 C270.2,289.0 282.8,298.4 288.5,306.0 C294.2,313.6 298.5,326.8 300.5,331.0" fill="none" stroke="#7e5028" stroke-width="3.0" stroke-linecap="round" stroke-linejoin="round"/>
<path d="M274.0,286.8 C277.7,290.3 290.3,300.1 296.0,308.0 C301.7,315.9 306.0,329.7 308.0,334.0" fill="none" stroke="#7e5028" stroke-width="3.0" stroke-linecap="round" stroke-linejoin="round"/>
<path d="M281.5,288.0 C285.2,291.7 297.8,301.8 303.5,310.0 C309.2,318.2 313.5,332.5 315.5,337.0" fill="none" stroke="#7e5028" stroke-width="3.0" stroke-linecap="round" stroke-linejoin="round"/>
<path d="M289.0,289.2 C292.7,293.0 305.5,303.5 311.0,312.0 C316.5,320.5 320.2,335.3 322.0,340.0" fill="none" stroke="#7e5028" stroke-width="3.0" stroke-linecap="round" stroke-linejoin="round"/>
<path d="M296.5,290.4 C300.1,294.3 313.8,305.2 318.0,314.0 C322.2,322.8 321.3,338.2 322.0,343.0" fill="none" stroke="#7e5028" stroke-width="3.0" stroke-linecap="round" stroke-linejoin="round"/>
<path d="M304.0,291.6 C306.3,295.7 315.0,306.9 318.0,316.0 C321.0,325.1 321.3,341.0 322.0,346.0" fill="none" stroke="#7e5028" stroke-width="3.0" stroke-linecap="round" stroke-linejoin="round"/>
<path d="M270,296 C288,290 298,302 296,318 C294,334 284,342 274,340 C262,336 262,318 266,306 Z" fill="#3a48a8" opacity="0.75"/>
<path d="M252,304 C260,304 262,318 260,330 C256,336 250,330 249,318 Z" fill="#d8c040" opacity="0.8"/>
<circle cx="262" cy="296" r="3.5" fill="#2f3c98" opacity="0.8"/>
<circle cx="288" cy="332" r="3.5" fill="#2f3c98" opacity="0.8"/>
<circle cx="280" cy="300" r="3.5" fill="#2f3c98" opacity="0.8"/>
<circle cx="300" cy="312" r="3.5" fill="#2f3c98" opacity="0.8"/>
<path d="M322.0,292.0 L326.0,320.0 L324.0,352.0" fill="none" stroke="#532c18" stroke-width="4.4" stroke-linejoin="round"/>
<path d="M322.0,292.0 L326.0,320.0 L324.0,352.0" fill="none" stroke="#8a4a28" stroke-width="2.8" stroke-linejoin="round"/>
<path d="M328.0,294.0 L331.0,322.0 L328.0,350.0" fill="none" stroke="#60301c" stroke-width="4.6" stroke-linejoin="round"/>
<path d="M328.0,294.0 L331.0,322.0 L328.0,350.0" fill="none" stroke="#a0502e" stroke-width="3.0" stroke-linejoin="round"/>
<path d="M320.0,352.0 C318.3,353.3 313.3,359.3 310.0,360.0 C306.7,360.7 303.0,355.7 300.0,356.0 C297.0,356.3 293.3,361.0 292.0,362.0" fill="none" stroke="#c86048" stroke-width="1.3" stroke-linecap="round" stroke-linejoin="round"/>
<path d="M328.0,350.0 C327.3,351.7 326.7,358.0 324.0,360.0 C321.3,362.0 314.0,361.7 312.0,362.0" fill="none" stroke="#c86048" stroke-width="1.3" stroke-linecap="round" stroke-linejoin="round"/>
<path d="M223.0,352.0 L224.0,320.0 L228.0,290.0 L232.0,274.0" fill="none" stroke="#1c401d" stroke-width="4.8" stroke-linejoin="round"/>
<path d="M223.0,352.0 L224.0,320.0 L228.0,290.0 L232.0,274.0" fill="none" stroke="#2e6a30" stroke-width="3.2" stroke-linejoin="round"/>
<path d="M226.0,350.0 L232.0,300.0 L238.0,276.0" fill="none" stroke="#23491f" stroke-width="4.6" stroke-linejoin="round"/>
<path d="M226.0,350.0 L232.0,300.0 L238.0,276.0" fill="none" stroke="#3a7a34" stroke-width="3.0" stroke-linejoin="round"/>
<path d="M228.0,344.0 L246.6,283.6" fill="none" stroke="#1d461d" stroke-width="5.0" stroke-linejoin="round"/>
<path d="M228.0,344.0 L246.6,283.6" fill="none" stroke="#3a8c3a" stroke-width="3.4" stroke-linejoin="round"/>
<path d="M250.2,284.7 L248.0,279.0 L243.0,282.5 Z" fill="#3a8c3a" stroke="#1d461d" stroke-width="0.8"/>
<path d="M230.0,348.0 L259.0,285.4" fill="none" stroke="#225020" stroke-width="5.0" stroke-linejoin="round"/>
<path d="M230.0,348.0 L259.0,285.4" fill="none" stroke="#44a040" stroke-width="3.4" stroke-linejoin="round"/>
<path d="M262.4,287.0 L261.0,281.0 L255.5,283.8 Z" fill="#44a040" stroke="#225020" stroke-width="0.8"/>
<path d="M232.0,350.0 L270.4,291.0" fill="none" stroke="#1d4d22" stroke-width="5.0" stroke-linejoin="round"/>
<path d="M232.0,350.0 L270.4,291.0" fill="none" stroke="#3a9a44" stroke-width="3.4" stroke-linejoin="round"/>
<path d="M273.6,293.1 L273.0,287.0 L267.2,289.0 Z" fill="#3a9a44" stroke="#1d4d22" stroke-width="0.8"/>
<path d="M235.0,353.0 L282.0,295.7" fill="none" stroke="#1c502c" stroke-width="5.0" stroke-linejoin="round"/>
<path d="M235.0,353.0 L282.0,295.7" fill="none" stroke="#38a058" stroke-width="3.4" stroke-linejoin="round"/>
<path d="M284.9,298.1 L285.0,292.0 L279.0,293.3 Z" fill="#38a058" stroke="#1c502c" stroke-width="0.8"/>
<path d="M241.0,355.0 L289.7,302.5" fill="none" stroke="#1d5240" stroke-width="5.0" stroke-linejoin="round"/>
<path d="M241.0,355.0 L289.7,302.5" fill="none" stroke="#3aa480" stroke-width="3.4" stroke-linejoin="round"/>
<path d="M292.5,305.1 L293.0,299.0 L286.9,299.9 Z" fill="#3aa480" stroke="#1d5240" stroke-width="0.8"/>
<path d="M252.0,356.0 L299.7,306.5" fill="none" stroke="#205850" stroke-width="5.0" stroke-linejoin="round"/>
<path d="M252.0,356.0 L299.7,306.5" fill="none" stroke="#3fb0a0" stroke-width="3.4" stroke-linejoin="round"/>
<path d="M302.4,309.1 L303.0,303.0 L296.9,303.8 Z" fill="#3fb0a0" stroke="#205850" stroke-width="0.8"/>
<path d="M263.0,352.0 L310.5,307.3" fill="none" stroke="#2e646b" stroke-width="5.0" stroke-linejoin="round"/>
<path d="M263.0,352.0 L310.5,307.3" fill="none" stroke="#5cc8d6" stroke-width="3.4" stroke-linejoin="round"/>
<path d="M313.1,310.1 L314.0,304.0 L307.9,304.5 Z" fill="#5cc8d6" stroke="#2e646b" stroke-width="0.8"/>
<path d="M276.0,352.0 L314.6,312.4" fill="none" stroke="#641e18" stroke-width="5.0" stroke-linejoin="round"/>
<path d="M276.0,352.0 L314.6,312.4" fill="none" stroke="#c83c30" stroke-width="3.4" stroke-linejoin="round"/>
<path d="M317.4,315.1 L318.0,309.0 L311.9,309.8 Z" fill="#c83c30" stroke="#641e18" stroke-width="0.8"/>
<path d="M294.0,349.0 L318.2,315.9" fill="none" stroke="#763c34" stroke-width="5.0" stroke-linejoin="round"/>
<path d="M294.0,349.0 L318.2,315.9" fill="none" stroke="#ec7868" stroke-width="3.4" stroke-linejoin="round"/>
<path d="M321.2,318.1 L321.0,312.0 L315.1,313.6 Z" fill="#ec7868" stroke="#763c34" stroke-width="0.8"/>
<path d="M302.0,354.0 L321.6,319.2" fill="none" stroke="#5c2518" stroke-width="5.0" stroke-linejoin="round"/>
<path d="M302.0,354.0 L321.6,319.2" fill="none" stroke="#b84a30" stroke-width="3.4" stroke-linejoin="round"/>
<path d="M325.0,321.0 L324.0,315.0 L318.3,317.3 Z" fill="#b84a30" stroke="#5c2518" stroke-width="0.8"/>
<path d="M226.0,354.0 C227.0,355.3 229.7,361.3 232.0,362.0 C234.3,362.7 237.0,358.0 240.0,358.0 C243.0,358.0 246.3,362.3 250.0,362.0 C253.7,361.7 260.0,357.0 262.0,356.0" fill="none" stroke="#60b8a8" stroke-width="1.2" stroke-linecap="round" stroke-linejoin="round"/>
<path d="M264.0,354.0 C264.3,355.0 266.3,358.0 266.0,360.0 C265.7,362.0 261.7,364.0 262.0,366.0 C262.3,368.0 268.0,370.0 268.0,372.0 C268.0,374.0 262.0,376.0 262.0,378.0 C262.0,380.0 268.0,382.0 268.0,384.0 C268.0,386.0 262.2,388.0 262.0,390.0 C261.8,392.0 266.8,394.0 267.0,396.0 C267.2,398.0 263.2,400.3 263.0,402.0 C262.8,403.7 265.5,405.3 266.0,406.0" fill="none" stroke="#5058a8" stroke-width="1.4" stroke-linecap="round" stroke-linejoin="round"/>
</g>
<g>
<path d="M586.0,260.0 C584.3,260.7 579.0,262.3 576.0,264.0 C573.0,265.7 570.0,267.7 568.0,270.0 C566.0,272.3 565.7,275.5 564.0,278.0 C562.3,280.5 558.3,283.0 558.0,285.0 C557.7,287.0 559.7,290.0 562.0,290.0 C564.3,290.0 568.2,286.7 572.0,285.0 C575.8,283.3 580.7,281.5 585.0,280.0 C589.3,278.5 595.8,276.7 598.0,276.0" fill="none" stroke="#5cb4d6" stroke-width="1.5" stroke-linecap="round" stroke-linejoin="round"/>
<path d="M627.0,252.0 C628.2,253.0 632.5,255.3 634.0,258.0 C635.5,260.7 636.7,265.3 636.0,268.0 C635.3,270.7 631.0,273.0 630.0,274.0" fill="none" stroke="#60b8c8" stroke-width="1.4" stroke-linecap="round" stroke-linejoin="round"/>
<path d="M598.0,284.0 C597.3,286.0 594.3,292.3 594.0,296.0 C593.7,299.7 594.0,303.3 596.0,306.0 C598.0,308.7 604.3,311.0 606.0,312.0" fill="none" stroke="#4a58b0" stroke-width="1.4" stroke-linecap="round" stroke-linejoin="round"/>
<path d="M648.0,278.0 C649.0,280.3 653.7,287.5 654.0,292.0 C654.3,296.5 650.7,302.8 650.0,305.0" fill="none" stroke="#4a58b0" stroke-width="1.4" stroke-linecap="round" stroke-linejoin="round"/>
<path d="M642.0,282.0 C639.7,283.3 630.7,286.7 628.0,290.0 C625.3,293.3 626.3,300.0 626.0,302.0" fill="none" stroke="#48b070" stroke-width="1.3" stroke-linecap="round" stroke-linejoin="round"/>
<path d="M566.0,304.0 C568.0,305.0 575.0,307.7 578.0,310.0 C581.0,312.3 582.0,315.7 584.0,318.0 C586.0,320.3 587.7,324.3 590.0,324.0 C592.3,323.7 596.7,319.0 598.0,316.0 C599.3,313.0 597.0,308.7 598.0,306.0 C599.0,303.3 602.3,299.0 604.0,300.0 C605.7,301.0 607.3,310.0 608.0,312.0" fill="none" stroke="#d06a5a" stroke-width="1.5" stroke-linecap="round" stroke-linejoin="round"/>
<path d="M560.0,300.0 C561.0,301.0 564.7,303.3 566.0,306.0 C567.3,308.7 567.0,313.3 568.0,316.0 C569.0,318.7 571.3,321.0 572.0,322.0" fill="none" stroke="#c86858" stroke-width="1.3" stroke-linecap="round" stroke-linejoin="round"/>
<path d="M640.0,330.0 C641.7,332.7 646.3,341.3 650.0,346.0 C653.7,350.7 662.0,354.0 662.0,358.0 C662.0,362.0 652.7,365.7 650.0,370.0 C647.3,374.3 648.3,381.0 646.0,384.0 C643.7,387.0 637.7,387.3 636.0,388.0" fill="none" stroke="#e8b050" stroke-width="1.4" stroke-linecap="round" stroke-linejoin="round"/>
<path d="M664.0,305.0 C665.3,307.2 670.0,313.5 672.0,318.0 C674.0,322.5 676.0,328.0 676.0,332.0 C676.0,336.0 672.7,340.3 672.0,342.0" fill="none" stroke="#4ab04a" stroke-width="1.4" stroke-linecap="round" stroke-linejoin="round"/>
<path d="M562.0,342.0 C562.7,340.3 564.0,334.7 566.0,332.0 C568.0,329.3 572.7,327.0 574.0,326.0" fill="none" stroke="#b0c840" stroke-width="1.3" stroke-linecap="round" stroke-linejoin="round"/>
<path d="M600.0,382.0 C602.0,383.3 607.7,389.3 612.0,390.0 C616.3,390.7 621.7,388.0 626.0,386.0 C630.3,384.0 636.0,379.3 638.0,378.0" fill="none" stroke="#d07040" stroke-width="1.4" stroke-linecap="round" stroke-linejoin="round"/>
<path d="M594.5,264.6 L594.5,263.9 L594.3,262.2 L594.3,259.6 L594.5,256.7 L595.2,254.0 L596.3,252.0 L597.9,251.0 L590.5,252.8 L589.0,253.8 L587.9,255.8 L587.2,258.5 L587.0,261.4 L587.0,264.0 L587.1,265.7 L587.2,266.3Z" fill="#397c87"/>
<path d="M607.1,261.5 L607.1,260.9 L607.0,259.1 L606.9,256.6 L607.2,253.7 L607.8,250.9 L609.0,248.9 L610.5,247.9 L603.2,249.7 L601.6,250.7 L600.5,252.7 L599.8,255.4 L599.6,258.3 L599.6,260.9 L599.8,262.6 L599.8,263.3Z" fill="#397c87"/>
<path d="M619.7,258.4 L619.7,257.8 L619.6,256.0 L619.5,253.5 L619.8,250.6 L620.5,247.9 L621.6,245.8 L623.1,244.8 L615.8,246.6 L614.3,247.6 L613.1,249.6 L612.5,252.4 L612.2,255.3 L612.3,257.8 L612.4,259.6 L612.4,260.2Z" fill="#397c87"/>
<path d="M632.4,255.3 L632.4,254.9 L625.0,256.7 L625.0,257.1Z" fill="#397c87"/>
<path d="M592.9,261.0 L594.1,263.6 L594.5,264.6 L587.2,266.3 L586.7,265.4 L585.6,262.8Z" fill="#4596a4"/>
<path d="M593.5,262.3 L594.4,264.4 L587.1,266.2 L586.2,264.1Z" fill="#5cc8da"/>
<path d="M593.9,263.2 L594.2,263.9 L586.9,265.7 L586.6,265.0Z" fill="#95dbe7"/>
<path d="M597.9,251.0 L599.7,251.2 L601.6,252.5 L603.5,254.6 L605.0,257.0 L606.2,259.3 L606.9,260.9 L607.1,261.5 L599.8,263.3 L599.5,262.7 L598.8,261.1 L597.7,258.8 L596.1,256.3 L594.3,254.2 L592.4,252.9 L590.5,252.8Z" fill="#4596a4"/>
<path d="M600.7,251.7 L602.6,253.5 L604.3,255.8 L605.6,258.2 L606.5,260.2 L599.2,261.9 L598.3,260.0 L597.0,257.6 L595.3,255.3 L593.4,253.5Z" fill="#5cc8da"/>
<path d="M603.1,254.1 L605.3,257.5 L598.0,259.3 L595.8,255.9Z" fill="#95dbe7"/>
<path d="M610.5,247.9 L612.3,248.1 L614.3,249.4 L616.1,251.5 L617.7,253.9 L618.8,256.2 L619.5,257.8 L619.7,258.4 L612.4,260.2 L612.2,259.6 L611.5,258.0 L610.3,255.7 L608.8,253.3 L606.9,251.2 L605.0,249.9 L603.2,249.7Z" fill="#4596a4"/>
<path d="M613.4,248.7 L615.2,250.4 L616.9,252.7 L618.3,255.1 L619.2,257.1 L611.8,258.9 L610.9,256.9 L609.6,254.5 L607.9,252.2 L606.0,250.4Z" fill="#5cc8da"/>
<path d="M615.8,251.0 L617.9,254.4 L610.6,256.2 L608.4,252.8Z" fill="#95dbe7"/>
<path d="M623.1,244.8 L625.0,245.0 L626.9,246.3 L628.7,248.4 L630.3,250.9 L631.4,253.1 L632.1,254.7 L632.4,255.3 L625.0,257.1 L624.8,256.5 L624.1,254.9 L623.0,252.6 L621.4,250.2 L619.6,248.1 L617.6,246.8 L615.8,246.6Z" fill="#4596a4"/>
<path d="M626.0,245.6 L627.9,247.3 L629.6,249.6 L630.9,252.0 L631.8,254.0 L624.5,255.8 L623.6,253.8 L622.2,251.4 L620.5,249.1 L618.7,247.4Z" fill="#5cc8da"/>
<path d="M628.4,247.9 L630.6,251.3 L623.2,253.1 L621.1,249.7Z" fill="#95dbe7"/>
<path d="M648.0,273.0 L622.0,275.0 L602.3,275.0" fill="none" stroke="#242964" stroke-width="4.6" stroke-linejoin="round"/>
<path d="M648.0,273.0 L622.0,275.0 L602.3,275.0" fill="none" stroke="#3c44a6" stroke-width="3.0" stroke-linejoin="round"/>
<path d="M602.3,271.6 L598.0,275.0 L602.3,278.4 Z" fill="#3c44a6" stroke="#242964" stroke-width="0.8"/>
<path d="M602.0,285.0 L626.0,282.0 L650.0,276.0" fill="none" stroke="#242b65" stroke-width="4.2" stroke-linejoin="round"/>
<path d="M602.0,285.0 L626.0,282.0 L650.0,276.0" fill="none" stroke="#3c48a8" stroke-width="2.6" stroke-linejoin="round"/>
<path d="M638.0,284.0 L648.0,272.0 L656.0,262.0" fill="none" stroke="#2b6a43" stroke-width="3.2" stroke-linejoin="round"/>
<path d="M638.0,284.0 L648.0,272.0 L656.0,262.0" fill="none" stroke="#48b070" stroke-width="1.6" stroke-linejoin="round"/>
<path d="M615.5,316.0 L615.3,315.4 L615.4,313.5 L615.8,310.8 L616.6,307.8 L617.8,305.1 L619.3,303.3 L620.9,302.7 L615.4,302.4 L613.8,303.0 L612.3,304.8 L611.1,307.5 L610.3,310.5 L609.9,313.2 L609.8,315.1 L610.0,315.8Z" fill="#242d68"/>
<path d="M625.0,316.5 L624.8,315.8 L624.9,314.0 L625.3,311.2 L626.1,308.3 L627.3,305.6 L628.8,303.8 L630.4,303.2 L624.9,302.9 L623.3,303.5 L621.8,305.3 L620.6,308.0 L619.8,311.0 L619.4,313.7 L619.3,315.6 L619.5,316.2Z" fill="#242d68"/>
<path d="M634.4,317.0 L634.3,316.3 L634.3,314.4 L634.8,311.7 L635.6,308.7 L636.8,306.1 L638.3,304.3 L639.9,303.7 L634.4,303.4 L632.8,304.0 L631.3,305.8 L630.1,308.5 L629.3,311.5 L628.8,314.2 L628.8,316.0 L628.9,316.7Z" fill="#242d68"/>
<path d="M643.9,317.5 L643.8,316.8 L643.8,314.9 L644.3,312.2 L645.1,309.2 L646.3,306.6 L647.8,304.8 L649.4,304.2 L643.9,303.9 L642.3,304.5 L640.8,306.3 L639.6,309.0 L638.8,311.9 L638.3,314.6 L638.3,316.5 L638.4,317.2Z" fill="#242d68"/>
<path d="M615.7,310.6 L615.8,313.4 L615.7,315.4 L615.5,316.0 L610.0,315.8 L610.2,315.1 L610.3,313.1 L610.2,310.3Z" fill="#2c367e"/>
<path d="M615.8,312.5 L615.6,315.7 L610.1,315.5 L610.3,312.2Z" fill="#3a48a8"/>
<path d="M615.8,313.9 L615.8,315.1 L610.3,314.8 L610.3,313.6Z" fill="#7f88c6"/>
<path d="M620.9,302.7 L622.4,303.5 L623.7,305.4 L624.7,308.2 L625.2,311.2 L625.3,314.0 L625.2,315.9 L625.0,316.5 L619.5,316.2 L619.7,315.6 L619.8,313.7 L619.7,311.0 L619.2,307.9 L618.2,305.1 L616.9,303.2 L615.4,302.4Z" fill="#2c367e"/>
<path d="M623.2,304.4 L624.3,306.8 L625.0,309.7 L625.3,312.6 L625.3,315.0 L619.8,314.7 L619.8,312.4 L619.5,309.4 L618.8,306.5 L617.7,304.1Z" fill="#3a48a8"/>
<path d="M624.5,307.6 L625.2,311.8 L619.7,311.6 L619.0,307.3Z" fill="#7f88c6"/>
<path d="M630.4,303.2 L631.9,303.9 L633.2,305.9 L634.1,308.7 L634.7,311.7 L634.8,314.5 L634.7,316.3 L634.4,317.0 L628.9,316.7 L629.2,316.1 L629.3,314.2 L629.2,311.4 L628.6,308.4 L627.7,305.6 L626.4,303.7 L624.9,302.9Z" fill="#2c367e"/>
<path d="M632.7,304.9 L633.8,307.3 L634.5,310.2 L634.8,313.1 L634.8,315.5 L629.3,315.2 L629.3,312.8 L629.0,309.9 L628.2,307.0 L627.2,304.6Z" fill="#3a48a8"/>
<path d="M634.0,308.1 L634.7,312.3 L629.2,312.0 L628.5,307.8Z" fill="#7f88c6"/>
<path d="M639.9,303.7 L641.4,304.4 L642.7,306.4 L643.6,309.2 L644.2,312.2 L644.3,315.0 L644.2,316.8 L643.9,317.5 L638.4,317.2 L638.7,316.6 L638.8,314.7 L638.7,311.9 L638.1,308.9 L637.2,306.1 L635.9,304.1 L634.4,303.4Z" fill="#2c367e"/>
<path d="M642.2,305.4 L643.2,307.8 L643.9,310.7 L644.3,313.6 L644.3,316.0 L638.8,315.7 L638.8,313.3 L638.4,310.4 L637.7,307.5 L636.6,305.1Z" fill="#3a48a8"/>
<path d="M643.5,308.6 L644.2,312.8 L638.7,312.5 L638.0,308.3Z" fill="#7f88c6"/>
<path d="M649.4,304.2 L650.8,304.8 L652.0,306.5 L652.9,308.9 L653.5,311.7 L653.8,314.4 L653.8,316.5 L648.3,316.2 L648.3,314.1 L648.0,311.4 L647.4,308.6 L646.5,306.2 L645.3,304.5 L643.9,303.9Z" fill="#2c367e"/>
<path d="M651.2,305.2 L652.4,307.5 L653.3,310.4 L653.7,313.5 L648.2,313.3 L647.8,310.2 L646.9,307.2 L645.7,304.9Z" fill="#3a48a8"/>
<path d="M652.4,307.4 L653.3,310.6 L647.8,310.3 L646.9,307.1Z" fill="#7f88c6"/>
<path d="M640.8,311.1 L640.7,310.4 L640.8,308.5 L641.3,305.8 L642.2,302.8 L643.5,300.2 L645.1,298.4 L646.7,297.8 L640.9,297.4 L639.3,298.0 L637.7,299.8 L636.5,302.4 L635.5,305.4 L635.1,308.1 L634.9,310.0 L635.1,310.7Z" fill="#2a722a"/>
<path d="M650.8,311.7 L650.7,311.0 L650.8,309.1 L651.3,306.4 L652.2,303.5 L653.5,300.8 L655.0,299.0 L656.7,298.5 L650.9,298.1 L649.3,298.7 L647.7,300.4 L646.4,303.1 L645.5,306.1 L645.0,308.8 L644.9,310.6 L645.0,311.3Z" fill="#2a722a"/>
<path d="M660.8,312.3 L660.7,311.7 L660.8,309.8 L661.3,307.1 L662.2,304.1 L663.5,301.5 L665.0,299.7 L666.7,299.1 L660.9,298.7 L659.2,299.3 L657.7,301.1 L656.4,303.7 L655.5,306.7 L655.0,309.4 L654.9,311.3 L655.0,312.0Z" fill="#2a722a"/>
<path d="M641.2,308.7 L641.0,310.4 L640.8,311.1 L635.1,310.7 L635.3,310.1 L635.4,308.3Z" fill="#338a33"/>
<path d="M641.1,309.6 L640.9,310.9 L635.1,310.6 L635.3,309.2Z" fill="#44b844"/>
<path d="M641.1,310.2 L641.0,310.7 L635.2,310.3 L635.3,309.8Z" fill="#85d185"/>
<path d="M646.7,297.8 L648.3,298.6 L649.6,300.6 L650.5,303.4 L651.0,306.4 L651.1,309.2 L651.0,311.0 L650.8,311.7 L645.0,311.3 L645.2,310.7 L645.4,308.8 L645.2,306.0 L644.7,303.0 L643.8,300.2 L642.5,298.2 L640.9,297.4Z" fill="#338a33"/>
<path d="M649.0,299.5 L650.1,301.9 L650.8,304.9 L651.1,307.8 L651.1,310.2 L645.3,309.8 L645.3,307.4 L645.0,304.5 L644.3,301.6 L643.2,299.2Z" fill="#44b844"/>
<path d="M650.3,302.8 L651.1,307.0 L645.3,306.6 L644.5,302.4Z" fill="#85d185"/>
<path d="M656.7,298.5 L658.2,299.2 L659.5,301.2 L660.5,304.0 L661.0,307.1 L661.1,309.8 L661.0,311.7 L660.8,312.3 L655.0,312.0 L655.2,311.3 L655.3,309.4 L655.2,306.7 L654.7,303.6 L653.7,300.8 L652.4,298.9 L650.9,298.1Z" fill="#338a33"/>
<path d="M659.0,300.2 L660.1,302.6 L660.8,305.5 L661.1,308.5 L661.1,310.8 L655.3,310.4 L655.3,308.1 L655.0,305.2 L654.3,302.2 L653.2,299.8Z" fill="#44b844"/>
<path d="M660.3,303.4 L661.0,307.7 L655.3,307.3 L654.5,303.0Z" fill="#85d185"/>
<path d="M666.7,299.1 L668.1,299.8 L669.4,301.5 L670.3,304.1 L670.9,306.9 L671.1,309.6 L671.1,311.7 L670.9,312.9 L665.1,312.5 L665.3,311.4 L665.3,309.3 L665.1,306.6 L664.5,303.7 L663.6,301.2 L662.3,299.4 L660.9,298.7Z" fill="#338a33"/>
<path d="M668.8,300.6 L669.9,302.8 L670.6,305.5 L671.0,308.3 L671.1,310.7 L665.3,310.3 L665.2,307.9 L664.8,305.1 L664.1,302.4 L663.0,300.2Z" fill="#44b844"/>
<path d="M670.1,303.5 L670.9,307.5 L665.2,307.1 L664.4,303.1Z" fill="#85d185"/>
<path d="M579.8,334.9 L579.7,334.2 L580.1,332.3 L580.9,329.6 L582.2,326.7 L583.9,324.1 L585.7,322.5 L587.4,322.1 L581.7,321.0 L580.0,321.4 L578.2,323.0 L576.6,325.5 L575.2,328.4 L574.4,331.1 L574.0,333.0 L574.1,333.8Z" fill="#397c24"/>
<path d="M589.6,336.9 L589.5,336.1 L589.9,334.2 L590.7,331.5 L592.0,328.6 L593.7,326.1 L595.5,324.5 L597.2,324.1 L591.5,323.0 L589.8,323.3 L588.0,325.0 L586.4,327.5 L585.0,330.4 L584.2,333.1 L583.8,335.0 L583.9,335.7Z" fill="#397c24"/>
<path d="M599.4,338.8 L599.3,338.1 L599.7,336.2 L600.5,333.5 L601.9,330.6 L603.5,328.0 L605.3,326.4 L607.0,326.1 L601.3,324.9 L599.6,325.3 L597.8,326.9 L596.2,329.4 L594.9,332.4 L594.0,335.1 L593.6,337.0 L593.7,337.7Z" fill="#397c24"/>
<path d="M609.2,340.8 L609.1,340.1 L609.5,338.1 L610.3,335.5 L611.7,332.5 L613.3,330.0 L615.1,328.4 L616.8,328.0 L611.1,326.9 L609.4,327.3 L607.6,328.9 L606.0,331.4 L604.7,334.3 L603.8,337.0 L603.4,338.9 L603.5,339.6Z" fill="#397c24"/>
<path d="M619.0,342.7 L618.9,342.0 L619.3,340.1 L620.1,337.5 L621.4,334.6 L623.1,332.0 L617.4,330.9 L615.7,333.4 L614.4,336.3 L613.6,339.0 L613.2,340.9 L613.3,341.6Z" fill="#397c24"/>
<path d="M580.8,328.7 L580.6,331.9 L580.1,334.1 L579.8,334.9 L574.1,333.8 L574.4,333.0 L574.9,330.7 L575.1,327.5Z" fill="#45962c"/>
<path d="M580.7,330.9 L580.4,333.2 L580.0,334.6 L574.3,333.4 L574.7,332.0 L575.0,329.7Z" fill="#5cc83a"/>
<path d="M580.5,332.4 L580.2,333.8 L574.5,332.6 L574.8,331.3Z" fill="#95db7f"/>
<path d="M587.4,322.1 L588.9,323.1 L589.9,325.3 L590.5,328.3 L590.5,331.5 L590.3,334.3 L589.9,336.2 L589.6,336.9 L583.9,335.7 L584.2,335.1 L584.6,333.2 L584.9,330.4 L584.8,327.2 L584.2,324.2 L583.2,322.0 L581.7,321.0Z" fill="#45962c"/>
<path d="M589.5,324.2 L590.3,326.8 L590.6,329.9 L590.5,332.9 L590.1,335.3 L584.4,334.2 L584.8,331.8 L584.9,328.8 L584.6,325.7 L583.8,323.1Z" fill="#5cc83a"/>
<path d="M590.4,327.7 L590.5,332.1 L584.8,331.0 L584.7,326.5Z" fill="#95db7f"/>
<path d="M597.2,324.1 L598.7,325.1 L599.7,327.3 L600.3,330.3 L600.4,333.5 L600.1,336.3 L599.7,338.2 L599.4,338.8 L593.7,337.7 L594.0,337.0 L594.4,335.1 L594.7,332.3 L594.6,329.1 L594.0,326.2 L593.0,324.0 L591.5,323.0Z" fill="#45962c"/>
<path d="M599.3,326.2 L600.1,328.8 L600.4,331.9 L600.3,334.9 L599.9,337.3 L594.2,336.1 L594.6,333.8 L594.7,330.7 L594.4,327.6 L593.6,325.0Z" fill="#5cc83a"/>
<path d="M600.2,329.6 L600.3,334.1 L594.6,332.9 L594.5,328.5Z" fill="#95db7f"/>
<path d="M607.0,326.1 L608.5,327.1 L609.5,329.3 L610.1,332.2 L610.2,335.4 L609.9,338.2 L609.5,340.1 L609.2,340.8 L603.5,339.6 L603.8,339.0 L604.2,337.1 L604.5,334.3 L604.4,331.1 L603.8,328.1 L602.8,325.9 L601.3,324.9Z" fill="#45962c"/>
<path d="M609.1,328.1 L609.9,330.7 L610.2,333.8 L610.1,336.9 L609.7,339.2 L604.0,338.1 L604.4,335.7 L604.5,332.7 L604.2,329.6 L603.4,327.0Z" fill="#5cc83a"/>
<path d="M610.0,331.6 L610.1,336.0 L604.4,334.9 L604.3,330.5Z" fill="#95db7f"/>
<path d="M616.8,328.0 L618.3,329.0 L619.3,331.2 L619.9,334.2 L620.0,337.4 L619.7,340.2 L619.3,342.1 L619.0,342.7 L613.3,341.6 L613.6,341.0 L614.0,339.1 L614.3,336.2 L614.2,333.0 L613.6,330.1 L612.6,327.9 L611.1,326.9Z" fill="#45962c"/>
<path d="M618.9,330.1 L619.7,332.7 L620.0,335.8 L619.9,338.8 L619.5,341.2 L613.9,340.1 L614.2,337.7 L614.3,334.7 L614.0,331.6 L613.2,328.9Z" fill="#5cc83a"/>
<path d="M619.8,333.6 L619.9,338.0 L614.2,336.9 L614.1,332.4Z" fill="#95db7f"/>
<path d="M555.9,350.9 L556.3,350.2 L557.7,348.6 L560.2,346.6 L563.2,344.7 L566.2,343.3 L568.9,342.9 L570.6,343.6 L566.3,339.3 L564.5,338.6 L561.9,339.0 L558.8,340.4 L555.9,342.3 L553.4,344.3 L552.0,345.9 L551.6,346.6Z" fill="#7c862d"/>
<path d="M563.3,358.4 L563.7,357.6 L565.2,356.0 L567.6,354.0 L570.6,352.1 L573.6,350.8 L576.3,350.3 L578.1,351.0 L573.8,346.7 L572.0,346.0 L569.3,346.5 L566.3,347.8 L563.3,349.7 L560.9,351.7 L559.4,353.3 L559.0,354.1Z" fill="#7c862d"/>
<path d="M570.8,365.8 L571.1,365.0 L572.6,363.5 L575.0,361.5 L578.0,359.5 L581.1,358.2 L583.7,357.8 L585.5,358.5 L581.2,354.2 L579.4,353.5 L576.8,353.9 L573.7,355.2 L570.7,357.2 L568.3,359.2 L566.8,360.7 L566.4,361.5Z" fill="#7c862d"/>
<path d="M578.2,373.2 L578.5,372.5 L580.0,370.9 L582.4,368.9 L585.4,367.0 L588.5,365.6 L591.1,365.2 L592.9,365.9 L588.6,361.6 L586.8,360.9 L584.2,361.3 L581.1,362.7 L578.1,364.6 L575.7,366.6 L574.2,368.2 L573.9,368.9Z" fill="#7c862d"/>
<path d="M559.0,348.2 L556.9,350.4 L555.9,350.9 L551.6,346.6 L552.6,346.1 L554.7,343.9Z" fill="#96a236"/>
<path d="M558.0,349.4 L556.2,350.9 L551.9,346.6 L553.7,345.1Z" fill="#c8d848"/>
<path d="M557.2,350.1 L556.6,350.6 L552.3,346.3 L552.9,345.8Z" fill="#dbe688"/>
<path d="M570.6,343.6 L571.3,345.4 L570.9,348.0 L569.6,351.1 L567.6,354.1 L565.6,356.5 L564.1,358.0 L563.3,358.4 L559.0,354.1 L559.8,353.7 L561.3,352.2 L563.3,349.8 L565.3,346.8 L566.6,343.7 L567.0,341.1 L566.3,339.3Z" fill="#96a236"/>
<path d="M571.3,346.8 L570.3,349.6 L568.6,352.6 L566.7,355.4 L564.8,357.3 L560.5,353.0 L562.3,351.0 L564.3,348.3 L566.0,345.3 L566.9,342.4Z" fill="#c8d848"/>
<path d="M569.9,350.5 L567.2,354.6 L562.9,350.3 L565.6,346.2Z" fill="#dbe688"/>
<path d="M578.1,351.0 L578.8,352.8 L578.3,355.5 L577.0,358.5 L575.1,361.5 L573.1,363.9 L571.5,365.4 L570.8,365.8 L566.4,361.5 L567.2,361.1 L568.8,359.6 L570.8,357.2 L572.7,354.2 L574.0,351.2 L574.5,348.5 L573.8,346.7Z" fill="#96a236"/>
<path d="M578.7,354.2 L577.7,357.0 L576.1,360.1 L574.1,362.8 L572.3,364.8 L567.9,360.4 L569.8,358.5 L571.8,355.8 L573.4,352.7 L574.4,349.9Z" fill="#c8d848"/>
<path d="M577.3,357.9 L574.7,362.1 L570.3,357.8 L573.0,353.6Z" fill="#dbe688"/>
<path d="M585.5,358.5 L586.2,360.3 L585.8,362.9 L584.4,366.0 L582.5,368.9 L580.5,371.4 L578.9,372.8 L578.2,373.2 L573.9,368.9 L574.6,368.5 L576.2,367.1 L578.2,364.6 L580.1,361.7 L581.5,358.6 L581.9,356.0 L581.2,354.2Z" fill="#96a236"/>
<path d="M586.1,361.6 L585.2,364.5 L583.5,367.5 L581.5,370.2 L579.7,372.2 L575.4,367.9 L577.2,365.9 L579.2,363.2 L580.9,360.2 L581.8,357.3Z" fill="#c8d848"/>
<path d="M584.7,365.3 L582.1,369.5 L577.8,365.2 L580.4,361.0Z" fill="#dbe688"/>
<path d="M592.9,365.9 L593.6,368.7 L589.3,364.4 L588.6,361.6Z" fill="#96a236"/>
<path d="M593.3,366.3 L593.6,367.9 L589.3,363.6 L589.0,362.0Z" fill="#c8d848"/>
<path d="M593.5,366.8 L593.6,367.3 L589.3,363.0 L589.2,362.5Z" fill="#dbe688"/>
<path d="M587.2,369.1 L587.1,368.4 L587.5,366.4 L588.5,363.7 L589.9,360.7 L591.6,358.2 L593.5,356.6 L595.3,356.2 L589.6,354.9 L587.9,355.2 L586.0,356.9 L584.2,359.4 L582.8,362.4 L581.9,365.1 L581.5,367.1 L581.5,367.8Z" fill="#867732"/>
<path d="M596.9,371.4 L596.9,370.6 L597.3,368.7 L598.2,365.9 L599.6,363.0 L601.4,360.4 L603.3,358.8 L605.0,358.5 L599.4,357.2 L597.6,357.5 L595.7,359.1 L594.0,361.7 L592.6,364.6 L591.6,367.4 L591.2,369.3 L591.3,370.1Z" fill="#867732"/>
<path d="M606.6,373.6 L606.6,372.9 L607.0,370.9 L608.0,368.2 L609.4,365.2 L611.1,362.7 L613.0,361.1 L614.8,360.8 L609.1,359.4 L607.4,359.8 L605.5,361.4 L603.7,363.9 L602.3,366.9 L601.4,369.6 L600.9,371.6 L601.0,372.3Z" fill="#867732"/>
<path d="M616.4,375.9 L616.3,375.2 L616.7,373.2 L617.7,370.5 L619.1,367.5 L620.9,364.9 L622.7,363.3 L624.5,363.0 L618.9,361.7 L617.1,362.0 L615.2,363.6 L613.5,366.2 L612.0,369.2 L611.1,371.9 L610.7,373.9 L610.7,374.6Z" fill="#867732"/>
<path d="M626.1,378.2 L626.1,377.4 L626.5,375.5 L627.4,372.7 L628.9,369.8 L630.6,367.2 L632.5,365.6 L634.3,365.3 L628.6,364.0 L626.8,364.3 L625.0,365.9 L623.2,368.5 L621.8,371.4 L620.8,374.2 L620.4,376.1 L620.5,376.9Z" fill="#867732"/>
<path d="M635.9,380.4 L635.8,379.7 L636.2,377.7 L637.2,375.0 L638.6,372.0 L640.3,369.5 L642.2,367.9 L644.0,367.5 L638.3,366.2 L636.6,366.5 L634.7,368.2 L632.9,370.7 L631.5,373.7 L630.6,376.4 L630.2,378.4 L630.2,379.1Z" fill="#867732"/>
<path d="M588.4,364.2 L588.0,366.8 L587.5,368.6 L587.2,369.1 L581.5,367.8 L581.9,367.2 L582.3,365.5 L582.7,362.9Z" fill="#a2903c"/>
<path d="M588.1,366.0 L587.4,368.9 L581.7,367.6 L582.5,364.7Z" fill="#d8c050"/>
<path d="M587.9,367.2 L587.6,368.3 L582.0,367.0 L582.2,365.9Z" fill="#e6d68d"/>
<path d="M595.3,356.2 L596.7,357.3 L597.7,359.6 L598.2,362.6 L598.1,365.9 L597.8,368.8 L597.3,370.7 L596.9,371.4 L591.3,370.1 L591.6,369.4 L592.1,367.5 L592.5,364.6 L592.5,361.3 L592.1,358.3 L591.1,356.0 L589.6,354.9Z" fill="#a2903c"/>
<path d="M597.3,358.4 L598.0,361.1 L598.2,364.3 L598.0,367.4 L597.6,369.8 L591.9,368.5 L592.3,366.1 L592.6,363.0 L592.4,359.8 L591.7,357.1Z" fill="#d8c050"/>
<path d="M598.1,362.0 L598.1,366.6 L592.4,365.2 L592.5,360.7Z" fill="#e6d68d"/>
<path d="M605.0,358.5 L606.5,359.6 L607.5,361.8 L607.9,364.9 L607.9,368.2 L607.5,371.1 L607.0,373.0 L606.6,373.6 L601.0,372.3 L601.4,371.7 L601.9,369.8 L602.2,366.9 L602.3,363.6 L601.8,360.5 L600.8,358.2 L599.4,357.2Z" fill="#a2903c"/>
<path d="M607.1,360.7 L607.8,363.4 L607.9,366.6 L607.7,369.7 L607.3,372.1 L601.6,370.8 L602.1,368.3 L602.3,365.2 L602.1,362.1 L601.4,359.3Z" fill="#d8c050"/>
<path d="M607.9,364.3 L607.8,368.8 L602.2,367.5 L602.2,362.9Z" fill="#e6d68d"/>
<path d="M614.8,360.8 L616.2,361.8 L617.2,364.1 L617.6,367.2 L617.6,370.4 L617.3,373.3 L616.8,375.3 L616.4,375.9 L610.7,374.6 L611.1,374.0 L611.6,372.0 L612.0,369.1 L612.0,365.9 L611.5,362.8 L610.6,360.5 L609.1,359.4Z" fill="#a2903c"/>
<path d="M616.8,362.9 L617.5,365.6 L617.7,368.8 L617.5,371.9 L617.0,374.4 L611.4,373.1 L611.8,370.6 L612.0,367.5 L611.8,364.3 L611.2,361.6Z" fill="#d8c050"/>
<path d="M617.6,366.5 L617.6,371.1 L611.9,369.8 L612.0,365.2Z" fill="#e6d68d"/>
<path d="M624.5,363.0 L626.0,364.1 L626.9,366.4 L627.4,369.4 L627.4,372.7 L627.0,375.6 L626.5,377.5 L626.1,378.2 L620.5,376.9 L620.9,376.2 L621.3,374.3 L621.7,371.4 L621.7,368.1 L621.3,365.0 L620.3,362.8 L618.9,361.7Z" fill="#a2903c"/>
<path d="M626.6,365.2 L627.2,367.9 L627.4,371.1 L627.2,374.2 L626.8,376.6 L621.1,375.3 L621.6,372.9 L621.8,369.8 L621.6,366.6 L620.9,363.9Z" fill="#d8c050"/>
<path d="M627.3,368.8 L627.3,373.3 L621.7,372.0 L621.7,367.5Z" fill="#e6d68d"/>
<path d="M634.3,365.3 L635.7,366.3 L636.7,368.6 L637.1,371.7 L637.1,375.0 L636.7,377.9 L636.3,379.8 L635.9,380.4 L630.2,379.1 L630.6,378.5 L631.1,376.5 L631.5,373.7 L631.5,370.4 L631.0,367.3 L630.1,365.0 L628.6,364.0Z" fill="#a2903c"/>
<path d="M636.3,367.4 L637.0,370.2 L637.2,373.3 L637.0,376.4 L636.5,378.9 L630.9,377.6 L631.3,375.1 L631.5,372.0 L631.3,368.8 L630.6,366.1Z" fill="#d8c050"/>
<path d="M637.1,371.0 L637.0,375.6 L631.4,374.3 L631.4,369.7Z" fill="#e6d68d"/>
<path d="M644.0,367.5 L645.0,368.1 L639.3,366.8 L638.3,366.2Z" fill="#a2903c"/>
<path d="M644.2,367.6 L644.8,367.9 L639.1,366.6 L638.6,366.3Z" fill="#d8c050"/>
<path d="M644.4,367.7 L644.6,367.8 L639.0,366.5 L638.8,366.4Z" fill="#e6d68d"/>
<path d="M590.1,354.5 L589.6,353.9 L589.0,352.0 L588.3,349.2 L587.9,346.0 L588.1,342.9 L588.8,340.5 L590.2,339.3 L584.7,341.2 L583.3,342.4 L582.6,344.7 L582.5,347.8 L582.8,351.1 L583.5,353.9 L584.2,355.8 L584.6,356.4Z" fill="#905c2d"/>
<path d="M599.5,351.3 L599.1,350.7 L598.4,348.8 L597.8,346.0 L597.4,342.7 L597.5,339.6 L598.3,337.3 L599.6,336.0 L594.1,337.9 L592.8,339.1 L592.1,341.5 L591.9,344.6 L592.3,347.9 L592.9,350.7 L593.6,352.6 L594.1,353.2Z" fill="#905c2d"/>
<path d="M609.0,348.1 L608.6,347.5 L607.9,345.6 L607.2,342.7 L606.9,339.5 L607.0,336.4 L607.7,334.0 L609.1,332.8 L603.6,334.7 L602.3,335.9 L601.5,338.3 L601.4,341.4 L601.7,344.6 L602.4,347.5 L603.1,349.3 L603.5,349.9Z" fill="#905c2d"/>
<path d="M618.5,344.8 L618.0,344.2 L617.3,342.3 L616.7,339.5 L616.3,336.2 L616.5,333.1 L617.2,330.8 L618.5,329.6 L613.1,331.5 L611.7,332.7 L611.0,335.0 L610.8,338.1 L611.2,341.4 L611.9,344.2 L612.5,346.1 L613.0,346.7Z" fill="#905c2d"/>
<path d="M589.8,353.0 L590.1,354.5 L584.6,356.4 L584.4,354.8Z" fill="#ae6f36"/>
<path d="M590.0,353.5 L590.1,354.4 L584.6,356.3 L584.5,355.4Z" fill="#e89448"/>
<path d="M590.1,353.9 L590.1,354.2 L584.7,356.1 L584.6,355.8Z" fill="#f0b988"/>
<path d="M590.2,339.3 L591.9,339.4 L594.0,340.8 L596.0,343.2 L597.7,346.0 L598.9,348.6 L599.5,350.5 L599.5,351.3 L594.1,353.2 L594.0,352.4 L593.4,350.5 L592.2,347.9 L590.5,345.1 L588.5,342.7 L586.5,341.3 L584.7,341.2Z" fill="#ae6f36"/>
<path d="M593.0,340.0 L595.0,342.0 L596.9,344.6 L598.4,347.3 L599.3,349.6 L593.8,351.5 L592.9,349.2 L591.4,346.5 L589.6,343.9 L587.5,341.9Z" fill="#e89448"/>
<path d="M595.6,342.7 L598.0,346.6 L592.5,348.4 L590.1,344.6Z" fill="#f0b988"/>
<path d="M599.6,336.0 L601.4,336.2 L603.4,337.6 L605.4,340.0 L607.2,342.8 L608.4,345.4 L609.0,347.3 L609.0,348.1 L603.5,349.9 L603.5,349.2 L602.9,347.3 L601.7,344.6 L600.0,341.8 L598.0,339.5 L595.9,338.1 L594.1,337.9Z" fill="#ae6f36"/>
<path d="M602.5,336.8 L604.5,338.7 L606.4,341.4 L607.8,344.1 L608.7,346.4 L603.2,348.3 L602.3,346.0 L600.9,343.2 L599.0,340.6 L597.0,338.7Z" fill="#e89448"/>
<path d="M605.1,339.4 L607.4,343.3 L602.0,345.2 L599.6,341.3Z" fill="#f0b988"/>
<path d="M609.1,332.8 L610.9,333.0 L612.9,334.4 L614.9,336.7 L616.6,339.5 L617.8,342.2 L618.4,344.1 L618.5,344.8 L613.0,346.7 L613.0,345.9 L612.4,344.0 L611.1,341.4 L609.4,338.6 L607.4,336.2 L605.4,334.8 L603.6,334.7Z" fill="#ae6f36"/>
<path d="M612.0,333.6 L614.0,335.5 L615.8,338.1 L617.3,340.9 L618.2,343.2 L612.7,345.0 L611.8,342.7 L610.3,340.0 L608.5,337.4 L606.5,335.5Z" fill="#e89448"/>
<path d="M614.5,336.2 L616.9,340.1 L611.4,342.0 L609.0,338.1Z" fill="#f0b988"/>
<path d="M618.5,329.6 L620.2,329.7 L622.2,331.0 L624.1,333.1 L625.8,335.8 L627.1,338.4 L627.8,340.4 L622.3,342.3 L621.6,340.3 L620.3,337.7 L618.6,335.0 L616.7,332.8 L614.8,331.6 L613.1,331.5Z" fill="#ae6f36"/>
<path d="M620.9,330.0 L623.0,331.8 L625.1,334.6 L626.7,337.6 L621.2,339.5 L619.6,336.5 L617.6,333.7 L615.4,331.8Z" fill="#e89448"/>
<path d="M623.0,331.7 L625.2,334.7 L619.7,336.6 L617.5,333.6Z" fill="#f0b988"/>
<path d="M609.6,325.5 L609.7,324.7 L610.3,322.8 L611.6,320.1 L613.4,317.2 L615.5,314.8 L617.6,313.4 L619.4,313.3 L614.0,311.3 L612.1,311.4 L610.0,312.8 L607.9,315.2 L606.1,318.1 L604.9,320.8 L604.2,322.7 L604.2,323.5Z" fill="#8b452e"/>
<path d="M619.0,328.9 L619.1,328.1 L619.7,326.2 L621.0,323.5 L622.8,320.6 L624.9,318.2 L627.0,316.8 L628.8,316.7 L623.4,314.7 L621.5,314.8 L619.4,316.2 L617.3,318.6 L615.5,321.5 L614.3,324.2 L613.6,326.1 L613.6,326.9Z" fill="#8b452e"/>
<path d="M628.4,332.3 L628.5,331.5 L629.1,329.6 L630.4,326.9 L632.2,324.0 L634.3,321.6 L636.4,320.2 L638.2,320.1 L632.8,318.1 L630.9,318.2 L628.8,319.7 L626.7,322.1 L624.9,324.9 L623.7,327.6 L623.0,329.6 L623.0,330.3Z" fill="#8b452e"/>
<path d="M637.8,335.7 L637.9,335.0 L638.5,333.0 L639.8,330.3 L641.6,327.5 L643.7,325.1 L638.2,323.1 L636.1,325.5 L634.3,328.3 L633.1,331.0 L632.4,333.0 L632.4,333.7Z" fill="#8b452e"/>
<path d="M611.0,322.5 L610.2,324.8 L609.6,325.5 L604.2,323.5 L604.7,322.8 L605.6,320.6Z" fill="#a85438"/>
<path d="M610.6,323.7 L609.8,325.4 L604.4,323.4 L605.2,321.7Z" fill="#e0704a"/>
<path d="M610.3,324.4 L610.0,325.0 L604.6,323.0 L604.9,322.4Z" fill="#eba289"/>
<path d="M619.4,313.3 L620.7,314.5 L621.4,317.0 L621.5,320.2 L621.0,323.5 L620.3,326.4 L619.5,328.3 L619.0,328.9 L613.6,326.9 L614.1,326.3 L614.8,324.4 L615.6,321.5 L616.0,318.2 L616.0,315.0 L615.3,312.6 L614.0,311.3Z" fill="#a85438"/>
<path d="M621.2,315.7 L621.5,318.6 L621.3,321.8 L620.7,325.0 L619.9,327.4 L614.5,325.4 L615.2,323.0 L615.9,319.9 L616.1,316.6 L615.7,313.7Z" fill="#e0704a"/>
<path d="M621.5,319.5 L620.9,324.1 L615.4,322.1 L616.1,317.5Z" fill="#eba289"/>
<path d="M628.8,316.7 L630.1,318.0 L630.8,320.4 L630.9,323.6 L630.4,326.9 L629.7,329.8 L628.9,331.7 L628.4,332.3 L623.0,330.3 L623.5,329.7 L624.2,327.8 L625.0,324.9 L625.4,321.6 L625.4,318.4 L624.7,316.0 L623.4,314.7Z" fill="#a85438"/>
<path d="M630.6,319.1 L630.9,322.0 L630.7,325.3 L630.1,328.4 L629.3,330.8 L623.9,328.8 L624.6,326.4 L625.3,323.3 L625.5,320.0 L625.1,317.2Z" fill="#e0704a"/>
<path d="M630.9,322.9 L630.3,327.5 L624.8,325.6 L625.5,320.9Z" fill="#eba289"/>
<path d="M638.2,320.1 L639.5,321.4 L640.2,323.8 L640.3,327.0 L639.8,330.3 L639.1,333.2 L638.3,335.1 L637.8,335.7 L632.4,333.7 L632.9,333.1 L633.6,331.2 L634.4,328.3 L634.8,325.0 L634.8,321.8 L634.1,319.4 L632.8,318.1Z" fill="#a85438"/>
<path d="M640.0,322.6 L640.3,325.4 L640.1,328.7 L639.5,331.8 L638.7,334.2 L633.3,332.3 L634.0,329.8 L634.7,326.7 L634.9,323.4 L634.5,320.6Z" fill="#e0704a"/>
<path d="M640.3,326.3 L639.7,331.0 L634.2,329.0 L634.9,324.3Z" fill="#eba289"/>
<path d="M637.9,347.7 L637.8,347.0 L638.1,345.1 L638.9,342.4 L640.1,339.4 L641.6,336.8 L643.4,335.2 L645.1,334.8 L639.4,333.8 L637.7,334.2 L635.9,335.9 L634.3,338.5 L633.1,341.4 L632.4,344.2 L632.1,346.1 L632.1,346.8Z" fill="#2a752d"/>
<path d="M647.7,349.4 L647.6,348.7 L647.9,346.7 L648.7,344.0 L649.9,341.1 L651.5,338.5 L653.2,336.8 L655.0,336.4 L649.2,335.4 L647.5,335.9 L645.8,337.5 L644.2,340.1 L643.0,343.1 L642.2,345.8 L641.9,347.7 L642.0,348.4Z" fill="#2a752d"/>
<path d="M657.6,351.0 L657.5,350.3 L657.8,348.4 L658.6,345.7 L659.8,342.7 L661.4,340.1 L663.1,338.5 L664.8,338.0 L659.1,337.1 L657.4,337.5 L655.6,339.2 L654.1,341.8 L652.9,344.7 L652.1,347.4 L651.8,349.4 L651.9,350.1Z" fill="#2a752d"/>
<path d="M667.5,352.7 L667.4,352.0 L667.7,350.0 L668.4,347.3 L669.7,344.4 L671.2,341.8 L673.0,340.1 L674.7,339.7 L669.0,338.7 L667.2,339.1 L665.5,340.8 L663.9,343.4 L662.7,346.4 L662.0,349.1 L661.7,351.0 L661.7,351.7Z" fill="#2a752d"/>
<path d="M677.3,354.3 L677.2,354.1 L671.5,353.1 L671.6,353.4Z" fill="#2a752d"/>
<path d="M638.7,342.2 L638.5,345.1 L638.2,347.1 L637.9,347.7 L632.1,346.8 L632.5,346.1 L632.8,344.1 L632.9,341.2Z" fill="#338d36"/>
<path d="M638.6,344.2 L638.1,347.5 L632.3,346.5 L632.9,343.2Z" fill="#44bc48"/>
<path d="M638.5,345.6 L638.2,346.8 L632.5,345.8 L632.7,344.6Z" fill="#85d388"/>
<path d="M645.1,334.8 L646.6,335.7 L647.7,337.9 L648.3,340.8 L648.5,344.0 L648.4,346.8 L648.0,348.7 L647.7,349.4 L642.0,348.4 L642.3,347.8 L642.6,345.9 L642.8,343.0 L642.6,339.9 L642.0,336.9 L640.9,334.8 L639.4,333.8Z" fill="#338d36"/>
<path d="M647.2,336.7 L648.1,339.3 L648.5,342.4 L648.5,345.4 L648.2,347.8 L642.5,346.9 L642.8,344.5 L642.8,341.5 L642.4,338.4 L641.5,335.8Z" fill="#44bc48"/>
<path d="M648.2,340.2 L648.5,344.6 L642.8,343.7 L642.5,339.2Z" fill="#85d388"/>
<path d="M655.0,336.4 L656.4,337.3 L657.6,339.5 L658.2,342.5 L658.4,345.6 L658.2,348.5 L657.9,350.4 L657.6,351.0 L651.9,350.1 L652.2,349.4 L652.5,347.5 L652.7,344.7 L652.5,341.5 L651.8,338.5 L650.7,336.4 L649.2,335.4Z" fill="#338d36"/>
<path d="M657.1,338.4 L657.9,341.0 L658.3,344.1 L658.3,347.1 L658.1,349.5 L652.4,348.5 L652.6,346.1 L652.6,343.1 L652.2,340.0 L651.4,337.4Z" fill="#44bc48"/>
<path d="M658.1,341.8 L658.4,346.3 L652.7,345.3 L652.4,340.9Z" fill="#85d388"/>
<path d="M664.8,338.0 L666.3,339.0 L667.4,341.1 L668.1,344.1 L668.3,347.3 L668.1,350.1 L667.8,352.0 L667.5,352.7 L661.7,351.7 L662.0,351.1 L662.4,349.2 L662.5,346.3 L662.3,343.1 L661.7,340.2 L660.6,338.0 L659.1,337.1Z" fill="#338d36"/>
<path d="M667.0,340.0 L667.8,342.6 L668.2,345.7 L668.2,348.7 L668.0,351.1 L662.2,350.2 L662.5,347.8 L662.5,344.7 L662.1,341.7 L661.2,339.1Z" fill="#44bc48"/>
<path d="M668.0,343.5 L668.2,347.9 L662.5,346.9 L662.2,342.5Z" fill="#85d388"/>
<path d="M674.7,339.7 L676.2,340.6 L677.3,342.8 L677.9,345.7 L678.1,348.9 L678.0,351.8 L677.6,353.7 L677.3,354.3 L671.6,353.4 L671.9,352.7 L672.2,350.8 L672.4,348.0 L672.2,344.8 L671.6,341.8 L670.5,339.7 L669.0,338.7Z" fill="#338d36"/>
<path d="M676.8,341.7 L677.7,344.3 L678.1,347.3 L678.1,350.4 L677.8,352.8 L672.1,351.8 L672.4,349.4 L672.4,346.4 L672.0,343.3 L671.1,340.7Z" fill="#44bc48"/>
<path d="M677.8,345.1 L678.1,349.5 L672.4,348.6 L672.1,344.2Z" fill="#85d388"/>
<path d="M622.8,340.8 L623.6,340.8 L625.5,341.2 L628.3,342.3 L631.2,343.7 L633.7,345.6 L635.3,347.5 L635.5,349.2 L637.0,343.6 L636.7,341.9 L635.1,339.9 L632.6,338.1 L629.7,336.6 L627.0,335.6 L625.0,335.2 L624.3,335.2Z" fill="#863c24"/>
<path d="M620.4,350.5 L621.1,350.5 L623.0,350.9 L625.8,351.9 L628.7,353.4 L631.2,355.2 L632.8,357.2 L633.1,358.9 L634.5,353.3 L634.2,351.5 L632.7,349.6 L630.1,347.8 L627.2,346.3 L624.5,345.3 L622.5,344.9 L621.8,344.9Z" fill="#863c24"/>
<path d="M617.9,360.2 L618.6,360.2 L620.6,360.6 L623.3,361.6 L626.2,363.1 L628.7,364.9 L630.3,366.8 L630.6,368.6 L632.0,363.0 L631.7,361.2 L630.2,359.3 L627.7,357.5 L624.7,356.0 L622.0,355.0 L620.1,354.5 L619.3,354.6Z" fill="#863c24"/>
<path d="M615.4,369.9 L616.1,369.8 L618.1,370.3 L620.8,371.3 L623.7,372.8 L626.2,374.6 L627.8,376.5 L628.1,378.3 L629.5,372.7 L629.3,370.9 L627.7,369.0 L625.2,367.2 L622.2,365.7 L619.5,364.7 L617.6,364.2 L616.8,364.3Z" fill="#863c24"/>
<path d="M627.1,342.0 L623.9,341.4 L622.8,340.8 L624.3,335.2 L625.4,335.8 L628.5,336.4Z" fill="#a2482c"/>
<path d="M625.5,341.8 L623.0,341.0 L624.5,335.4 L626.9,336.2Z" fill="#d8603a"/>
<path d="M624.4,341.5 L623.5,341.2 L625.0,335.6 L625.9,335.9Z" fill="#e6987f"/>
<path d="M635.5,349.2 L634.4,350.7 L632.1,351.6 L629.1,352.0 L625.8,351.9 L622.9,351.4 L621.0,350.9 L620.4,350.5 L621.8,344.9 L622.4,345.3 L624.4,345.8 L627.2,346.2 L630.5,346.4 L633.6,346.0 L635.9,345.1 L637.0,343.6Z" fill="#a2482c"/>
<path d="M633.3,351.2 L630.6,351.9 L627.4,352.0 L624.3,351.7 L621.9,351.2 L623.3,345.6 L625.8,346.1 L628.9,346.4 L632.1,346.2 L634.8,345.6Z" fill="#d8603a"/>
<path d="M629.7,351.9 L625.2,351.8 L626.6,346.2 L631.2,346.3Z" fill="#e6987f"/>
<path d="M633.1,358.9 L632.0,360.4 L629.7,361.3 L626.6,361.7 L623.3,361.6 L620.4,361.1 L618.5,360.6 L617.9,360.2 L619.3,354.6 L620.0,355.0 L621.9,355.5 L624.7,355.9 L628.0,356.0 L631.1,355.7 L633.4,354.7 L634.5,353.3Z" fill="#a2482c"/>
<path d="M630.8,360.9 L628.1,361.5 L624.9,361.7 L621.8,361.4 L619.4,360.9 L620.8,355.3 L623.3,355.8 L626.4,356.0 L629.6,355.9 L632.3,355.3Z" fill="#d8603a"/>
<path d="M627.2,361.6 L622.7,361.5 L624.1,355.9 L628.7,356.0Z" fill="#e6987f"/>
<path d="M630.6,368.6 L629.5,370.0 L627.2,371.0 L624.1,371.3 L620.8,371.2 L618.0,370.8 L616.0,370.3 L615.4,369.9 L616.8,364.3 L617.5,364.7 L619.4,365.2 L622.3,365.6 L625.5,365.7 L628.6,365.3 L630.9,364.4 L632.0,363.0Z" fill="#a2482c"/>
<path d="M628.4,370.6 L625.6,371.2 L622.5,371.3 L619.4,371.1 L616.9,370.6 L618.4,364.9 L620.8,365.4 L623.9,365.7 L627.1,365.6 L629.8,365.0Z" fill="#d8603a"/>
<path d="M624.8,371.3 L620.2,371.2 L621.6,365.6 L626.2,365.7Z" fill="#e6987f"/>
<path d="M628.1,378.3 L627.1,379.7 L625.0,380.6 L622.1,381.0 L619.0,381.0 L616.1,380.6 L617.5,375.0 L620.4,375.4 L623.5,375.4 L626.4,375.0 L628.5,374.1 L629.5,372.7Z" fill="#a2482c"/>
<path d="M626.9,379.8 L623.6,380.9 L619.3,381.0 L620.7,375.4 L625.0,375.2 L628.4,374.2Z" fill="#d8603a"/>
<path d="M625.0,380.6 L622.1,381.0 L623.5,375.4 L626.4,375.0Z" fill="#e6987f"/>
<path d="M587.8,380.4 L588.0,379.8 L589.1,378.3 L591.0,376.5 L593.3,374.6 L595.7,373.3 L597.9,372.7 L599.5,373.1 L595.4,369.8 L593.9,369.4 L591.7,370.0 L589.3,371.4 L586.9,373.2 L585.1,375.0 L584.0,376.5 L583.7,377.1Z" fill="#90562d"/>
<path d="M594.8,386.1 L595.0,385.4 L596.1,384.0 L598.0,382.2 L600.3,380.3 L602.7,378.9 L604.9,378.4 L606.5,378.8 L602.4,375.5 L600.8,375.1 L598.7,375.6 L596.2,377.0 L593.9,378.9 L592.1,380.7 L591.0,382.1 L590.7,382.8Z" fill="#90562d"/>
<path d="M601.8,391.7 L602.1,390.9 L603.7,389.1 L599.6,385.8 L598.1,387.6 L597.7,388.4Z" fill="#90562d"/>
<path d="M589.1,379.1 L587.8,380.4 L583.7,377.1 L585.1,375.8Z" fill="#ae6836"/>
<path d="M588.7,379.7 L587.9,380.4 L583.9,377.1 L584.6,376.4Z" fill="#e88a48"/>
<path d="M588.4,380.0 L588.1,380.2 L584.0,377.0 L584.3,376.7Z" fill="#f0b388"/>
<path d="M599.5,373.1 L600.2,374.6 L600.1,376.8 L599.3,379.5 L597.9,382.1 L596.5,384.3 L595.3,385.7 L594.8,386.1 L590.7,382.8 L591.3,382.4 L592.4,381.0 L593.9,378.8 L595.2,376.2 L596.1,373.5 L596.2,371.3 L595.4,369.8Z" fill="#ae6836"/>
<path d="M600.3,375.7 L599.7,378.2 L598.6,380.8 L597.2,383.3 L595.9,385.1 L591.9,381.8 L593.2,380.0 L594.6,377.5 L595.7,374.9 L596.2,372.4Z" fill="#e88a48"/>
<path d="M599.5,378.9 L597.6,382.6 L593.6,379.3 L595.4,375.6Z" fill="#f0b388"/>
<path d="M606.5,378.8 L607.2,380.2 L607.1,382.5 L606.2,385.1 L604.9,387.8 L603.5,390.0 L602.3,391.4 L601.8,391.7 L597.7,388.4 L598.3,388.1 L599.4,386.7 L600.9,384.5 L602.2,381.9 L603.0,379.2 L603.2,377.0 L602.4,375.5Z" fill="#ae6836"/>
<path d="M607.3,381.4 L606.7,383.8 L605.6,386.5 L604.2,388.9 L602.9,390.7 L598.8,387.4 L600.2,385.6 L601.6,383.2 L602.7,380.5 L603.2,378.1Z" fill="#e88a48"/>
<path d="M606.5,384.6 L604.6,388.3 L600.6,385.0 L602.4,381.3Z" fill="#f0b388"/>
</g>
</svg></body></html>
